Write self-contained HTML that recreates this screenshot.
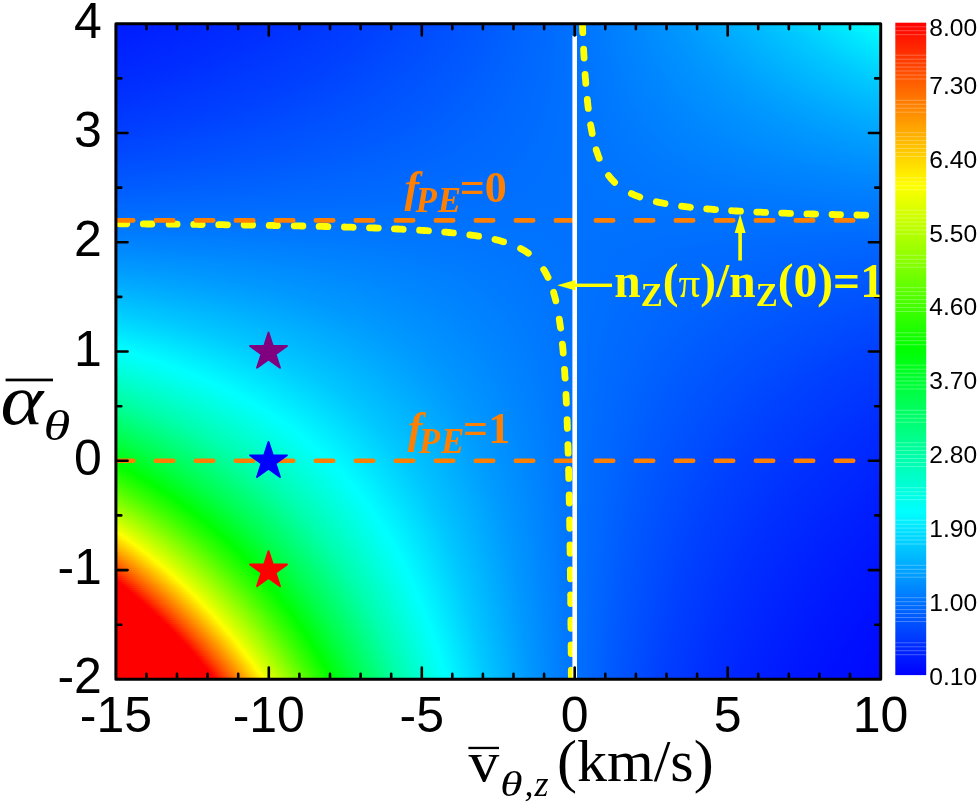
<!DOCTYPE html>
<html><head><meta charset="utf-8"><title>plot</title>
<style>html,body{margin:0;padding:0;background:#fff}svg{display:block}.a{font-family:"Liberation Sans",Arial,sans-serif}.t{font-family:"Liberation Serif","Times New Roman",serif}</style></head><body>
<svg width="979" height="804" viewBox="0 0 979 804">
<rect width="979" height="804" fill="#fff"/>
<defs>
<linearGradient id="g0" gradientUnits="userSpaceOnUse" x1="114" x2="882" y1="0" y2="0"><stop offset="0" stop-color="#001bff"/><stop offset=".091" stop-color="#0023ff"/><stop offset=".221" stop-color="#0030ff"/><stop offset=".351" stop-color="#0041ff"/><stop offset=".48" stop-color="#0058ff"/><stop offset=".61" stop-color="#0074ff"/><stop offset=".74" stop-color="#0099ff"/><stop offset=".869" stop-color="#00c8ff"/><stop offset=".989" stop-color="#00ffff"/><stop offset=".999" stop-color="#00fffa"/></linearGradient>
<linearGradient id="g1" gradientUnits="userSpaceOnUse" x1="114" x2="882" y1="0" y2="0"><stop offset="0" stop-color="#001bff"/><stop offset=".086" stop-color="#0023ff"/><stop offset=".217" stop-color="#0030ff"/><stop offset=".348" stop-color="#0041ff"/><stop offset=".479" stop-color="#0058ff"/><stop offset=".61" stop-color="#0074ff"/><stop offset=".741" stop-color="#0099ff"/><stop offset=".872" stop-color="#00c8ff"/><stop offset=".993" stop-color="#00ffff"/><stop offset="1" stop-color="#00fffb"/></linearGradient>
<linearGradient id="g2" gradientUnits="userSpaceOnUse" x1="114" x2="882" y1="0" y2="0"><stop offset="0" stop-color="#001cff"/><stop offset=".081" stop-color="#0023ff"/><stop offset=".213" stop-color="#0030ff"/><stop offset=".345" stop-color="#0041ff"/><stop offset=".478" stop-color="#0058ff"/><stop offset=".61" stop-color="#0074ff"/><stop offset=".742" stop-color="#0099ff"/><stop offset=".875" stop-color="#00c8ff"/><stop offset=".997" stop-color="#00ffff"/><stop offset="1" stop-color="#00fffd"/></linearGradient>
<linearGradient id="g3" gradientUnits="userSpaceOnUse" x1="114" x2="882" y1="0" y2="0"><stop offset="0" stop-color="#001cff"/><stop offset=".075" stop-color="#0023ff"/><stop offset=".209" stop-color="#0030ff"/><stop offset=".343" stop-color="#0041ff"/><stop offset=".476" stop-color="#0058ff"/><stop offset=".61" stop-color="#0074ff"/><stop offset=".744" stop-color="#0099ff"/><stop offset=".878" stop-color="#00c8ff"/><stop offset="1" stop-color="#00ffff"/></linearGradient>
<linearGradient id="g4" gradientUnits="userSpaceOnUse" x1="114" x2="882" y1="0" y2="0"><stop offset="0" stop-color="#001dff"/><stop offset=".07" stop-color="#0023ff"/><stop offset=".205" stop-color="#0030ff"/><stop offset=".34" stop-color="#0041ff"/><stop offset=".475" stop-color="#0058ff"/><stop offset=".61" stop-color="#0074ff"/><stop offset=".745" stop-color="#0099ff"/><stop offset=".881" stop-color="#00c8ff"/><stop offset="1" stop-color="#00fdff"/></linearGradient>
<linearGradient id="g5" gradientUnits="userSpaceOnUse" x1="114" x2="882" y1="0" y2="0"><stop offset="0" stop-color="#001dff"/><stop offset=".064" stop-color="#0023ff"/><stop offset=".201" stop-color="#0030ff"/><stop offset=".337" stop-color="#0041ff"/><stop offset=".474" stop-color="#0058ff"/><stop offset=".61" stop-color="#0074ff"/><stop offset=".747" stop-color="#0099ff"/><stop offset=".884" stop-color="#00c8ff"/><stop offset="1" stop-color="#00faff"/></linearGradient>
<linearGradient id="g6" gradientUnits="userSpaceOnUse" x1="114" x2="882" y1="0" y2="0"><stop offset="0" stop-color="#001eff"/><stop offset=".058" stop-color="#0023ff"/><stop offset=".196" stop-color="#0030ff"/><stop offset=".334" stop-color="#0041ff"/><stop offset=".472" stop-color="#0058ff"/><stop offset=".611" stop-color="#0074ff"/><stop offset=".749" stop-color="#0099ff"/><stop offset=".887" stop-color="#00c8ff"/><stop offset="1" stop-color="#00f8ff"/></linearGradient>
<linearGradient id="g7" gradientUnits="userSpaceOnUse" x1="114" x2="882" y1="0" y2="0"><stop offset="0" stop-color="#001eff"/><stop offset=".052" stop-color="#0023ff"/><stop offset=".192" stop-color="#0030ff"/><stop offset=".331" stop-color="#0041ff"/><stop offset=".471" stop-color="#0058ff"/><stop offset=".611" stop-color="#0074ff"/><stop offset=".75" stop-color="#0099ff"/><stop offset=".89" stop-color="#00c8ff"/><stop offset="1" stop-color="#00f6ff"/></linearGradient>
<linearGradient id="g8" gradientUnits="userSpaceOnUse" x1="114" x2="882" y1="0" y2="0"><stop offset="0" stop-color="#001fff"/><stop offset=".046" stop-color="#0023ff"/><stop offset=".187" stop-color="#0030ff"/><stop offset=".329" stop-color="#0041ff"/><stop offset=".47" stop-color="#0058ff"/><stop offset=".611" stop-color="#0074ff"/><stop offset=".752" stop-color="#0099ff"/><stop offset=".893" stop-color="#00c8ff"/><stop offset="1" stop-color="#00f4ff"/></linearGradient>
<linearGradient id="g9" gradientUnits="userSpaceOnUse" x1="114" x2="882" y1="0" y2="0"><stop offset="0" stop-color="#001fff"/><stop offset=".04" stop-color="#0023ff"/><stop offset=".183" stop-color="#0030ff"/><stop offset=".326" stop-color="#0041ff"/><stop offset=".468" stop-color="#0058ff"/><stop offset=".611" stop-color="#0074ff"/><stop offset=".754" stop-color="#0099ff"/><stop offset=".896" stop-color="#00c8ff"/><stop offset="1" stop-color="#00f2ff"/></linearGradient>
<linearGradient id="g10" gradientUnits="userSpaceOnUse" x1="114" x2="882" y1="0" y2="0"><stop offset="0" stop-color="#0020ff"/><stop offset=".034" stop-color="#0023ff"/><stop offset=".178" stop-color="#0030ff"/><stop offset=".322" stop-color="#0041ff"/><stop offset=".467" stop-color="#0058ff"/><stop offset=".611" stop-color="#0074ff"/><stop offset=".755" stop-color="#0099ff"/><stop offset=".9" stop-color="#00c8ff"/><stop offset="1" stop-color="#00f0ff"/></linearGradient>
<linearGradient id="g11" gradientUnits="userSpaceOnUse" x1="114" x2="882" y1="0" y2="0"><stop offset="0" stop-color="#0020ff"/><stop offset=".027" stop-color="#0023ff"/><stop offset=".173" stop-color="#0030ff"/><stop offset=".319" stop-color="#0041ff"/><stop offset=".465" stop-color="#0058ff"/><stop offset=".611" stop-color="#0074ff"/><stop offset=".757" stop-color="#0099ff"/><stop offset=".903" stop-color="#00c8ff"/><stop offset="1" stop-color="#00eeff"/></linearGradient>
<linearGradient id="g12" gradientUnits="userSpaceOnUse" x1="114" x2="882" y1="0" y2="0"><stop offset="0" stop-color="#0021ff"/><stop offset=".021" stop-color="#0023ff"/><stop offset=".168" stop-color="#0030ff"/><stop offset=".316" stop-color="#0041ff"/><stop offset=".464" stop-color="#0058ff"/><stop offset=".611" stop-color="#0074ff"/><stop offset=".759" stop-color="#0099ff"/><stop offset=".907" stop-color="#00c8ff"/><stop offset="1" stop-color="#00ecff"/></linearGradient>
<linearGradient id="g13" gradientUnits="userSpaceOnUse" x1="114" x2="882" y1="0" y2="0"><stop offset="0" stop-color="#0021ff"/><stop offset=".014" stop-color="#0023ff"/><stop offset=".163" stop-color="#0030ff"/><stop offset=".313" stop-color="#0041ff"/><stop offset=".462" stop-color="#0058ff"/><stop offset=".611" stop-color="#0074ff"/><stop offset=".761" stop-color="#0099ff"/><stop offset=".91" stop-color="#00c8ff"/><stop offset="1" stop-color="#00ebff"/></linearGradient>
<linearGradient id="g14" gradientUnits="userSpaceOnUse" x1="114" x2="882" y1="0" y2="0"><stop offset="0" stop-color="#0022ff"/><stop offset=".007" stop-color="#0023ff"/><stop offset=".158" stop-color="#0030ff"/><stop offset=".309" stop-color="#0041ff"/><stop offset=".46" stop-color="#0058ff"/><stop offset=".612" stop-color="#0074ff"/><stop offset=".763" stop-color="#0099ff"/><stop offset=".914" stop-color="#00c8ff"/><stop offset="1" stop-color="#00e9ff"/></linearGradient>
<linearGradient id="g15" gradientUnits="userSpaceOnUse" x1="114" x2="882" y1="0" y2="0"><stop offset="0" stop-color="#0023ff"/><stop offset=".153" stop-color="#0030ff"/><stop offset=".306" stop-color="#0041ff"/><stop offset=".459" stop-color="#0058ff"/><stop offset=".612" stop-color="#0074ff"/><stop offset=".765" stop-color="#0099ff"/><stop offset=".918" stop-color="#00c8ff"/><stop offset="1" stop-color="#00e7ff"/></linearGradient>
<linearGradient id="g16" gradientUnits="userSpaceOnUse" x1="114" x2="882" y1="0" y2="0"><stop offset="0" stop-color="#0023ff"/><stop offset=".147" stop-color="#0030ff"/><stop offset=".302" stop-color="#0041ff"/><stop offset=".457" stop-color="#0058ff"/><stop offset=".612" stop-color="#0074ff"/><stop offset=".767" stop-color="#0099ff"/><stop offset=".921" stop-color="#00c8ff"/><stop offset="1" stop-color="#00e5ff"/></linearGradient>
<linearGradient id="g17" gradientUnits="userSpaceOnUse" x1="114" x2="882" y1="0" y2="0"><stop offset="0" stop-color="#0024ff"/><stop offset=".142" stop-color="#0030ff"/><stop offset=".299" stop-color="#0041ff"/><stop offset=".455" stop-color="#0058ff"/><stop offset=".612" stop-color="#0074ff"/><stop offset=".769" stop-color="#0099ff"/><stop offset=".925" stop-color="#00c8ff"/><stop offset="1" stop-color="#00e3ff"/></linearGradient>
<linearGradient id="g18" gradientUnits="userSpaceOnUse" x1="114" x2="882" y1="0" y2="0"><stop offset="0" stop-color="#0024ff"/><stop offset=".136" stop-color="#0030ff"/><stop offset=".295" stop-color="#0041ff"/><stop offset=".454" stop-color="#0058ff"/><stop offset=".612" stop-color="#0074ff"/><stop offset=".771" stop-color="#0099ff"/><stop offset=".929" stop-color="#00c8ff"/><stop offset="1" stop-color="#00e1ff"/></linearGradient>
<linearGradient id="g19" gradientUnits="userSpaceOnUse" x1="114" x2="882" y1="0" y2="0"><stop offset="0" stop-color="#0025ff"/><stop offset=".13" stop-color="#0030ff"/><stop offset=".291" stop-color="#0041ff"/><stop offset=".452" stop-color="#0058ff"/><stop offset=".612" stop-color="#0074ff"/><stop offset=".773" stop-color="#0099ff"/><stop offset=".934" stop-color="#00c8ff"/><stop offset="1" stop-color="#00dfff"/></linearGradient>
<linearGradient id="g20" gradientUnits="userSpaceOnUse" x1="114" x2="882" y1="0" y2="0"><stop offset="0" stop-color="#0025ff"/><stop offset=".125" stop-color="#0030ff"/><stop offset=".287" stop-color="#0041ff"/><stop offset=".45" stop-color="#0058ff"/><stop offset=".612" stop-color="#0074ff"/><stop offset=".775" stop-color="#0099ff"/><stop offset=".938" stop-color="#00c8ff"/><stop offset="1" stop-color="#00ddff"/></linearGradient>
<linearGradient id="g21" gradientUnits="userSpaceOnUse" x1="114" x2="882" y1="0" y2="0"><stop offset="0" stop-color="#0026ff"/><stop offset=".118" stop-color="#0030ff"/><stop offset=".283" stop-color="#0041ff"/><stop offset=".448" stop-color="#0058ff"/><stop offset=".613" stop-color="#0074ff"/><stop offset=".777" stop-color="#0099ff"/><stop offset=".942" stop-color="#00c8ff"/><stop offset="1" stop-color="#00dcff"/></linearGradient>
<linearGradient id="g22" gradientUnits="userSpaceOnUse" x1="114" x2="882" y1="0" y2="0"><stop offset="0" stop-color="#0027ff"/><stop offset=".112" stop-color="#0030ff"/><stop offset=".279" stop-color="#0041ff"/><stop offset=".446" stop-color="#0058ff"/><stop offset=".613" stop-color="#0074ff"/><stop offset=".78" stop-color="#0099ff"/><stop offset=".947" stop-color="#00c8ff"/><stop offset="1" stop-color="#00daff"/></linearGradient>
<linearGradient id="g23" gradientUnits="userSpaceOnUse" x1="114" x2="882" y1="0" y2="0"><stop offset="0" stop-color="#0027ff"/><stop offset=".106" stop-color="#0030ff"/><stop offset=".275" stop-color="#0041ff"/><stop offset=".444" stop-color="#0058ff"/><stop offset=".613" stop-color="#0074ff"/><stop offset=".782" stop-color="#0099ff"/><stop offset=".951" stop-color="#00c8ff"/><stop offset="1" stop-color="#00d8ff"/></linearGradient>
<linearGradient id="g24" gradientUnits="userSpaceOnUse" x1="114" x2="882" y1="0" y2="0"><stop offset="0" stop-color="#0028ff"/><stop offset=".099" stop-color="#0030ff"/><stop offset=".27" stop-color="#0041ff"/><stop offset=".442" stop-color="#0058ff"/><stop offset=".613" stop-color="#0074ff"/><stop offset=".784" stop-color="#0099ff"/><stop offset=".956" stop-color="#00c8ff"/><stop offset="1" stop-color="#00d6ff"/></linearGradient>
<linearGradient id="g25" gradientUnits="userSpaceOnUse" x1="114" x2="882" y1="0" y2="0"><stop offset="0" stop-color="#0028ff"/><stop offset=".092" stop-color="#0030ff"/><stop offset=".266" stop-color="#0041ff"/><stop offset=".44" stop-color="#0058ff"/><stop offset=".613" stop-color="#0074ff"/><stop offset=".787" stop-color="#0099ff"/><stop offset=".961" stop-color="#00c8ff"/><stop offset="1" stop-color="#00d4ff"/></linearGradient>
<linearGradient id="g26" gradientUnits="userSpaceOnUse" x1="114" x2="882" y1="0" y2="0"><stop offset="0" stop-color="#0029ff"/><stop offset=".085" stop-color="#0030ff"/><stop offset=".261" stop-color="#0041ff"/><stop offset=".437" stop-color="#0058ff"/><stop offset=".613" stop-color="#0074ff"/><stop offset=".79" stop-color="#0099ff"/><stop offset=".966" stop-color="#00c8ff"/><stop offset="1" stop-color="#00d3ff"/></linearGradient>
<linearGradient id="g27" gradientUnits="userSpaceOnUse" x1="114" x2="882" y1="0" y2="0"><stop offset="0" stop-color="#002aff"/><stop offset=".078" stop-color="#0030ff"/><stop offset=".257" stop-color="#0041ff"/><stop offset=".435" stop-color="#0058ff"/><stop offset=".614" stop-color="#0074ff"/><stop offset=".792" stop-color="#0099ff"/><stop offset=".971" stop-color="#00c8ff"/><stop offset="1" stop-color="#00d1ff"/></linearGradient>
<linearGradient id="g28" gradientUnits="userSpaceOnUse" x1="114" x2="882" y1="0" y2="0"><stop offset="0" stop-color="#002aff"/><stop offset=".071" stop-color="#0030ff"/><stop offset=".252" stop-color="#0041ff"/><stop offset=".433" stop-color="#0058ff"/><stop offset=".614" stop-color="#0074ff"/><stop offset=".795" stop-color="#0099ff"/><stop offset=".976" stop-color="#00c8ff"/><stop offset="1" stop-color="#00cfff"/></linearGradient>
<linearGradient id="g29" gradientUnits="userSpaceOnUse" x1="114" x2="882" y1="0" y2="0"><stop offset="0" stop-color="#002bff"/><stop offset=".063" stop-color="#0030ff"/><stop offset=".247" stop-color="#0041ff"/><stop offset=".43" stop-color="#0058ff"/><stop offset=".614" stop-color="#0074ff"/><stop offset=".798" stop-color="#0099ff"/><stop offset=".981" stop-color="#00c8ff"/><stop offset="1" stop-color="#00cdff"/></linearGradient>
<linearGradient id="g30" gradientUnits="userSpaceOnUse" x1="114" x2="882" y1="0" y2="0"><stop offset="0" stop-color="#002cff"/><stop offset=".055" stop-color="#0030ff"/><stop offset=".242" stop-color="#0041ff"/><stop offset=".428" stop-color="#0058ff"/><stop offset=".614" stop-color="#0074ff"/><stop offset=".801" stop-color="#0099ff"/><stop offset=".987" stop-color="#00c8ff"/><stop offset="1" stop-color="#00ccff"/></linearGradient>
<linearGradient id="g31" gradientUnits="userSpaceOnUse" x1="114" x2="882" y1="0" y2="0"><stop offset="0" stop-color="#002cff"/><stop offset=".047" stop-color="#0030ff"/><stop offset=".236" stop-color="#0041ff"/><stop offset=".425" stop-color="#0058ff"/><stop offset=".614" stop-color="#0074ff"/><stop offset=".804" stop-color="#0099ff"/><stop offset=".993" stop-color="#00c8ff"/><stop offset="1" stop-color="#00caff"/></linearGradient>
<linearGradient id="g32" gradientUnits="userSpaceOnUse" x1="114" x2="882" y1="0" y2="0"><stop offset="0" stop-color="#002dff"/><stop offset=".039" stop-color="#0030ff"/><stop offset=".231" stop-color="#0041ff"/><stop offset=".423" stop-color="#0058ff"/><stop offset=".615" stop-color="#0074ff"/><stop offset=".807" stop-color="#0099ff"/><stop offset=".999" stop-color="#00c8ff"/></linearGradient>
<linearGradient id="g33" gradientUnits="userSpaceOnUse" x1="114" x2="882" y1="0" y2="0"><stop offset="0" stop-color="#002eff"/><stop offset=".03" stop-color="#0030ff"/><stop offset=".225" stop-color="#0041ff"/><stop offset=".42" stop-color="#0058ff"/><stop offset=".615" stop-color="#0074ff"/><stop offset=".81" stop-color="#0099ff"/><stop offset="1" stop-color="#00c7ff"/></linearGradient>
<linearGradient id="g34" gradientUnits="userSpaceOnUse" x1="114" x2="882" y1="0" y2="0"><stop offset="0" stop-color="#002eff"/><stop offset=".022" stop-color="#0030ff"/><stop offset=".219" stop-color="#0041ff"/><stop offset=".417" stop-color="#0058ff"/><stop offset=".615" stop-color="#0074ff"/><stop offset=".813" stop-color="#0099ff"/><stop offset="1" stop-color="#00c5ff"/></linearGradient>
<linearGradient id="g35" gradientUnits="userSpaceOnUse" x1="114" x2="882" y1="0" y2="0"><stop offset="0" stop-color="#002fff"/><stop offset=".013" stop-color="#0030ff"/><stop offset=".214" stop-color="#0041ff"/><stop offset=".414" stop-color="#0058ff"/><stop offset=".615" stop-color="#0074ff"/><stop offset=".816" stop-color="#0099ff"/><stop offset="1" stop-color="#00c3ff"/></linearGradient>
<linearGradient id="g36" gradientUnits="userSpaceOnUse" x1="114" x2="882" y1="0" y2="0"><stop offset="0" stop-color="#0030ff"/><stop offset=".003" stop-color="#0030ff"/><stop offset=".207" stop-color="#0041ff"/><stop offset=".412" stop-color="#0058ff"/><stop offset=".616" stop-color="#0074ff"/><stop offset=".82" stop-color="#0099ff"/><stop offset="1" stop-color="#00c2ff"/></linearGradient>
<linearGradient id="g37" gradientUnits="userSpaceOnUse" x1="114" x2="882" y1="0" y2="0"><stop offset="0" stop-color="#0031ff"/><stop offset=".201" stop-color="#0041ff"/><stop offset=".408" stop-color="#0058ff"/><stop offset=".616" stop-color="#0074ff"/><stop offset=".823" stop-color="#0099ff"/><stop offset="1" stop-color="#00c0ff"/></linearGradient>
<linearGradient id="g38" gradientUnits="userSpaceOnUse" x1="114" x2="882" y1="0" y2="0"><stop offset="0" stop-color="#0031ff"/><stop offset=".194" stop-color="#0041ff"/><stop offset=".405" stop-color="#0058ff"/><stop offset=".616" stop-color="#0074ff"/><stop offset=".827" stop-color="#0099ff"/><stop offset="1" stop-color="#00bfff"/></linearGradient>
<linearGradient id="g39" gradientUnits="userSpaceOnUse" x1="114" x2="882" y1="0" y2="0"><stop offset="0" stop-color="#0032ff"/><stop offset=".188" stop-color="#0041ff"/><stop offset=".402" stop-color="#0058ff"/><stop offset=".616" stop-color="#0074ff"/><stop offset=".831" stop-color="#0099ff"/><stop offset="1" stop-color="#00bdff"/></linearGradient>
<linearGradient id="g40" gradientUnits="userSpaceOnUse" x1="114" x2="882" y1="0" y2="0"><stop offset="0" stop-color="#0033ff"/><stop offset=".181" stop-color="#0041ff"/><stop offset=".399" stop-color="#0058ff"/><stop offset=".617" stop-color="#0074ff"/><stop offset=".835" stop-color="#0099ff"/><stop offset="1" stop-color="#00bbff"/></linearGradient>
<linearGradient id="g41" gradientUnits="userSpaceOnUse" x1="114" x2="882" y1="0" y2="0"><stop offset="0" stop-color="#0034ff"/><stop offset=".173" stop-color="#0041ff"/><stop offset=".395" stop-color="#0058ff"/><stop offset=".617" stop-color="#0074ff"/><stop offset=".839" stop-color="#0099ff"/><stop offset="1" stop-color="#00baff"/></linearGradient>
<linearGradient id="g42" gradientUnits="userSpaceOnUse" x1="114" x2="882" y1="0" y2="0"><stop offset="0" stop-color="#0034ff"/><stop offset=".166" stop-color="#0041ff"/><stop offset=".392" stop-color="#0058ff"/><stop offset=".617" stop-color="#0074ff"/><stop offset=".843" stop-color="#0099ff"/><stop offset="1" stop-color="#00b8ff"/></linearGradient>
<linearGradient id="g43" gradientUnits="userSpaceOnUse" x1="114" x2="882" y1="0" y2="0"><stop offset="0" stop-color="#0035ff"/><stop offset=".158" stop-color="#0041ff"/><stop offset=".388" stop-color="#0058ff"/><stop offset=".618" stop-color="#0074ff"/><stop offset=".847" stop-color="#0099ff"/><stop offset="1" stop-color="#00b7ff"/></linearGradient>
<linearGradient id="g44" gradientUnits="userSpaceOnUse" x1="114" x2="882" y1="0" y2="0"><stop offset="0" stop-color="#0036ff"/><stop offset=".15" stop-color="#0041ff"/><stop offset=".384" stop-color="#0058ff"/><stop offset=".618" stop-color="#0074ff"/><stop offset=".852" stop-color="#0099ff"/><stop offset="1" stop-color="#00b5ff"/></linearGradient>
<linearGradient id="g45" gradientUnits="userSpaceOnUse" x1="114" x2="882" y1="0" y2="0"><stop offset="0" stop-color="#0037ff"/><stop offset=".142" stop-color="#0041ff"/><stop offset=".38" stop-color="#0058ff"/><stop offset=".618" stop-color="#0074ff"/><stop offset=".857" stop-color="#0099ff"/><stop offset="1" stop-color="#00b4ff"/></linearGradient>
<linearGradient id="g46" gradientUnits="userSpaceOnUse" x1="114" x2="882" y1="0" y2="0"><stop offset="0" stop-color="#0037ff"/><stop offset=".133" stop-color="#0041ff"/><stop offset=".376" stop-color="#0058ff"/><stop offset=".619" stop-color="#0074ff"/><stop offset=".862" stop-color="#0099ff"/><stop offset="1" stop-color="#00b2ff"/></linearGradient>
<linearGradient id="g47" gradientUnits="userSpaceOnUse" x1="114" x2="882" y1="0" y2="0"><stop offset="0" stop-color="#0038ff"/><stop offset=".124" stop-color="#0041ff"/><stop offset=".371" stop-color="#0058ff"/><stop offset=".619" stop-color="#0074ff"/><stop offset=".867" stop-color="#0099ff"/><stop offset="1" stop-color="#00b1ff"/></linearGradient>
<linearGradient id="g48" gradientUnits="userSpaceOnUse" x1="114" x2="882" y1="0" y2="0"><stop offset="0" stop-color="#0039ff"/><stop offset=".114" stop-color="#0041ff"/><stop offset=".367" stop-color="#0058ff"/><stop offset=".619" stop-color="#0074ff"/><stop offset=".872" stop-color="#0099ff"/><stop offset="1" stop-color="#00afff"/></linearGradient>
<linearGradient id="g49" gradientUnits="userSpaceOnUse" x1="114" x2="882" y1="0" y2="0"><stop offset="0" stop-color="#003aff"/><stop offset=".105" stop-color="#0041ff"/><stop offset=".362" stop-color="#0058ff"/><stop offset=".62" stop-color="#0074ff"/><stop offset=".877" stop-color="#0099ff"/><stop offset="1" stop-color="#00aeff"/></linearGradient>
<linearGradient id="g50" gradientUnits="userSpaceOnUse" x1="114" x2="882" y1="0" y2="0"><stop offset="0" stop-color="#003bff"/><stop offset=".095" stop-color="#0041ff"/><stop offset=".357" stop-color="#0058ff"/><stop offset=".62" stop-color="#0074ff"/><stop offset=".883" stop-color="#0099ff"/><stop offset="1" stop-color="#00acff"/></linearGradient>
<linearGradient id="g51" gradientUnits="userSpaceOnUse" x1="114" x2="882" y1="0" y2="0"><stop offset="0" stop-color="#003cff"/><stop offset=".084" stop-color="#0041ff"/><stop offset=".352" stop-color="#0058ff"/><stop offset=".621" stop-color="#0074ff"/><stop offset=".889" stop-color="#0099ff"/><stop offset="1" stop-color="#00abff"/></linearGradient>
<linearGradient id="g52" gradientUnits="userSpaceOnUse" x1="114" x2="882" y1="0" y2="0"><stop offset="0" stop-color="#003cff"/><stop offset=".073" stop-color="#0041ff"/><stop offset=".347" stop-color="#0058ff"/><stop offset=".621" stop-color="#0074ff"/><stop offset=".895" stop-color="#0099ff"/><stop offset="1" stop-color="#00aaff"/></linearGradient>
<linearGradient id="g53" gradientUnits="userSpaceOnUse" x1="114" x2="882" y1="0" y2="0"><stop offset="0" stop-color="#003dff"/><stop offset=".061" stop-color="#0041ff"/><stop offset=".341" stop-color="#0058ff"/><stop offset=".622" stop-color="#0074ff"/><stop offset=".902" stop-color="#0099ff"/><stop offset="1" stop-color="#00a8ff"/></linearGradient>
<linearGradient id="g54" gradientUnits="userSpaceOnUse" x1="114" x2="882" y1="0" y2="0"><stop offset="0" stop-color="#003eff"/><stop offset=".049" stop-color="#0041ff"/><stop offset=".336" stop-color="#0058ff"/><stop offset=".622" stop-color="#0074ff"/><stop offset=".908" stop-color="#0099ff"/><stop offset="1" stop-color="#00a7ff"/></linearGradient>
<linearGradient id="g55" gradientUnits="userSpaceOnUse" x1="114" x2="882" y1="0" y2="0"><stop offset="0" stop-color="#003fff"/><stop offset=".037" stop-color="#0041ff"/><stop offset=".33" stop-color="#0058ff"/><stop offset=".623" stop-color="#0074ff"/><stop offset=".915" stop-color="#0099ff"/><stop offset="1" stop-color="#00a5ff"/></linearGradient>
<linearGradient id="g56" gradientUnits="userSpaceOnUse" x1="114" x2="882" y1="0" y2="0"><stop offset="0" stop-color="#0040ff"/><stop offset=".024" stop-color="#0041ff"/><stop offset=".323" stop-color="#0058ff"/><stop offset=".623" stop-color="#0074ff"/><stop offset=".923" stop-color="#0099ff"/><stop offset="1" stop-color="#00a4ff"/></linearGradient>
<linearGradient id="g57" gradientUnits="userSpaceOnUse" x1="114" x2="882" y1="0" y2="0"><stop offset="0" stop-color="#0041ff"/><stop offset=".01" stop-color="#0041ff"/><stop offset=".317" stop-color="#0058ff"/><stop offset=".624" stop-color="#0074ff"/><stop offset=".931" stop-color="#0099ff"/><stop offset="1" stop-color="#00a3ff"/></linearGradient>
<linearGradient id="g58" gradientUnits="userSpaceOnUse" x1="114" x2="882" y1="0" y2="0"><stop offset="0" stop-color="#0042ff"/><stop offset=".31" stop-color="#0058ff"/><stop offset=".624" stop-color="#0074ff"/><stop offset=".939" stop-color="#0099ff"/><stop offset="1" stop-color="#00a1ff"/></linearGradient>
<linearGradient id="g59" gradientUnits="userSpaceOnUse" x1="114" x2="882" y1="0" y2="0"><stop offset="0" stop-color="#0043ff"/><stop offset=".302" stop-color="#0058ff"/><stop offset=".625" stop-color="#0074ff"/><stop offset=".947" stop-color="#0099ff"/><stop offset="1" stop-color="#00a0ff"/></linearGradient>
<linearGradient id="g60" gradientUnits="userSpaceOnUse" x1="114" x2="882" y1="0" y2="0"><stop offset="0" stop-color="#0044ff"/><stop offset=".295" stop-color="#0058ff"/><stop offset=".625" stop-color="#0074ff"/><stop offset=".956" stop-color="#0099ff"/><stop offset="1" stop-color="#009eff"/></linearGradient>
<linearGradient id="g61" gradientUnits="userSpaceOnUse" x1="114" x2="882" y1="0" y2="0"><stop offset="0" stop-color="#0045ff"/><stop offset=".287" stop-color="#0058ff"/><stop offset=".626" stop-color="#0074ff"/><stop offset=".966" stop-color="#0099ff"/><stop offset="1" stop-color="#009dff"/></linearGradient>
<linearGradient id="g62" gradientUnits="userSpaceOnUse" x1="114" x2="882" y1="0" y2="0"><stop offset="0" stop-color="#0045ff"/><stop offset=".278" stop-color="#0058ff"/><stop offset=".627" stop-color="#0074ff"/><stop offset=".976" stop-color="#0099ff"/><stop offset="1" stop-color="#009cff"/></linearGradient>
<linearGradient id="g63" gradientUnits="userSpaceOnUse" x1="114" x2="882" y1="0" y2="0"><stop offset="0" stop-color="#0046ff"/><stop offset=".269" stop-color="#0058ff"/><stop offset=".628" stop-color="#0074ff"/><stop offset=".986" stop-color="#0099ff"/><stop offset="1" stop-color="#009aff"/></linearGradient>
<linearGradient id="g64" gradientUnits="userSpaceOnUse" x1="114" x2="882" y1="0" y2="0"><stop offset="0" stop-color="#0047ff"/><stop offset=".26" stop-color="#0058ff"/><stop offset=".628" stop-color="#0074ff"/><stop offset=".997" stop-color="#0099ff"/><stop offset="1" stop-color="#0099ff"/></linearGradient>
<linearGradient id="g65" gradientUnits="userSpaceOnUse" x1="114" x2="882" y1="0" y2="0"><stop offset="0" stop-color="#0048ff"/><stop offset=".249" stop-color="#0058ff"/><stop offset=".629" stop-color="#0074ff"/><stop offset="1" stop-color="#0098ff"/></linearGradient>
<linearGradient id="g66" gradientUnits="userSpaceOnUse" x1="114" x2="882" y1="0" y2="0"><stop offset="0" stop-color="#0049ff"/><stop offset=".239" stop-color="#0058ff"/><stop offset=".63" stop-color="#0074ff"/><stop offset="1" stop-color="#0097ff"/></linearGradient>
<linearGradient id="g67" gradientUnits="userSpaceOnUse" x1="114" x2="882" y1="0" y2="0"><stop offset="0" stop-color="#004aff"/><stop offset=".227" stop-color="#0058ff"/><stop offset=".631" stop-color="#0074ff"/><stop offset="1" stop-color="#0095ff"/></linearGradient>
<linearGradient id="g68" gradientUnits="userSpaceOnUse" x1="114" x2="882" y1="0" y2="0"><stop offset="0" stop-color="#004bff"/><stop offset=".215" stop-color="#0058ff"/><stop offset=".632" stop-color="#0074ff"/><stop offset="1" stop-color="#0094ff"/></linearGradient>
<linearGradient id="g69" gradientUnits="userSpaceOnUse" x1="114" x2="882" y1="0" y2="0"><stop offset="0" stop-color="#004dff"/><stop offset=".202" stop-color="#0058ff"/><stop offset=".633" stop-color="#0074ff"/><stop offset="1" stop-color="#0093ff"/></linearGradient>
<linearGradient id="g70" gradientUnits="userSpaceOnUse" x1="114" x2="882" y1="0" y2="0"><stop offset="0" stop-color="#004eff"/><stop offset=".188" stop-color="#0058ff"/><stop offset=".634" stop-color="#0074ff"/><stop offset="1" stop-color="#0092ff"/></linearGradient>
<linearGradient id="g71" gradientUnits="userSpaceOnUse" x1="114" x2="882" y1="0" y2="0"><stop offset="0" stop-color="#004fff"/><stop offset=".174" stop-color="#0058ff"/><stop offset=".636" stop-color="#0074ff"/><stop offset="1" stop-color="#0090ff"/></linearGradient>
<linearGradient id="g72" gradientUnits="userSpaceOnUse" x1="114" x2="882" y1="0" y2="0"><stop offset="0" stop-color="#0050ff"/><stop offset=".158" stop-color="#0058ff"/><stop offset=".637" stop-color="#0074ff"/><stop offset="1" stop-color="#008fff"/></linearGradient>
<linearGradient id="g73" gradientUnits="userSpaceOnUse" x1="114" x2="882" y1="0" y2="0"><stop offset="0" stop-color="#0051ff"/><stop offset=".14" stop-color="#0058ff"/><stop offset=".638" stop-color="#0074ff"/><stop offset="1" stop-color="#008eff"/></linearGradient>
<linearGradient id="g74" gradientUnits="userSpaceOnUse" x1="114" x2="882" y1="0" y2="0"><stop offset="0" stop-color="#0052ff"/><stop offset=".122" stop-color="#0058ff"/><stop offset=".64" stop-color="#0074ff"/><stop offset="1" stop-color="#008dff"/></linearGradient>
<linearGradient id="g75" gradientUnits="userSpaceOnUse" x1="114" x2="882" y1="0" y2="0"><stop offset="0" stop-color="#0053ff"/><stop offset=".102" stop-color="#0058ff"/><stop offset=".642" stop-color="#0074ff"/><stop offset="1" stop-color="#008cff"/></linearGradient>
<linearGradient id="g76" gradientUnits="userSpaceOnUse" x1="114" x2="882" y1="0" y2="0"><stop offset="0" stop-color="#0054ff"/><stop offset=".08" stop-color="#0058ff"/><stop offset=".643" stop-color="#0074ff"/><stop offset="1" stop-color="#008aff"/></linearGradient>
<linearGradient id="g77" gradientUnits="userSpaceOnUse" x1="114" x2="882" y1="0" y2="0"><stop offset="0" stop-color="#0055ff"/><stop offset=".056" stop-color="#0058ff"/><stop offset=".645" stop-color="#0074ff"/><stop offset="1" stop-color="#0089ff"/></linearGradient>
<linearGradient id="g78" gradientUnits="userSpaceOnUse" x1="114" x2="882" y1="0" y2="0"><stop offset="0" stop-color="#0056ff"/><stop offset=".029" stop-color="#0058ff"/><stop offset=".648" stop-color="#0074ff"/><stop offset="1" stop-color="#0088ff"/></linearGradient>
<linearGradient id="g79" gradientUnits="userSpaceOnUse" x1="114" x2="882" y1="0" y2="0"><stop offset="0" stop-color="#0058ff"/><stop offset=".65" stop-color="#0074ff"/><stop offset="1" stop-color="#0087ff"/></linearGradient>
<linearGradient id="g80" gradientUnits="userSpaceOnUse" x1="114" x2="882" y1="0" y2="0"><stop offset="0" stop-color="#0059ff"/><stop offset=".653" stop-color="#0074ff"/><stop offset="1" stop-color="#0086ff"/></linearGradient>
<linearGradient id="g81" gradientUnits="userSpaceOnUse" x1="114" x2="882" y1="0" y2="0"><stop offset="0" stop-color="#005aff"/><stop offset=".656" stop-color="#0074ff"/><stop offset="1" stop-color="#0085ff"/></linearGradient>
<linearGradient id="g82" gradientUnits="userSpaceOnUse" x1="114" x2="882" y1="0" y2="0"><stop offset="0" stop-color="#005bff"/><stop offset=".659" stop-color="#0074ff"/><stop offset="1" stop-color="#0083ff"/></linearGradient>
<linearGradient id="g83" gradientUnits="userSpaceOnUse" x1="114" x2="882" y1="0" y2="0"><stop offset="0" stop-color="#005cff"/><stop offset=".663" stop-color="#0074ff"/><stop offset="1" stop-color="#0082ff"/></linearGradient>
<linearGradient id="g84" gradientUnits="userSpaceOnUse" x1="114" x2="882" y1="0" y2="0"><stop offset="0" stop-color="#005eff"/><stop offset=".667" stop-color="#0074ff"/><stop offset="1" stop-color="#0081ff"/></linearGradient>
<linearGradient id="g85" gradientUnits="userSpaceOnUse" x1="114" x2="882" y1="0" y2="0"><stop offset="0" stop-color="#005fff"/><stop offset=".672" stop-color="#0074ff"/><stop offset="1" stop-color="#0080ff"/></linearGradient>
<linearGradient id="g86" gradientUnits="userSpaceOnUse" x1="114" x2="882" y1="0" y2="0"><stop offset="0" stop-color="#0060ff"/><stop offset=".678" stop-color="#0074ff"/><stop offset="1" stop-color="#007fff"/></linearGradient>
<linearGradient id="g87" gradientUnits="userSpaceOnUse" x1="114" x2="882" y1="0" y2="0"><stop offset="0" stop-color="#0062ff"/><stop offset=".684" stop-color="#0074ff"/><stop offset="1" stop-color="#007eff"/></linearGradient>
<linearGradient id="g88" gradientUnits="userSpaceOnUse" x1="114" x2="882" y1="0" y2="0"><stop offset="0" stop-color="#0063ff"/><stop offset=".692" stop-color="#0074ff"/><stop offset="1" stop-color="#007dff"/></linearGradient>
<linearGradient id="g89" gradientUnits="userSpaceOnUse" x1="114" x2="882" y1="0" y2="0"><stop offset="0" stop-color="#0064ff"/><stop offset=".702" stop-color="#0074ff"/><stop offset="1" stop-color="#007cff"/></linearGradient>
<linearGradient id="g90" gradientUnits="userSpaceOnUse" x1="114" x2="882" y1="0" y2="0"><stop offset="0" stop-color="#0065ff"/><stop offset=".714" stop-color="#0074ff"/><stop offset="1" stop-color="#007bff"/></linearGradient>
<linearGradient id="g91" gradientUnits="userSpaceOnUse" x1="114" x2="882" y1="0" y2="0"><stop offset="0" stop-color="#0067ff"/><stop offset=".728" stop-color="#0074ff"/><stop offset="1" stop-color="#007aff"/></linearGradient>
<linearGradient id="g92" gradientUnits="userSpaceOnUse" x1="114" x2="882" y1="0" y2="0"><stop offset="0" stop-color="#0068ff"/><stop offset=".748" stop-color="#0074ff"/><stop offset="1" stop-color="#0079ff"/></linearGradient>
<linearGradient id="g93" gradientUnits="userSpaceOnUse" x1="114" x2="882" y1="0" y2="0"><stop offset="0" stop-color="#006aff"/><stop offset=".773" stop-color="#0074ff"/><stop offset="1" stop-color="#0078ff"/></linearGradient>
<linearGradient id="g94" gradientUnits="userSpaceOnUse" x1="114" x2="882" y1="0" y2="0"><stop offset="0" stop-color="#006bff"/><stop offset=".81" stop-color="#0074ff"/><stop offset="1" stop-color="#0076ff"/></linearGradient>
<linearGradient id="g95" gradientUnits="userSpaceOnUse" x1="114" x2="882" y1="0" y2="0"><stop offset="0" stop-color="#006cff"/><stop offset=".867" stop-color="#0074ff"/><stop offset="1" stop-color="#0075ff"/></linearGradient>
<linearGradient id="g96" gradientUnits="userSpaceOnUse" x1="114" x2="882" y1="0" y2="0"><stop offset="0" stop-color="#006eff"/><stop offset=".966" stop-color="#0074ff"/><stop offset="1" stop-color="#0074ff"/></linearGradient>
<linearGradient id="g97" gradientUnits="userSpaceOnUse" x1="114" x2="882" y1="0" y2="0"><stop offset="0" stop-color="#006fff"/><stop offset="1" stop-color="#0073ff"/></linearGradient>
<linearGradient id="g98" gradientUnits="userSpaceOnUse" x1="114" x2="882" y1="0" y2="0"><stop offset="0" stop-color="#0071ff"/><stop offset="1" stop-color="#0072ff"/></linearGradient>
<linearGradient id="g99" gradientUnits="userSpaceOnUse" x1="114" x2="882" y1="0" y2="0"><stop offset="0" stop-color="#0072ff"/><stop offset="1" stop-color="#0071ff"/></linearGradient>
<linearGradient id="g100" gradientUnits="userSpaceOnUse" x1="114" x2="882" y1="0" y2="0"><stop offset="0" stop-color="#0074ff"/><stop offset="1" stop-color="#0070ff"/></linearGradient>
<linearGradient id="g101" gradientUnits="userSpaceOnUse" x1="114" x2="882" y1="0" y2="0"><stop offset="0" stop-color="#0075ff"/><stop offset=".169" stop-color="#0074ff"/><stop offset="1" stop-color="#006fff"/></linearGradient>
<linearGradient id="g102" gradientUnits="userSpaceOnUse" x1="114" x2="882" y1="0" y2="0"><stop offset="0" stop-color="#0077ff"/><stop offset=".3" stop-color="#0074ff"/><stop offset="1" stop-color="#006fff"/></linearGradient>
<linearGradient id="g103" gradientUnits="userSpaceOnUse" x1="114" x2="882" y1="0" y2="0"><stop offset="0" stop-color="#0078ff"/><stop offset=".369" stop-color="#0074ff"/><stop offset="1" stop-color="#006eff"/></linearGradient>
<linearGradient id="g104" gradientUnits="userSpaceOnUse" x1="114" x2="882" y1="0" y2="0"><stop offset="0" stop-color="#007aff"/><stop offset=".413" stop-color="#0074ff"/><stop offset="1" stop-color="#006dff"/></linearGradient>
<linearGradient id="g105" gradientUnits="userSpaceOnUse" x1="114" x2="882" y1="0" y2="0"><stop offset="0" stop-color="#007bff"/><stop offset=".443" stop-color="#0074ff"/><stop offset="1" stop-color="#006cff"/></linearGradient>
<linearGradient id="g106" gradientUnits="userSpaceOnUse" x1="114" x2="882" y1="0" y2="0"><stop offset="0" stop-color="#007dff"/><stop offset=".464" stop-color="#0074ff"/><stop offset="1" stop-color="#006bff"/></linearGradient>
<linearGradient id="g107" gradientUnits="userSpaceOnUse" x1="114" x2="882" y1="0" y2="0"><stop offset="0" stop-color="#007fff"/><stop offset=".481" stop-color="#0074ff"/><stop offset="1" stop-color="#006aff"/></linearGradient>
<linearGradient id="g108" gradientUnits="userSpaceOnUse" x1="114" x2="882" y1="0" y2="0"><stop offset="0" stop-color="#0080ff"/><stop offset=".493" stop-color="#0074ff"/><stop offset="1" stop-color="#0069ff"/></linearGradient>
<linearGradient id="g109" gradientUnits="userSpaceOnUse" x1="114" x2="882" y1="0" y2="0"><stop offset="0" stop-color="#0082ff"/><stop offset=".504" stop-color="#0074ff"/><stop offset="1" stop-color="#0068ff"/></linearGradient>
<linearGradient id="g110" gradientUnits="userSpaceOnUse" x1="114" x2="882" y1="0" y2="0"><stop offset="0" stop-color="#0084ff"/><stop offset=".512" stop-color="#0074ff"/><stop offset="1" stop-color="#0067ff"/></linearGradient>
<linearGradient id="g111" gradientUnits="userSpaceOnUse" x1="114" x2="882" y1="0" y2="0"><stop offset="0" stop-color="#0085ff"/><stop offset=".519" stop-color="#0074ff"/><stop offset="1" stop-color="#0066ff"/></linearGradient>
<linearGradient id="g112" gradientUnits="userSpaceOnUse" x1="114" x2="882" y1="0" y2="0"><stop offset="0" stop-color="#0087ff"/><stop offset=".525" stop-color="#0074ff"/><stop offset="1" stop-color="#0065ff"/></linearGradient>
<linearGradient id="g113" gradientUnits="userSpaceOnUse" x1="114" x2="882" y1="0" y2="0"><stop offset="0" stop-color="#0089ff"/><stop offset=".531" stop-color="#0074ff"/><stop offset="1" stop-color="#0064ff"/></linearGradient>
<linearGradient id="g114" gradientUnits="userSpaceOnUse" x1="114" x2="882" y1="0" y2="0"><stop offset="0" stop-color="#008bff"/><stop offset=".535" stop-color="#0074ff"/><stop offset="1" stop-color="#0063ff"/></linearGradient>
<linearGradient id="g115" gradientUnits="userSpaceOnUse" x1="114" x2="882" y1="0" y2="0"><stop offset="0" stop-color="#008cff"/><stop offset=".539" stop-color="#0074ff"/><stop offset="1" stop-color="#0063ff"/></linearGradient>
<linearGradient id="g116" gradientUnits="userSpaceOnUse" x1="114" x2="882" y1="0" y2="0"><stop offset="0" stop-color="#008eff"/><stop offset=".543" stop-color="#0074ff"/><stop offset="1" stop-color="#0062ff"/></linearGradient>
<linearGradient id="g117" gradientUnits="userSpaceOnUse" x1="114" x2="882" y1="0" y2="0"><stop offset="0" stop-color="#0090ff"/><stop offset=".546" stop-color="#0074ff"/><stop offset="1" stop-color="#0061ff"/></linearGradient>
<linearGradient id="g118" gradientUnits="userSpaceOnUse" x1="114" x2="882" y1="0" y2="0"><stop offset="0" stop-color="#0092ff"/><stop offset=".549" stop-color="#0074ff"/><stop offset="1" stop-color="#0060ff"/></linearGradient>
<linearGradient id="g119" gradientUnits="userSpaceOnUse" x1="114" x2="882" y1="0" y2="0"><stop offset="0" stop-color="#0094ff"/><stop offset=".551" stop-color="#0074ff"/><stop offset="1" stop-color="#005fff"/></linearGradient>
<linearGradient id="g120" gradientUnits="userSpaceOnUse" x1="114" x2="882" y1="0" y2="0"><stop offset="0" stop-color="#0096ff"/><stop offset=".553" stop-color="#0074ff"/><stop offset="1" stop-color="#005eff"/></linearGradient>
<linearGradient id="g121" gradientUnits="userSpaceOnUse" x1="114" x2="882" y1="0" y2="0"><stop offset="0" stop-color="#0098ff"/><stop offset=".555" stop-color="#0074ff"/><stop offset="1" stop-color="#005dff"/></linearGradient>
<linearGradient id="g122" gradientUnits="userSpaceOnUse" x1="114" x2="882" y1="0" y2="0"><stop offset="0" stop-color="#0099ff"/><stop offset=".008" stop-color="#0099ff"/><stop offset=".557" stop-color="#0074ff"/><stop offset="1" stop-color="#005dff"/></linearGradient>
<linearGradient id="g123" gradientUnits="userSpaceOnUse" x1="114" x2="882" y1="0" y2="0"><stop offset="0" stop-color="#009bff"/><stop offset=".032" stop-color="#0099ff"/><stop offset=".559" stop-color="#0074ff"/><stop offset="1" stop-color="#005cff"/></linearGradient>
<linearGradient id="g124" gradientUnits="userSpaceOnUse" x1="114" x2="882" y1="0" y2="0"><stop offset="0" stop-color="#009dff"/><stop offset=".055" stop-color="#0099ff"/><stop offset=".561" stop-color="#0074ff"/><stop offset="1" stop-color="#005bff"/></linearGradient>
<linearGradient id="g125" gradientUnits="userSpaceOnUse" x1="114" x2="882" y1="0" y2="0"><stop offset="0" stop-color="#009fff"/><stop offset=".075" stop-color="#0099ff"/><stop offset=".562" stop-color="#0074ff"/><stop offset="1" stop-color="#005aff"/></linearGradient>
<linearGradient id="g126" gradientUnits="userSpaceOnUse" x1="114" x2="882" y1="0" y2="0"><stop offset="0" stop-color="#00a1ff"/><stop offset=".095" stop-color="#0099ff"/><stop offset=".564" stop-color="#0074ff"/><stop offset="1" stop-color="#0059ff"/></linearGradient>
<linearGradient id="g127" gradientUnits="userSpaceOnUse" x1="114" x2="882" y1="0" y2="0"><stop offset="0" stop-color="#00a4ff"/><stop offset=".113" stop-color="#0099ff"/><stop offset=".565" stop-color="#0074ff"/><stop offset="1" stop-color="#0059ff"/></linearGradient>
<linearGradient id="g128" gradientUnits="userSpaceOnUse" x1="114" x2="882" y1="0" y2="0"><stop offset="0" stop-color="#00a6ff"/><stop offset=".129" stop-color="#0099ff"/><stop offset=".566" stop-color="#0074ff"/><stop offset="1" stop-color="#0058ff"/></linearGradient>
<linearGradient id="g129" gradientUnits="userSpaceOnUse" x1="114" x2="882" y1="0" y2="0"><stop offset="0" stop-color="#00a8ff"/><stop offset=".145" stop-color="#0099ff"/><stop offset=".567" stop-color="#0074ff"/><stop offset=".99" stop-color="#0058ff"/><stop offset="1" stop-color="#0057ff"/></linearGradient>
<linearGradient id="g130" gradientUnits="userSpaceOnUse" x1="114" x2="882" y1="0" y2="0"><stop offset="0" stop-color="#00aaff"/><stop offset=".159" stop-color="#0099ff"/><stop offset=".568" stop-color="#0074ff"/><stop offset=".977" stop-color="#0058ff"/><stop offset="1" stop-color="#0056ff"/></linearGradient>
<linearGradient id="g131" gradientUnits="userSpaceOnUse" x1="114" x2="882" y1="0" y2="0"><stop offset="0" stop-color="#00acff"/><stop offset=".173" stop-color="#0099ff"/><stop offset=".569" stop-color="#0074ff"/><stop offset=".966" stop-color="#0058ff"/><stop offset="1" stop-color="#0055ff"/></linearGradient>
<linearGradient id="g132" gradientUnits="userSpaceOnUse" x1="114" x2="882" y1="0" y2="0"><stop offset="0" stop-color="#00aeff"/><stop offset=".186" stop-color="#0099ff"/><stop offset=".57" stop-color="#0074ff"/><stop offset=".955" stop-color="#0058ff"/><stop offset="1" stop-color="#0055ff"/></linearGradient>
<linearGradient id="g133" gradientUnits="userSpaceOnUse" x1="114" x2="882" y1="0" y2="0"><stop offset="0" stop-color="#00b0ff"/><stop offset=".198" stop-color="#0099ff"/><stop offset=".571" stop-color="#0074ff"/><stop offset=".944" stop-color="#0058ff"/><stop offset="1" stop-color="#0054ff"/></linearGradient>
<linearGradient id="g134" gradientUnits="userSpaceOnUse" x1="114" x2="882" y1="0" y2="0"><stop offset="0" stop-color="#00b3ff"/><stop offset=".209" stop-color="#0099ff"/><stop offset=".572" stop-color="#0074ff"/><stop offset=".934" stop-color="#0058ff"/><stop offset="1" stop-color="#0053ff"/></linearGradient>
<linearGradient id="g135" gradientUnits="userSpaceOnUse" x1="114" x2="882" y1="0" y2="0"><stop offset="0" stop-color="#00b5ff"/><stop offset=".22" stop-color="#0099ff"/><stop offset=".573" stop-color="#0074ff"/><stop offset=".925" stop-color="#0058ff"/><stop offset="1" stop-color="#0052ff"/></linearGradient>
<linearGradient id="g136" gradientUnits="userSpaceOnUse" x1="114" x2="882" y1="0" y2="0"><stop offset="0" stop-color="#00b7ff"/><stop offset=".23" stop-color="#0099ff"/><stop offset=".573" stop-color="#0074ff"/><stop offset=".917" stop-color="#0058ff"/><stop offset="1" stop-color="#0052ff"/></linearGradient>
<linearGradient id="g137" gradientUnits="userSpaceOnUse" x1="114" x2="882" y1="0" y2="0"><stop offset="0" stop-color="#00b9ff"/><stop offset=".24" stop-color="#0099ff"/><stop offset=".574" stop-color="#0074ff"/><stop offset=".908" stop-color="#0058ff"/><stop offset="1" stop-color="#0051ff"/></linearGradient>
<linearGradient id="g138" gradientUnits="userSpaceOnUse" x1="114" x2="882" y1="0" y2="0"><stop offset="0" stop-color="#00bcff"/><stop offset=".249" stop-color="#0099ff"/><stop offset=".575" stop-color="#0074ff"/><stop offset=".9" stop-color="#0058ff"/><stop offset="1" stop-color="#0050ff"/></linearGradient>
<linearGradient id="g139" gradientUnits="userSpaceOnUse" x1="114" x2="882" y1="0" y2="0"><stop offset="0" stop-color="#00beff"/><stop offset=".258" stop-color="#0099ff"/><stop offset=".575" stop-color="#0074ff"/><stop offset=".893" stop-color="#0058ff"/><stop offset="1" stop-color="#0050ff"/></linearGradient>
<linearGradient id="g140" gradientUnits="userSpaceOnUse" x1="114" x2="882" y1="0" y2="0"><stop offset="0" stop-color="#00c1ff"/><stop offset=".266" stop-color="#0099ff"/><stop offset=".576" stop-color="#0074ff"/><stop offset=".886" stop-color="#0058ff"/><stop offset="1" stop-color="#004fff"/></linearGradient>
<linearGradient id="g141" gradientUnits="userSpaceOnUse" x1="114" x2="882" y1="0" y2="0"><stop offset="0" stop-color="#00c3ff"/><stop offset=".274" stop-color="#0099ff"/><stop offset=".576" stop-color="#0074ff"/><stop offset=".879" stop-color="#0058ff"/><stop offset="1" stop-color="#004eff"/></linearGradient>
<linearGradient id="g142" gradientUnits="userSpaceOnUse" x1="114" x2="882" y1="0" y2="0"><stop offset="0" stop-color="#00c5ff"/><stop offset=".281" stop-color="#0099ff"/><stop offset=".577" stop-color="#0074ff"/><stop offset=".873" stop-color="#0058ff"/><stop offset="1" stop-color="#004dff"/></linearGradient>
<linearGradient id="g143" gradientUnits="userSpaceOnUse" x1="114" x2="882" y1="0" y2="0"><stop offset="0" stop-color="#00c8ff"/><stop offset=".289" stop-color="#0099ff"/><stop offset=".578" stop-color="#0074ff"/><stop offset=".866" stop-color="#0058ff"/><stop offset="1" stop-color="#004dff"/></linearGradient>
<linearGradient id="g144" gradientUnits="userSpaceOnUse" x1="114" x2="882" y1="0" y2="0"><stop offset="0" stop-color="#00caff"/><stop offset=".013" stop-color="#00c8ff"/><stop offset=".295" stop-color="#0099ff"/><stop offset=".578" stop-color="#0074ff"/><stop offset=".861" stop-color="#0058ff"/><stop offset="1" stop-color="#004cff"/></linearGradient>
<linearGradient id="g145" gradientUnits="userSpaceOnUse" x1="114" x2="882" y1="0" y2="0"><stop offset="0" stop-color="#00cdff"/><stop offset=".025" stop-color="#00c8ff"/><stop offset=".302" stop-color="#0099ff"/><stop offset=".578" stop-color="#0074ff"/><stop offset=".855" stop-color="#0058ff"/><stop offset="1" stop-color="#004bff"/></linearGradient>
<linearGradient id="g146" gradientUnits="userSpaceOnUse" x1="114" x2="882" y1="0" y2="0"><stop offset="0" stop-color="#00cfff"/><stop offset=".038" stop-color="#00c8ff"/><stop offset=".308" stop-color="#0099ff"/><stop offset=".579" stop-color="#0074ff"/><stop offset=".85" stop-color="#0058ff"/><stop offset="1" stop-color="#004bff"/></linearGradient>
<linearGradient id="g147" gradientUnits="userSpaceOnUse" x1="114" x2="882" y1="0" y2="0"><stop offset="0" stop-color="#00d2ff"/><stop offset=".049" stop-color="#00c8ff"/><stop offset=".314" stop-color="#0099ff"/><stop offset=".579" stop-color="#0074ff"/><stop offset=".844" stop-color="#0058ff"/><stop offset="1" stop-color="#004aff"/></linearGradient>
<linearGradient id="g148" gradientUnits="userSpaceOnUse" x1="114" x2="882" y1="0" y2="0"><stop offset="0" stop-color="#00d5ff"/><stop offset=".06" stop-color="#00c8ff"/><stop offset=".32" stop-color="#0099ff"/><stop offset=".58" stop-color="#0074ff"/><stop offset=".839" stop-color="#0058ff"/><stop offset="1" stop-color="#0049ff"/></linearGradient>
<linearGradient id="g149" gradientUnits="userSpaceOnUse" x1="114" x2="882" y1="0" y2="0"><stop offset="0" stop-color="#00d7ff"/><stop offset=".071" stop-color="#00c8ff"/><stop offset=".326" stop-color="#0099ff"/><stop offset=".58" stop-color="#0074ff"/><stop offset=".835" stop-color="#0058ff"/><stop offset="1" stop-color="#0049ff"/></linearGradient>
<linearGradient id="g150" gradientUnits="userSpaceOnUse" x1="114" x2="882" y1="0" y2="0"><stop offset="0" stop-color="#00daff"/><stop offset=".081" stop-color="#00c8ff"/><stop offset=".331" stop-color="#0099ff"/><stop offset=".581" stop-color="#0074ff"/><stop offset=".83" stop-color="#0058ff"/><stop offset="1" stop-color="#0048ff"/></linearGradient>
<linearGradient id="g151" gradientUnits="userSpaceOnUse" x1="114" x2="882" y1="0" y2="0"><stop offset="0" stop-color="#00ddff"/><stop offset=".091" stop-color="#00c8ff"/><stop offset=".336" stop-color="#0099ff"/><stop offset=".581" stop-color="#0074ff"/><stop offset=".826" stop-color="#0058ff"/><stop offset="1" stop-color="#0047ff"/></linearGradient>
<linearGradient id="g152" gradientUnits="userSpaceOnUse" x1="114" x2="882" y1="0" y2="0"><stop offset="0" stop-color="#00e0ff"/><stop offset=".101" stop-color="#00c8ff"/><stop offset=".341" stop-color="#0099ff"/><stop offset=".581" stop-color="#0074ff"/><stop offset=".821" stop-color="#0058ff"/><stop offset="1" stop-color="#0047ff"/></linearGradient>
<linearGradient id="g153" gradientUnits="userSpaceOnUse" x1="114" x2="882" y1="0" y2="0"><stop offset="0" stop-color="#00e2ff"/><stop offset=".11" stop-color="#00c8ff"/><stop offset=".346" stop-color="#0099ff"/><stop offset=".582" stop-color="#0074ff"/><stop offset=".817" stop-color="#0058ff"/><stop offset="1" stop-color="#0046ff"/></linearGradient>
<linearGradient id="g154" gradientUnits="userSpaceOnUse" x1="114" x2="882" y1="0" y2="0"><stop offset="0" stop-color="#00e5ff"/><stop offset=".119" stop-color="#00c8ff"/><stop offset=".35" stop-color="#0099ff"/><stop offset=".582" stop-color="#0074ff"/><stop offset=".813" stop-color="#0058ff"/><stop offset="1" stop-color="#0045ff"/></linearGradient>
<linearGradient id="g155" gradientUnits="userSpaceOnUse" x1="114" x2="882" y1="0" y2="0"><stop offset="0" stop-color="#00e8ff"/><stop offset=".128" stop-color="#00c8ff"/><stop offset=".355" stop-color="#0099ff"/><stop offset=".582" stop-color="#0074ff"/><stop offset=".81" stop-color="#0058ff"/><stop offset="1" stop-color="#0045ff"/></linearGradient>
<linearGradient id="g156" gradientUnits="userSpaceOnUse" x1="114" x2="882" y1="0" y2="0"><stop offset="0" stop-color="#00ebff"/><stop offset=".136" stop-color="#00c8ff"/><stop offset=".359" stop-color="#0099ff"/><stop offset=".583" stop-color="#0074ff"/><stop offset=".806" stop-color="#0058ff"/><stop offset="1" stop-color="#0044ff"/></linearGradient>
<linearGradient id="g157" gradientUnits="userSpaceOnUse" x1="114" x2="882" y1="0" y2="0"><stop offset="0" stop-color="#00eeff"/><stop offset=".144" stop-color="#00c8ff"/><stop offset=".363" stop-color="#0099ff"/><stop offset=".583" stop-color="#0074ff"/><stop offset=".802" stop-color="#0058ff"/><stop offset="1" stop-color="#0043ff"/></linearGradient>
<linearGradient id="g158" gradientUnits="userSpaceOnUse" x1="114" x2="882" y1="0" y2="0"><stop offset="0" stop-color="#00f1ff"/><stop offset=".151" stop-color="#00c8ff"/><stop offset=".367" stop-color="#0099ff"/><stop offset=".583" stop-color="#0074ff"/><stop offset=".799" stop-color="#0058ff"/><stop offset="1" stop-color="#0043ff"/></linearGradient>
<linearGradient id="g159" gradientUnits="userSpaceOnUse" x1="114" x2="882" y1="0" y2="0"><stop offset="0" stop-color="#00f4ff"/><stop offset=".159" stop-color="#00c8ff"/><stop offset=".371" stop-color="#0099ff"/><stop offset=".583" stop-color="#0074ff"/><stop offset=".796" stop-color="#0058ff"/><stop offset="1" stop-color="#0042ff"/></linearGradient>
<linearGradient id="g160" gradientUnits="userSpaceOnUse" x1="114" x2="882" y1="0" y2="0"><stop offset="0" stop-color="#00f7ff"/><stop offset=".166" stop-color="#00c8ff"/><stop offset=".375" stop-color="#0099ff"/><stop offset=".584" stop-color="#0074ff"/><stop offset=".793" stop-color="#0058ff"/><stop offset="1" stop-color="#0042ff"/></linearGradient>
<linearGradient id="g161" gradientUnits="userSpaceOnUse" x1="114" x2="882" y1="0" y2="0"><stop offset="0" stop-color="#00faff"/><stop offset=".173" stop-color="#00c8ff"/><stop offset=".378" stop-color="#0099ff"/><stop offset=".584" stop-color="#0074ff"/><stop offset=".789" stop-color="#0058ff"/><stop offset=".995" stop-color="#0041ff"/><stop offset="1" stop-color="#0041ff"/></linearGradient>
<linearGradient id="g162" gradientUnits="userSpaceOnUse" x1="114" x2="882" y1="0" y2="0"><stop offset="0" stop-color="#00fdff"/><stop offset=".18" stop-color="#00c8ff"/><stop offset=".382" stop-color="#0099ff"/><stop offset=".584" stop-color="#0074ff"/><stop offset=".786" stop-color="#0058ff"/><stop offset=".989" stop-color="#0041ff"/><stop offset="1" stop-color="#0040ff"/></linearGradient>
<linearGradient id="g163" gradientUnits="userSpaceOnUse" x1="114" x2="882" y1="0" y2="0"><stop offset="0" stop-color="#00fffe"/><stop offset=".003" stop-color="#00ffff"/><stop offset=".186" stop-color="#00c8ff"/><stop offset=".385" stop-color="#0099ff"/><stop offset=".584" stop-color="#0074ff"/><stop offset=".784" stop-color="#0058ff"/><stop offset=".983" stop-color="#0041ff"/><stop offset="1" stop-color="#0040ff"/></linearGradient>
<linearGradient id="g164" gradientUnits="userSpaceOnUse" x1="114" x2="882" y1="0" y2="0"><stop offset="0" stop-color="#00fffb"/><stop offset=".012" stop-color="#00ffff"/><stop offset=".193" stop-color="#00c8ff"/><stop offset=".389" stop-color="#0099ff"/><stop offset=".585" stop-color="#0074ff"/><stop offset=".781" stop-color="#0058ff"/><stop offset=".977" stop-color="#0041ff"/><stop offset="1" stop-color="#003fff"/></linearGradient>
<linearGradient id="g165" gradientUnits="userSpaceOnUse" x1="114" x2="882" y1="0" y2="0"><stop offset="0" stop-color="#00fff8"/><stop offset=".006" stop-color="#00fffa"/><stop offset=".021" stop-color="#00ffff"/><stop offset=".199" stop-color="#00c8ff"/><stop offset=".392" stop-color="#0099ff"/><stop offset=".585" stop-color="#0074ff"/><stop offset=".778" stop-color="#0058ff"/><stop offset=".971" stop-color="#0041ff"/><stop offset="1" stop-color="#003fff"/></linearGradient>
<linearGradient id="g166" gradientUnits="userSpaceOnUse" x1="114" x2="882" y1="0" y2="0"><stop offset="0" stop-color="#00fff4"/><stop offset=".015" stop-color="#00fffa"/><stop offset=".03" stop-color="#00ffff"/><stop offset=".205" stop-color="#00c8ff"/><stop offset=".395" stop-color="#0099ff"/><stop offset=".585" stop-color="#0074ff"/><stop offset=".775" stop-color="#0058ff"/><stop offset=".966" stop-color="#0041ff"/><stop offset="1" stop-color="#003eff"/></linearGradient>
<linearGradient id="g167" gradientUnits="userSpaceOnUse" x1="114" x2="882" y1="0" y2="0"><stop offset="0" stop-color="#00fff1"/><stop offset=".023" stop-color="#00fffa"/><stop offset=".038" stop-color="#00ffff"/><stop offset=".211" stop-color="#00c8ff"/><stop offset=".398" stop-color="#0099ff"/><stop offset=".585" stop-color="#0074ff"/><stop offset=".773" stop-color="#0058ff"/><stop offset=".96" stop-color="#0041ff"/><stop offset="1" stop-color="#003dff"/></linearGradient>
<linearGradient id="g168" gradientUnits="userSpaceOnUse" x1="114" x2="882" y1="0" y2="0"><stop offset="0" stop-color="#00ffee"/><stop offset=".031" stop-color="#00fffa"/><stop offset=".046" stop-color="#00ffff"/><stop offset=".216" stop-color="#00c8ff"/><stop offset=".401" stop-color="#0099ff"/><stop offset=".586" stop-color="#0074ff"/><stop offset=".77" stop-color="#0058ff"/><stop offset=".955" stop-color="#0041ff"/><stop offset="1" stop-color="#003dff"/></linearGradient>
<linearGradient id="g169" gradientUnits="userSpaceOnUse" x1="114" x2="882" y1="0" y2="0"><stop offset="0" stop-color="#00ffea"/><stop offset=".039" stop-color="#00fffa"/><stop offset=".054" stop-color="#00ffff"/><stop offset=".222" stop-color="#00c8ff"/><stop offset=".404" stop-color="#0099ff"/><stop offset=".586" stop-color="#0074ff"/><stop offset=".768" stop-color="#0058ff"/><stop offset=".95" stop-color="#0041ff"/><stop offset="1" stop-color="#003cff"/></linearGradient>
<linearGradient id="g170" gradientUnits="userSpaceOnUse" x1="114" x2="882" y1="0" y2="0"><stop offset="0" stop-color="#00ffe7"/><stop offset=".047" stop-color="#00fffa"/><stop offset=".062" stop-color="#00ffff"/><stop offset=".227" stop-color="#00c8ff"/><stop offset=".406" stop-color="#0099ff"/><stop offset=".586" stop-color="#0074ff"/><stop offset=".766" stop-color="#0058ff"/><stop offset=".945" stop-color="#0041ff"/><stop offset="1" stop-color="#003cff"/></linearGradient>
<linearGradient id="g171" gradientUnits="userSpaceOnUse" x1="114" x2="882" y1="0" y2="0"><stop offset="0" stop-color="#00ffe4"/><stop offset=".055" stop-color="#00fffa"/><stop offset=".069" stop-color="#00ffff"/><stop offset=".232" stop-color="#00c8ff"/><stop offset=".409" stop-color="#0099ff"/><stop offset=".586" stop-color="#0074ff"/><stop offset=".763" stop-color="#0058ff"/><stop offset=".94" stop-color="#0041ff"/><stop offset="1" stop-color="#003bff"/></linearGradient>
<linearGradient id="g172" gradientUnits="userSpaceOnUse" x1="114" x2="882" y1="0" y2="0"><stop offset="0" stop-color="#00ffe0"/><stop offset=".062" stop-color="#00fffa"/><stop offset=".076" stop-color="#00ffff"/><stop offset=".237" stop-color="#00c8ff"/><stop offset=".412" stop-color="#0099ff"/><stop offset=".586" stop-color="#0074ff"/><stop offset=".761" stop-color="#0058ff"/><stop offset=".936" stop-color="#0041ff"/><stop offset="1" stop-color="#003bff"/></linearGradient>
<linearGradient id="g173" gradientUnits="userSpaceOnUse" x1="114" x2="882" y1="0" y2="0"><stop offset="0" stop-color="#00ffdd"/><stop offset=".07" stop-color="#00fffa"/><stop offset=".083" stop-color="#00ffff"/><stop offset=".242" stop-color="#00c8ff"/><stop offset=".414" stop-color="#0099ff"/><stop offset=".587" stop-color="#0074ff"/><stop offset=".759" stop-color="#0058ff"/><stop offset=".931" stop-color="#0041ff"/><stop offset="1" stop-color="#003aff"/></linearGradient>
<linearGradient id="g174" gradientUnits="userSpaceOnUse" x1="114" x2="882" y1="0" y2="0"><stop offset="0" stop-color="#00ffd9"/><stop offset=".077" stop-color="#00fffa"/><stop offset=".09" stop-color="#00ffff"/><stop offset=".247" stop-color="#00c8ff"/><stop offset=".417" stop-color="#0099ff"/><stop offset=".587" stop-color="#0074ff"/><stop offset=".757" stop-color="#0058ff"/><stop offset=".927" stop-color="#0041ff"/><stop offset="1" stop-color="#0039ff"/></linearGradient>
<linearGradient id="g175" gradientUnits="userSpaceOnUse" x1="114" x2="882" y1="0" y2="0"><stop offset="0" stop-color="#00ffd5"/><stop offset=".084" stop-color="#00fffa"/><stop offset=".097" stop-color="#00ffff"/><stop offset=".251" stop-color="#00c8ff"/><stop offset=".419" stop-color="#0099ff"/><stop offset=".587" stop-color="#0074ff"/><stop offset=".755" stop-color="#0058ff"/><stop offset=".922" stop-color="#0041ff"/><stop offset="1" stop-color="#0039ff"/></linearGradient>
<linearGradient id="g176" gradientUnits="userSpaceOnUse" x1="114" x2="882" y1="0" y2="0"><stop offset="0" stop-color="#00ffd2"/><stop offset=".09" stop-color="#00fffa"/><stop offset=".104" stop-color="#00ffff"/><stop offset=".256" stop-color="#00c8ff"/><stop offset=".421" stop-color="#0099ff"/><stop offset=".587" stop-color="#0074ff"/><stop offset=".753" stop-color="#0058ff"/><stop offset=".918" stop-color="#0041ff"/><stop offset="1" stop-color="#0038ff"/></linearGradient>
<linearGradient id="g177" gradientUnits="userSpaceOnUse" x1="114" x2="882" y1="0" y2="0"><stop offset="0" stop-color="#00ffce"/><stop offset=".097" stop-color="#00fffa"/><stop offset=".11" stop-color="#00ffff"/><stop offset=".26" stop-color="#00c8ff"/><stop offset=".424" stop-color="#0099ff"/><stop offset=".587" stop-color="#0074ff"/><stop offset=".751" stop-color="#0058ff"/><stop offset=".914" stop-color="#0041ff"/><stop offset="1" stop-color="#0038ff"/></linearGradient>
<linearGradient id="g178" gradientUnits="userSpaceOnUse" x1="114" x2="882" y1="0" y2="0"><stop offset="0" stop-color="#00ffca"/><stop offset=".103" stop-color="#00fffa"/><stop offset=".116" stop-color="#00ffff"/><stop offset=".265" stop-color="#00c8ff"/><stop offset=".426" stop-color="#0099ff"/><stop offset=".587" stop-color="#0074ff"/><stop offset=".749" stop-color="#0058ff"/><stop offset=".91" stop-color="#0041ff"/><stop offset="1" stop-color="#0037ff"/></linearGradient>
<linearGradient id="g179" gradientUnits="userSpaceOnUse" x1="114" x2="882" y1="0" y2="0"><stop offset="0" stop-color="#00ffc6"/><stop offset=".109" stop-color="#00fffa"/><stop offset=".122" stop-color="#00ffff"/><stop offset=".269" stop-color="#00c8ff"/><stop offset=".428" stop-color="#0099ff"/><stop offset=".588" stop-color="#0074ff"/><stop offset=".747" stop-color="#0058ff"/><stop offset=".906" stop-color="#0041ff"/><stop offset="1" stop-color="#0037ff"/></linearGradient>
<linearGradient id="g180" gradientUnits="userSpaceOnUse" x1="114" x2="882" y1="0" y2="0"><stop offset="0" stop-color="#00ffc3"/><stop offset=".115" stop-color="#00fffa"/><stop offset=".128" stop-color="#00ffff"/><stop offset=".273" stop-color="#00c8ff"/><stop offset=".43" stop-color="#0099ff"/><stop offset=".588" stop-color="#0074ff"/><stop offset=".745" stop-color="#0058ff"/><stop offset=".903" stop-color="#0041ff"/><stop offset="1" stop-color="#0036ff"/></linearGradient>
<linearGradient id="g181" gradientUnits="userSpaceOnUse" x1="114" x2="882" y1="0" y2="0"><stop offset="0" stop-color="#00ffbf"/><stop offset=".121" stop-color="#00fffa"/><stop offset=".134" stop-color="#00ffff"/><stop offset=".277" stop-color="#00c8ff"/><stop offset=".432" stop-color="#0099ff"/><stop offset=".588" stop-color="#0074ff"/><stop offset=".743" stop-color="#0058ff"/><stop offset=".899" stop-color="#0041ff"/><stop offset="1" stop-color="#0036ff"/></linearGradient>
<linearGradient id="g182" gradientUnits="userSpaceOnUse" x1="114" x2="882" y1="0" y2="0"><stop offset="0" stop-color="#00ffbb"/><stop offset=".127" stop-color="#00fffa"/><stop offset=".139" stop-color="#00ffff"/><stop offset=".281" stop-color="#00c8ff"/><stop offset=".434" stop-color="#0099ff"/><stop offset=".588" stop-color="#0074ff"/><stop offset=".742" stop-color="#0058ff"/><stop offset=".895" stop-color="#0041ff"/><stop offset="1" stop-color="#0035ff"/></linearGradient>
<linearGradient id="g183" gradientUnits="userSpaceOnUse" x1="114" x2="882" y1="0" y2="0"><stop offset="0" stop-color="#00ffb7"/><stop offset=".133" stop-color="#00fffa"/><stop offset=".145" stop-color="#00ffff"/><stop offset=".284" stop-color="#00c8ff"/><stop offset=".436" stop-color="#0099ff"/><stop offset=".588" stop-color="#0074ff"/><stop offset=".74" stop-color="#0058ff"/><stop offset=".892" stop-color="#0041ff"/><stop offset="1" stop-color="#0035ff"/></linearGradient>
<linearGradient id="g184" gradientUnits="userSpaceOnUse" x1="114" x2="882" y1="0" y2="0"><stop offset="0" stop-color="#00ffb3"/><stop offset=".138" stop-color="#00fffa"/><stop offset=".15" stop-color="#00ffff"/><stop offset=".288" stop-color="#00c8ff"/><stop offset=".438" stop-color="#0099ff"/><stop offset=".588" stop-color="#0074ff"/><stop offset=".738" stop-color="#0058ff"/><stop offset=".888" stop-color="#0041ff"/><stop offset="1" stop-color="#0034ff"/></linearGradient>
<linearGradient id="g185" gradientUnits="userSpaceOnUse" x1="114" x2="882" y1="0" y2="0"><stop offset="0" stop-color="#00ffaf"/><stop offset=".143" stop-color="#00fffa"/><stop offset=".155" stop-color="#00ffff"/><stop offset=".292" stop-color="#00c8ff"/><stop offset=".44" stop-color="#0099ff"/><stop offset=".588" stop-color="#0074ff"/><stop offset=".737" stop-color="#0058ff"/><stop offset=".885" stop-color="#0041ff"/><stop offset="1" stop-color="#0034ff"/></linearGradient>
<linearGradient id="g186" gradientUnits="userSpaceOnUse" x1="114" x2="882" y1="0" y2="0"><stop offset="0" stop-color="#00ffab"/><stop offset=".149" stop-color="#00fffa"/><stop offset=".16" stop-color="#00ffff"/><stop offset=".295" stop-color="#00c8ff"/><stop offset=".442" stop-color="#0099ff"/><stop offset=".589" stop-color="#0074ff"/><stop offset=".735" stop-color="#0058ff"/><stop offset=".882" stop-color="#0041ff"/><stop offset="1" stop-color="#0033ff"/></linearGradient>
<linearGradient id="g187" gradientUnits="userSpaceOnUse" x1="114" x2="882" y1="0" y2="0"><stop offset="0" stop-color="#00ffa7"/><stop offset=".009" stop-color="#00ffac"/><stop offset=".154" stop-color="#00fffa"/><stop offset=".165" stop-color="#00ffff"/><stop offset=".299" stop-color="#00c8ff"/><stop offset=".444" stop-color="#0099ff"/><stop offset=".589" stop-color="#0074ff"/><stop offset=".734" stop-color="#0058ff"/><stop offset=".879" stop-color="#0041ff"/><stop offset="1" stop-color="#0033ff"/></linearGradient>
<linearGradient id="g188" gradientUnits="userSpaceOnUse" x1="114" x2="882" y1="0" y2="0"><stop offset="0" stop-color="#00ffa2"/><stop offset=".015" stop-color="#00ffac"/><stop offset=".159" stop-color="#00fffa"/><stop offset=".17" stop-color="#00ffff"/><stop offset=".302" stop-color="#00c8ff"/><stop offset=".445" stop-color="#0099ff"/><stop offset=".589" stop-color="#0074ff"/><stop offset=".732" stop-color="#0058ff"/><stop offset=".875" stop-color="#0041ff"/><stop offset="1" stop-color="#0032ff"/></linearGradient>
<linearGradient id="g189" gradientUnits="userSpaceOnUse" x1="114" x2="882" y1="0" y2="0"><stop offset="0" stop-color="#00ff9e"/><stop offset=".022" stop-color="#00ffac"/><stop offset=".164" stop-color="#00fffa"/><stop offset=".175" stop-color="#00ffff"/><stop offset=".305" stop-color="#00c8ff"/><stop offset=".447" stop-color="#0099ff"/><stop offset=".589" stop-color="#0074ff"/><stop offset=".731" stop-color="#0058ff"/><stop offset=".872" stop-color="#0041ff"/><stop offset="1" stop-color="#0032ff"/></linearGradient>
<linearGradient id="g190" gradientUnits="userSpaceOnUse" x1="114" x2="882" y1="0" y2="0"><stop offset="0" stop-color="#00ff9a"/><stop offset=".028" stop-color="#00ffac"/><stop offset=".168" stop-color="#00fffa"/><stop offset=".18" stop-color="#00ffff"/><stop offset=".309" stop-color="#00c8ff"/><stop offset=".449" stop-color="#0099ff"/><stop offset=".589" stop-color="#0074ff"/><stop offset=".729" stop-color="#0058ff"/><stop offset=".869" stop-color="#0041ff"/><stop offset="1" stop-color="#0031ff"/></linearGradient>
<linearGradient id="g191" gradientUnits="userSpaceOnUse" x1="114" x2="882" y1="0" y2="0"><stop offset="0" stop-color="#00ff96"/><stop offset=".034" stop-color="#00ffac"/><stop offset=".173" stop-color="#00fffa"/><stop offset=".184" stop-color="#00ffff"/><stop offset=".312" stop-color="#00c8ff"/><stop offset=".45" stop-color="#0099ff"/><stop offset=".589" stop-color="#0074ff"/><stop offset=".728" stop-color="#0058ff"/><stop offset=".867" stop-color="#0041ff"/><stop offset="1" stop-color="#0031ff"/></linearGradient>
<linearGradient id="g192" gradientUnits="userSpaceOnUse" x1="114" x2="882" y1="0" y2="0"><stop offset="0" stop-color="#00ff91"/><stop offset=".04" stop-color="#00ffac"/><stop offset=".178" stop-color="#00fffa"/><stop offset=".189" stop-color="#00ffff"/><stop offset=".315" stop-color="#00c8ff"/><stop offset=".452" stop-color="#0099ff"/><stop offset=".589" stop-color="#0074ff"/><stop offset=".726" stop-color="#0058ff"/><stop offset=".864" stop-color="#0041ff"/><stop offset="1" stop-color="#0030ff"/></linearGradient>
<linearGradient id="g193" gradientUnits="userSpaceOnUse" x1="114" x2="882" y1="0" y2="0"><stop offset="0" stop-color="#00ff8d"/><stop offset=".046" stop-color="#00ffac"/><stop offset=".182" stop-color="#00fffa"/><stop offset=".193" stop-color="#00ffff"/><stop offset=".318" stop-color="#00c8ff"/><stop offset=".454" stop-color="#0099ff"/><stop offset=".589" stop-color="#0074ff"/><stop offset=".725" stop-color="#0058ff"/><stop offset=".861" stop-color="#0041ff"/><stop offset=".997" stop-color="#0030ff"/><stop offset="1" stop-color="#0030ff"/></linearGradient>
<linearGradient id="g194" gradientUnits="userSpaceOnUse" x1="114" x2="882" y1="0" y2="0"><stop offset="0" stop-color="#00ff88"/><stop offset=".052" stop-color="#00ffac"/><stop offset=".187" stop-color="#00fffa"/><stop offset=".197" stop-color="#00ffff"/><stop offset=".321" stop-color="#00c8ff"/><stop offset=".455" stop-color="#0099ff"/><stop offset=".589" stop-color="#0074ff"/><stop offset=".724" stop-color="#0058ff"/><stop offset=".858" stop-color="#0041ff"/><stop offset=".992" stop-color="#0030ff"/><stop offset="1" stop-color="#002fff"/></linearGradient>
<linearGradient id="g195" gradientUnits="userSpaceOnUse" x1="114" x2="882" y1="0" y2="0"><stop offset="0" stop-color="#00ff84"/><stop offset=".058" stop-color="#00ffac"/><stop offset=".191" stop-color="#00fffa"/><stop offset=".201" stop-color="#00ffff"/><stop offset=".324" stop-color="#00c8ff"/><stop offset=".457" stop-color="#0099ff"/><stop offset=".59" stop-color="#0074ff"/><stop offset=".723" stop-color="#0058ff"/><stop offset=".855" stop-color="#0041ff"/><stop offset=".988" stop-color="#0030ff"/><stop offset="1" stop-color="#002fff"/></linearGradient>
<linearGradient id="g196" gradientUnits="userSpaceOnUse" x1="114" x2="882" y1="0" y2="0"><stop offset="0" stop-color="#00ff7f"/><stop offset=".063" stop-color="#00ffac"/><stop offset=".195" stop-color="#00fffa"/><stop offset=".206" stop-color="#00ffff"/><stop offset=".327" stop-color="#00c8ff"/><stop offset=".458" stop-color="#0099ff"/><stop offset=".59" stop-color="#0074ff"/><stop offset=".721" stop-color="#0058ff"/><stop offset=".853" stop-color="#0041ff"/><stop offset=".984" stop-color="#0030ff"/><stop offset="1" stop-color="#002eff"/></linearGradient>
<linearGradient id="g197" gradientUnits="userSpaceOnUse" x1="114" x2="882" y1="0" y2="0"><stop offset="0" stop-color="#00ff7a"/><stop offset=".069" stop-color="#00ffac"/><stop offset=".199" stop-color="#00fffa"/><stop offset=".21" stop-color="#00ffff"/><stop offset=".329" stop-color="#00c8ff"/><stop offset=".46" stop-color="#0099ff"/><stop offset=".59" stop-color="#0074ff"/><stop offset=".72" stop-color="#0058ff"/><stop offset=".85" stop-color="#0041ff"/><stop offset=".98" stop-color="#0030ff"/><stop offset="1" stop-color="#002eff"/></linearGradient>
<linearGradient id="g198" gradientUnits="userSpaceOnUse" x1="114" x2="882" y1="0" y2="0"><stop offset="0" stop-color="#00ff76"/><stop offset=".074" stop-color="#00ffac"/><stop offset=".203" stop-color="#00fffa"/><stop offset=".213" stop-color="#00ffff"/><stop offset=".332" stop-color="#00c8ff"/><stop offset=".461" stop-color="#0099ff"/><stop offset=".59" stop-color="#0074ff"/><stop offset=".719" stop-color="#0058ff"/><stop offset=".848" stop-color="#0041ff"/><stop offset=".977" stop-color="#0030ff"/><stop offset="1" stop-color="#002dff"/></linearGradient>
<linearGradient id="g199" gradientUnits="userSpaceOnUse" x1="114" x2="882" y1="0" y2="0"><stop offset="0" stop-color="#00ff71"/><stop offset=".079" stop-color="#00ffac"/><stop offset=".207" stop-color="#00fffa"/><stop offset=".217" stop-color="#00ffff"/><stop offset=".335" stop-color="#00c8ff"/><stop offset=".462" stop-color="#0099ff"/><stop offset=".59" stop-color="#0074ff"/><stop offset=".718" stop-color="#0058ff"/><stop offset=".845" stop-color="#0041ff"/><stop offset=".973" stop-color="#0030ff"/><stop offset="1" stop-color="#002dff"/></linearGradient>
<linearGradient id="g200" gradientUnits="userSpaceOnUse" x1="114" x2="882" y1="0" y2="0"><stop offset="0" stop-color="#00ff6c"/><stop offset=".085" stop-color="#00ffac"/><stop offset=".211" stop-color="#00fffa"/><stop offset=".221" stop-color="#00ffff"/><stop offset=".337" stop-color="#00c8ff"/><stop offset=".464" stop-color="#0099ff"/><stop offset=".59" stop-color="#0074ff"/><stop offset=".716" stop-color="#0058ff"/><stop offset=".843" stop-color="#0041ff"/><stop offset=".969" stop-color="#0030ff"/><stop offset="1" stop-color="#002cff"/></linearGradient>
<linearGradient id="g201" gradientUnits="userSpaceOnUse" x1="114" x2="882" y1="0" y2="0"><stop offset="0" stop-color="#00ff67"/><stop offset=".09" stop-color="#00ffac"/><stop offset=".215" stop-color="#00fffa"/><stop offset=".225" stop-color="#00ffff"/><stop offset=".34" stop-color="#00c8ff"/><stop offset=".465" stop-color="#0099ff"/><stop offset=".59" stop-color="#0074ff"/><stop offset=".715" stop-color="#0058ff"/><stop offset=".84" stop-color="#0041ff"/><stop offset=".966" stop-color="#0030ff"/><stop offset="1" stop-color="#002cff"/></linearGradient>
<linearGradient id="g202" gradientUnits="userSpaceOnUse" x1="114" x2="882" y1="0" y2="0"><stop offset="0" stop-color="#00ff62"/><stop offset=".095" stop-color="#00ffac"/><stop offset=".219" stop-color="#00fffa"/><stop offset=".228" stop-color="#00ffff"/><stop offset=".342" stop-color="#00c8ff"/><stop offset=".466" stop-color="#0099ff"/><stop offset=".59" stop-color="#0074ff"/><stop offset=".714" stop-color="#0058ff"/><stop offset=".838" stop-color="#0041ff"/><stop offset=".962" stop-color="#0030ff"/><stop offset="1" stop-color="#002cff"/></linearGradient>
<linearGradient id="g203" gradientUnits="userSpaceOnUse" x1="114" x2="882" y1="0" y2="0"><stop offset="0" stop-color="#00ff5d"/><stop offset=".099" stop-color="#00ffac"/><stop offset=".222" stop-color="#00fffa"/><stop offset=".232" stop-color="#00ffff"/><stop offset=".345" stop-color="#00c8ff"/><stop offset=".468" stop-color="#0099ff"/><stop offset=".59" stop-color="#0074ff"/><stop offset=".713" stop-color="#0058ff"/><stop offset=".836" stop-color="#0041ff"/><stop offset=".959" stop-color="#0030ff"/><stop offset="1" stop-color="#002bff"/></linearGradient>
<linearGradient id="g204" gradientUnits="userSpaceOnUse" x1="114" x2="882" y1="0" y2="0"><stop offset="0" stop-color="#00ff58"/><stop offset=".104" stop-color="#00ffac"/><stop offset=".226" stop-color="#00fffa"/><stop offset=".236" stop-color="#00ffff"/><stop offset=".347" stop-color="#00c8ff"/><stop offset=".469" stop-color="#0099ff"/><stop offset=".59" stop-color="#0074ff"/><stop offset=".712" stop-color="#0058ff"/><stop offset=".834" stop-color="#0041ff"/><stop offset=".955" stop-color="#0030ff"/><stop offset="1" stop-color="#002bff"/></linearGradient>
<linearGradient id="g205" gradientUnits="userSpaceOnUse" x1="114" x2="882" y1="0" y2="0"><stop offset="0" stop-color="#00ff53"/><stop offset=".109" stop-color="#00ffac"/><stop offset=".229" stop-color="#00fffa"/><stop offset=".239" stop-color="#00ffff"/><stop offset=".35" stop-color="#00c8ff"/><stop offset=".47" stop-color="#0099ff"/><stop offset=".591" stop-color="#0074ff"/><stop offset=".711" stop-color="#0058ff"/><stop offset=".831" stop-color="#0041ff"/><stop offset=".952" stop-color="#0030ff"/><stop offset="1" stop-color="#002aff"/></linearGradient>
<linearGradient id="g206" gradientUnits="userSpaceOnUse" x1="114" x2="882" y1="0" y2="0"><stop offset="0" stop-color="#00ff4e"/><stop offset=".113" stop-color="#00ffac"/><stop offset=".233" stop-color="#00fffa"/><stop offset=".242" stop-color="#00ffff"/><stop offset=".352" stop-color="#00c8ff"/><stop offset=".471" stop-color="#0099ff"/><stop offset=".591" stop-color="#0074ff"/><stop offset=".71" stop-color="#0058ff"/><stop offset=".829" stop-color="#0041ff"/><stop offset=".949" stop-color="#0030ff"/><stop offset="1" stop-color="#002aff"/></linearGradient>
<linearGradient id="g207" gradientUnits="userSpaceOnUse" x1="114" x2="882" y1="0" y2="0"><stop offset="0" stop-color="#00ff49"/><stop offset=".118" stop-color="#00ffac"/><stop offset=".236" stop-color="#00fffa"/><stop offset=".246" stop-color="#00ffff"/><stop offset=".354" stop-color="#00c8ff"/><stop offset=".473" stop-color="#0099ff"/><stop offset=".591" stop-color="#0074ff"/><stop offset=".709" stop-color="#0058ff"/><stop offset=".827" stop-color="#0041ff"/><stop offset=".945" stop-color="#0030ff"/><stop offset="1" stop-color="#0029ff"/></linearGradient>
<linearGradient id="g208" gradientUnits="userSpaceOnUse" x1="114" x2="882" y1="0" y2="0"><stop offset="0" stop-color="#00ff43"/><stop offset=".005" stop-color="#00ff48"/><stop offset=".122" stop-color="#00ffac"/><stop offset=".239" stop-color="#00fffa"/><stop offset=".249" stop-color="#00ffff"/><stop offset=".357" stop-color="#00c8ff"/><stop offset=".474" stop-color="#0099ff"/><stop offset=".591" stop-color="#0074ff"/><stop offset=".708" stop-color="#0058ff"/><stop offset=".825" stop-color="#0041ff"/><stop offset=".942" stop-color="#0030ff"/><stop offset="1" stop-color="#0029ff"/></linearGradient>
<linearGradient id="g209" gradientUnits="userSpaceOnUse" x1="114" x2="882" y1="0" y2="0"><stop offset="0" stop-color="#00ff3e"/><stop offset=".011" stop-color="#00ff48"/><stop offset=".127" stop-color="#00ffac"/><stop offset=".243" stop-color="#00fffa"/><stop offset=".252" stop-color="#00ffff"/><stop offset=".359" stop-color="#00c8ff"/><stop offset=".475" stop-color="#0099ff"/><stop offset=".591" stop-color="#0074ff"/><stop offset=".707" stop-color="#0058ff"/><stop offset=".823" stop-color="#0041ff"/><stop offset=".939" stop-color="#0030ff"/><stop offset="1" stop-color="#0029ff"/></linearGradient>
<linearGradient id="g210" gradientUnits="userSpaceOnUse" x1="114" x2="882" y1="0" y2="0"><stop offset="0" stop-color="#00ff38"/><stop offset=".016" stop-color="#00ff48"/><stop offset=".131" stop-color="#00ffac"/><stop offset=".246" stop-color="#00fffa"/><stop offset=".255" stop-color="#00ffff"/><stop offset=".361" stop-color="#00c8ff"/><stop offset=".476" stop-color="#0099ff"/><stop offset=".591" stop-color="#0074ff"/><stop offset=".706" stop-color="#0058ff"/><stop offset=".821" stop-color="#0041ff"/><stop offset=".936" stop-color="#0030ff"/><stop offset="1" stop-color="#0028ff"/></linearGradient>
<linearGradient id="g211" gradientUnits="userSpaceOnUse" x1="114" x2="882" y1="0" y2="0"><stop offset="0" stop-color="#00ff33"/><stop offset=".021" stop-color="#00ff48"/><stop offset=".135" stop-color="#00ffac"/><stop offset=".249" stop-color="#00fffa"/><stop offset=".258" stop-color="#00ffff"/><stop offset=".363" stop-color="#00c8ff"/><stop offset=".477" stop-color="#0099ff"/><stop offset=".591" stop-color="#0074ff"/><stop offset=".705" stop-color="#0058ff"/><stop offset=".819" stop-color="#0041ff"/><stop offset=".933" stop-color="#0030ff"/><stop offset="1" stop-color="#0028ff"/></linearGradient>
<linearGradient id="g212" gradientUnits="userSpaceOnUse" x1="114" x2="882" y1="0" y2="0"><stop offset="0" stop-color="#00ff2d"/><stop offset=".026" stop-color="#00ff48"/><stop offset=".139" stop-color="#00ffac"/><stop offset=".252" stop-color="#00fffa"/><stop offset=".261" stop-color="#00ffff"/><stop offset=".365" stop-color="#00c8ff"/><stop offset=".478" stop-color="#0099ff"/><stop offset=".591" stop-color="#0074ff"/><stop offset=".704" stop-color="#0058ff"/><stop offset=".817" stop-color="#0041ff"/><stop offset=".93" stop-color="#0030ff"/><stop offset="1" stop-color="#0027ff"/></linearGradient>
<linearGradient id="g213" gradientUnits="userSpaceOnUse" x1="114" x2="882" y1="0" y2="0"><stop offset="0" stop-color="#00ff28"/><stop offset=".031" stop-color="#00ff48"/><stop offset=".143" stop-color="#00ffac"/><stop offset=".255" stop-color="#00fffa"/><stop offset=".264" stop-color="#00ffff"/><stop offset=".367" stop-color="#00c8ff"/><stop offset=".479" stop-color="#0099ff"/><stop offset=".591" stop-color="#0074ff"/><stop offset=".703" stop-color="#0058ff"/><stop offset=".815" stop-color="#0041ff"/><stop offset=".927" stop-color="#0030ff"/><stop offset="1" stop-color="#0027ff"/></linearGradient>
<linearGradient id="g214" gradientUnits="userSpaceOnUse" x1="114" x2="882" y1="0" y2="0"><stop offset="0" stop-color="#00ff22"/><stop offset=".036" stop-color="#00ff48"/><stop offset=".147" stop-color="#00ffac"/><stop offset=".258" stop-color="#00fffa"/><stop offset=".267" stop-color="#00ffff"/><stop offset=".369" stop-color="#00c8ff"/><stop offset=".48" stop-color="#0099ff"/><stop offset=".591" stop-color="#0074ff"/><stop offset=".702" stop-color="#0058ff"/><stop offset=".813" stop-color="#0041ff"/><stop offset=".924" stop-color="#0030ff"/><stop offset="1" stop-color="#0027ff"/></linearGradient>
<linearGradient id="g215" gradientUnits="userSpaceOnUse" x1="114" x2="882" y1="0" y2="0"><stop offset="0" stop-color="#00ff1c"/><stop offset=".041" stop-color="#00ff48"/><stop offset=".151" stop-color="#00ffac"/><stop offset=".261" stop-color="#00fffa"/><stop offset=".27" stop-color="#00ffff"/><stop offset=".371" stop-color="#00c8ff"/><stop offset=".481" stop-color="#0099ff"/><stop offset=".591" stop-color="#0074ff"/><stop offset=".701" stop-color="#0058ff"/><stop offset=".811" stop-color="#0041ff"/><stop offset=".922" stop-color="#0030ff"/><stop offset="1" stop-color="#0026ff"/></linearGradient>
<linearGradient id="g216" gradientUnits="userSpaceOnUse" x1="114" x2="882" y1="0" y2="0"><stop offset="0" stop-color="#00ff16"/><stop offset=".046" stop-color="#00ff48"/><stop offset=".155" stop-color="#00ffac"/><stop offset=".264" stop-color="#00fffa"/><stop offset=".273" stop-color="#00ffff"/><stop offset=".373" stop-color="#00c8ff"/><stop offset=".482" stop-color="#0099ff"/><stop offset=".591" stop-color="#0074ff"/><stop offset=".701" stop-color="#0058ff"/><stop offset=".81" stop-color="#0041ff"/><stop offset=".919" stop-color="#0030ff"/><stop offset="1" stop-color="#0026ff"/></linearGradient>
<linearGradient id="g217" gradientUnits="userSpaceOnUse" x1="114" x2="882" y1="0" y2="0"><stop offset="0" stop-color="#00ff11"/><stop offset=".05" stop-color="#00ff48"/><stop offset=".159" stop-color="#00ffac"/><stop offset=".267" stop-color="#00fffa"/><stop offset=".276" stop-color="#00ffff"/><stop offset=".375" stop-color="#00c8ff"/><stop offset=".483" stop-color="#0099ff"/><stop offset=".591" stop-color="#0074ff"/><stop offset=".7" stop-color="#0058ff"/><stop offset=".808" stop-color="#0041ff"/><stop offset=".916" stop-color="#0030ff"/><stop offset="1" stop-color="#0025ff"/></linearGradient>
<linearGradient id="g218" gradientUnits="userSpaceOnUse" x1="114" x2="882" y1="0" y2="0"><stop offset="0" stop-color="#00ff0b"/><stop offset=".055" stop-color="#00ff48"/><stop offset=".162" stop-color="#00ffac"/><stop offset=".27" stop-color="#00fffa"/><stop offset=".278" stop-color="#00ffff"/><stop offset=".377" stop-color="#00c8ff"/><stop offset=".484" stop-color="#0099ff"/><stop offset=".592" stop-color="#0074ff"/><stop offset=".699" stop-color="#0058ff"/><stop offset=".806" stop-color="#0041ff"/><stop offset=".913" stop-color="#0030ff"/><stop offset="1" stop-color="#0025ff"/></linearGradient>
<linearGradient id="g219" gradientUnits="userSpaceOnUse" x1="114" x2="882" y1="0" y2="0"><stop offset="0" stop-color="#00ff05"/><stop offset=".06" stop-color="#00ff48"/><stop offset=".166" stop-color="#00ffac"/><stop offset=".272" stop-color="#00fffa"/><stop offset=".281" stop-color="#00ffff"/><stop offset=".379" stop-color="#00c8ff"/><stop offset=".485" stop-color="#0099ff"/><stop offset=".592" stop-color="#0074ff"/><stop offset=".698" stop-color="#0058ff"/><stop offset=".804" stop-color="#0041ff"/><stop offset=".911" stop-color="#0030ff"/><stop offset="1" stop-color="#0025ff"/></linearGradient>
<linearGradient id="g220" gradientUnits="userSpaceOnUse" x1="114" x2="882" y1="0" y2="0"><stop offset="0" stop-color="#02ff00"/><stop offset=".064" stop-color="#00ff48"/><stop offset=".17" stop-color="#00ffac"/><stop offset=".275" stop-color="#00fffa"/><stop offset=".284" stop-color="#00ffff"/><stop offset=".381" stop-color="#00c8ff"/><stop offset=".486" stop-color="#0099ff"/><stop offset=".592" stop-color="#0074ff"/><stop offset=".697" stop-color="#0058ff"/><stop offset=".803" stop-color="#0041ff"/><stop offset=".908" stop-color="#0030ff"/><stop offset="1" stop-color="#0024ff"/></linearGradient>
<linearGradient id="g221" gradientUnits="userSpaceOnUse" x1="114" x2="882" y1="0" y2="0"><stop offset="0" stop-color="#08ff00"/><stop offset=".006" stop-color="#00ff00"/><stop offset=".068" stop-color="#00ff48"/><stop offset=".173" stop-color="#00ffac"/><stop offset=".278" stop-color="#00fffa"/><stop offset=".286" stop-color="#00ffff"/><stop offset=".382" stop-color="#00c8ff"/><stop offset=".487" stop-color="#0099ff"/><stop offset=".592" stop-color="#0074ff"/><stop offset=".696" stop-color="#0058ff"/><stop offset=".801" stop-color="#0041ff"/><stop offset=".906" stop-color="#0030ff"/><stop offset="1" stop-color="#0024ff"/></linearGradient>
<linearGradient id="g222" gradientUnits="userSpaceOnUse" x1="114" x2="882" y1="0" y2="0"><stop offset="0" stop-color="#0eff00"/><stop offset=".011" stop-color="#00ff00"/><stop offset=".073" stop-color="#00ff48"/><stop offset=".177" stop-color="#00ffac"/><stop offset=".28" stop-color="#00fffa"/><stop offset=".289" stop-color="#00ffff"/><stop offset=".384" stop-color="#00c8ff"/><stop offset=".488" stop-color="#0099ff"/><stop offset=".592" stop-color="#0074ff"/><stop offset=".696" stop-color="#0058ff"/><stop offset=".799" stop-color="#0041ff"/><stop offset=".903" stop-color="#0030ff"/><stop offset="1" stop-color="#0023ff"/></linearGradient>
<linearGradient id="g223" gradientUnits="userSpaceOnUse" x1="114" x2="882" y1="0" y2="0"><stop offset="0" stop-color="#14ff00"/><stop offset=".016" stop-color="#00ff00"/><stop offset=".077" stop-color="#00ff48"/><stop offset=".18" stop-color="#00ffac"/><stop offset=".283" stop-color="#00fffa"/><stop offset=".291" stop-color="#00ffff"/><stop offset=".386" stop-color="#00c8ff"/><stop offset=".489" stop-color="#0099ff"/><stop offset=".592" stop-color="#0074ff"/><stop offset=".695" stop-color="#0058ff"/><stop offset=".798" stop-color="#0041ff"/><stop offset=".901" stop-color="#0030ff"/><stop offset="1" stop-color="#0023ff"/></linearGradient>
<linearGradient id="g224" gradientUnits="userSpaceOnUse" x1="114" x2="882" y1="0" y2="0"><stop offset="0" stop-color="#1bff00"/><stop offset=".02" stop-color="#00ff00"/><stop offset=".081" stop-color="#00ff48"/><stop offset=".183" stop-color="#00ffac"/><stop offset=".285" stop-color="#00fffa"/><stop offset=".294" stop-color="#00ffff"/><stop offset=".388" stop-color="#00c8ff"/><stop offset=".49" stop-color="#0099ff"/><stop offset=".592" stop-color="#0074ff"/><stop offset=".694" stop-color="#0058ff"/><stop offset=".796" stop-color="#0041ff"/><stop offset=".898" stop-color="#0030ff"/><stop offset="1" stop-color="#0023ff"/></linearGradient>
<linearGradient id="g225" gradientUnits="userSpaceOnUse" x1="114" x2="882" y1="0" y2="0"><stop offset="0" stop-color="#21ff00"/><stop offset=".025" stop-color="#00ff00"/><stop offset=".085" stop-color="#00ff48"/><stop offset=".187" stop-color="#00ffac"/><stop offset=".288" stop-color="#00fffa"/><stop offset=".296" stop-color="#00ffff"/><stop offset=".389" stop-color="#00c8ff"/><stop offset=".491" stop-color="#0099ff"/><stop offset=".592" stop-color="#0074ff"/><stop offset=".693" stop-color="#0058ff"/><stop offset=".795" stop-color="#0041ff"/><stop offset=".896" stop-color="#0030ff"/><stop offset=".997" stop-color="#0023ff"/><stop offset="1" stop-color="#0022ff"/></linearGradient>
<linearGradient id="g226" gradientUnits="userSpaceOnUse" x1="114" x2="882" y1="0" y2="0"><stop offset="0" stop-color="#28ff00"/><stop offset=".029" stop-color="#00ff00"/><stop offset=".089" stop-color="#00ff48"/><stop offset=".19" stop-color="#00ffac"/><stop offset=".29" stop-color="#00fffa"/><stop offset=".298" stop-color="#00ffff"/><stop offset=".391" stop-color="#00c8ff"/><stop offset=".492" stop-color="#0099ff"/><stop offset=".592" stop-color="#0074ff"/><stop offset=".693" stop-color="#0058ff"/><stop offset=".793" stop-color="#0041ff"/><stop offset=".894" stop-color="#0030ff"/><stop offset=".994" stop-color="#0023ff"/><stop offset="1" stop-color="#0022ff"/></linearGradient>
<linearGradient id="g227" gradientUnits="userSpaceOnUse" x1="114" x2="882" y1="0" y2="0"><stop offset="0" stop-color="#2eff00"/><stop offset=".034" stop-color="#00ff00"/><stop offset=".093" stop-color="#00ff48"/><stop offset=".193" stop-color="#00ffac"/><stop offset=".293" stop-color="#00fffa"/><stop offset=".301" stop-color="#00ffff"/><stop offset=".393" stop-color="#00c8ff"/><stop offset=".492" stop-color="#0099ff"/><stop offset=".592" stop-color="#0074ff"/><stop offset=".692" stop-color="#0058ff"/><stop offset=".792" stop-color="#0041ff"/><stop offset=".891" stop-color="#0030ff"/><stop offset=".991" stop-color="#0023ff"/><stop offset="1" stop-color="#0022ff"/></linearGradient>
<linearGradient id="g228" gradientUnits="userSpaceOnUse" x1="114" x2="882" y1="0" y2="0"><stop offset="0" stop-color="#35ff00"/><stop offset=".038" stop-color="#00ff00"/><stop offset=".097" stop-color="#00ff48"/><stop offset=".196" stop-color="#00ffac"/><stop offset=".295" stop-color="#00fffa"/><stop offset=".303" stop-color="#00ffff"/><stop offset=".394" stop-color="#00c8ff"/><stop offset=".493" stop-color="#0099ff"/><stop offset=".592" stop-color="#0074ff"/><stop offset=".691" stop-color="#0058ff"/><stop offset=".79" stop-color="#0041ff"/><stop offset=".889" stop-color="#0030ff"/><stop offset=".988" stop-color="#0023ff"/><stop offset="1" stop-color="#0021ff"/></linearGradient>
<linearGradient id="g229" gradientUnits="userSpaceOnUse" x1="114" x2="882" y1="0" y2="0"><stop offset="0" stop-color="#3cff00"/><stop offset=".003" stop-color="#38ff00"/><stop offset=".043" stop-color="#00ff00"/><stop offset=".101" stop-color="#00ff48"/><stop offset=".199" stop-color="#00ffac"/><stop offset=".298" stop-color="#00fffa"/><stop offset=".305" stop-color="#00ffff"/><stop offset=".396" stop-color="#00c8ff"/><stop offset=".494" stop-color="#0099ff"/><stop offset=".592" stop-color="#0074ff"/><stop offset=".691" stop-color="#0058ff"/><stop offset=".789" stop-color="#0041ff"/><stop offset=".887" stop-color="#0030ff"/><stop offset=".985" stop-color="#0023ff"/><stop offset="1" stop-color="#0021ff"/></linearGradient>
<linearGradient id="g230" gradientUnits="userSpaceOnUse" x1="114" x2="882" y1="0" y2="0"><stop offset="0" stop-color="#43ff00"/><stop offset=".007" stop-color="#38ff00"/><stop offset=".047" stop-color="#00ff00"/><stop offset=".105" stop-color="#00ff48"/><stop offset=".202" stop-color="#00ffac"/><stop offset=".3" stop-color="#00fffa"/><stop offset=".308" stop-color="#00ffff"/><stop offset=".397" stop-color="#00c8ff"/><stop offset=".495" stop-color="#0099ff"/><stop offset=".592" stop-color="#0074ff"/><stop offset=".69" stop-color="#0058ff"/><stop offset=".787" stop-color="#0041ff"/><stop offset=".885" stop-color="#0030ff"/><stop offset=".982" stop-color="#0023ff"/><stop offset="1" stop-color="#0020ff"/></linearGradient>
<linearGradient id="g231" gradientUnits="userSpaceOnUse" x1="114" x2="882" y1="0" y2="0"><stop offset="0" stop-color="#4aff00"/><stop offset=".012" stop-color="#38ff00"/><stop offset=".051" stop-color="#00ff00"/><stop offset=".109" stop-color="#00ff48"/><stop offset=".205" stop-color="#00ffac"/><stop offset=".302" stop-color="#00fffa"/><stop offset=".31" stop-color="#00ffff"/><stop offset=".399" stop-color="#00c8ff"/><stop offset=".496" stop-color="#0099ff"/><stop offset=".592" stop-color="#0074ff"/><stop offset=".689" stop-color="#0058ff"/><stop offset=".786" stop-color="#0041ff"/><stop offset=".883" stop-color="#0030ff"/><stop offset=".979" stop-color="#0023ff"/><stop offset="1" stop-color="#0020ff"/></linearGradient>
<linearGradient id="g232" gradientUnits="userSpaceOnUse" x1="114" x2="882" y1="0" y2="0"><stop offset="0" stop-color="#51ff00"/><stop offset=".016" stop-color="#38ff00"/><stop offset=".055" stop-color="#00ff00"/><stop offset=".112" stop-color="#00ff48"/><stop offset=".208" stop-color="#00ffac"/><stop offset=".304" stop-color="#00fffa"/><stop offset=".312" stop-color="#00ffff"/><stop offset=".4" stop-color="#00c8ff"/><stop offset=".496" stop-color="#0099ff"/><stop offset=".592" stop-color="#0074ff"/><stop offset=".688" stop-color="#0058ff"/><stop offset=".785" stop-color="#0041ff"/><stop offset=".881" stop-color="#0030ff"/><stop offset=".977" stop-color="#0023ff"/><stop offset="1" stop-color="#0020ff"/></linearGradient>
<linearGradient id="g233" gradientUnits="userSpaceOnUse" x1="114" x2="882" y1="0" y2="0"><stop offset="0" stop-color="#58ff00"/><stop offset=".021" stop-color="#38ff00"/><stop offset=".059" stop-color="#00ff00"/><stop offset=".116" stop-color="#00ff48"/><stop offset=".211" stop-color="#00ffac"/><stop offset=".307" stop-color="#00fffa"/><stop offset=".314" stop-color="#00ffff"/><stop offset=".402" stop-color="#00c8ff"/><stop offset=".497" stop-color="#0099ff"/><stop offset=".592" stop-color="#0074ff"/><stop offset=".688" stop-color="#0058ff"/><stop offset=".783" stop-color="#0041ff"/><stop offset=".878" stop-color="#0030ff"/><stop offset=".974" stop-color="#0023ff"/><stop offset="1" stop-color="#001fff"/></linearGradient>
<linearGradient id="g234" gradientUnits="userSpaceOnUse" x1="114" x2="882" y1="0" y2="0"><stop offset="0" stop-color="#5fff00"/><stop offset=".025" stop-color="#38ff00"/><stop offset=".063" stop-color="#00ff00"/><stop offset=".119" stop-color="#00ff48"/><stop offset=".214" stop-color="#00ffac"/><stop offset=".309" stop-color="#00fffa"/><stop offset=".316" stop-color="#00ffff"/><stop offset=".403" stop-color="#00c8ff"/><stop offset=".498" stop-color="#0099ff"/><stop offset=".593" stop-color="#0074ff"/><stop offset=".687" stop-color="#0058ff"/><stop offset=".782" stop-color="#0041ff"/><stop offset=".876" stop-color="#0030ff"/><stop offset=".971" stop-color="#0023ff"/><stop offset="1" stop-color="#001fff"/></linearGradient>
<linearGradient id="g235" gradientUnits="userSpaceOnUse" x1="114" x2="882" y1="0" y2="0"><stop offset="0" stop-color="#66ff00"/><stop offset=".029" stop-color="#38ff00"/><stop offset=".067" stop-color="#00ff00"/><stop offset=".123" stop-color="#00ff48"/><stop offset=".217" stop-color="#00ffac"/><stop offset=".311" stop-color="#00fffa"/><stop offset=".318" stop-color="#00ffff"/><stop offset=".405" stop-color="#00c8ff"/><stop offset=".499" stop-color="#0099ff"/><stop offset=".593" stop-color="#0074ff"/><stop offset=".687" stop-color="#0058ff"/><stop offset=".78" stop-color="#0041ff"/><stop offset=".874" stop-color="#0030ff"/><stop offset=".968" stop-color="#0023ff"/><stop offset="1" stop-color="#001fff"/></linearGradient>
<linearGradient id="g236" gradientUnits="userSpaceOnUse" x1="114" x2="882" y1="0" y2="0"><stop offset="0" stop-color="#6eff00"/><stop offset=".033" stop-color="#38ff00"/><stop offset=".071" stop-color="#00ff00"/><stop offset=".126" stop-color="#00ff48"/><stop offset=".22" stop-color="#00ffac"/><stop offset=".313" stop-color="#00fffa"/><stop offset=".32" stop-color="#00ffff"/><stop offset=".406" stop-color="#00c8ff"/><stop offset=".499" stop-color="#0099ff"/><stop offset=".593" stop-color="#0074ff"/><stop offset=".686" stop-color="#0058ff"/><stop offset=".779" stop-color="#0041ff"/><stop offset=".872" stop-color="#0030ff"/><stop offset=".966" stop-color="#0023ff"/><stop offset="1" stop-color="#001eff"/></linearGradient>
<linearGradient id="g237" gradientUnits="userSpaceOnUse" x1="114" x2="882" y1="0" y2="0"><stop offset="0" stop-color="#75ff00"/><stop offset=".037" stop-color="#38ff00"/><stop offset=".075" stop-color="#00ff00"/><stop offset=".13" stop-color="#00ff48"/><stop offset=".222" stop-color="#00ffac"/><stop offset=".315" stop-color="#00fffa"/><stop offset=".322" stop-color="#00ffff"/><stop offset=".408" stop-color="#00c8ff"/><stop offset=".5" stop-color="#0099ff"/><stop offset=".593" stop-color="#0074ff"/><stop offset=".685" stop-color="#0058ff"/><stop offset=".778" stop-color="#0041ff"/><stop offset=".87" stop-color="#0030ff"/><stop offset=".963" stop-color="#0023ff"/><stop offset="1" stop-color="#001eff"/></linearGradient>
<linearGradient id="g238" gradientUnits="userSpaceOnUse" x1="114" x2="882" y1="0" y2="0"><stop offset="0" stop-color="#7dff00"/><stop offset=".041" stop-color="#38ff00"/><stop offset=".079" stop-color="#00ff00"/><stop offset=".133" stop-color="#00ff48"/><stop offset=".225" stop-color="#00ffac"/><stop offset=".317" stop-color="#00fffa"/><stop offset=".324" stop-color="#00ffff"/><stop offset=".409" stop-color="#00c8ff"/><stop offset=".501" stop-color="#0099ff"/><stop offset=".593" stop-color="#0074ff"/><stop offset=".685" stop-color="#0058ff"/><stop offset=".777" stop-color="#0041ff"/><stop offset=".868" stop-color="#0030ff"/><stop offset=".96" stop-color="#0023ff"/><stop offset="1" stop-color="#001eff"/></linearGradient>
<linearGradient id="g239" gradientUnits="userSpaceOnUse" x1="114" x2="882" y1="0" y2="0"><stop offset="0" stop-color="#84ff00"/><stop offset=".045" stop-color="#38ff00"/><stop offset=".082" stop-color="#00ff00"/><stop offset=".137" stop-color="#00ff48"/><stop offset=".228" stop-color="#00ffac"/><stop offset=".319" stop-color="#00fffa"/><stop offset=".326" stop-color="#00ffff"/><stop offset=".41" stop-color="#00c8ff"/><stop offset=".502" stop-color="#0099ff"/><stop offset=".593" stop-color="#0074ff"/><stop offset=".684" stop-color="#0058ff"/><stop offset=".775" stop-color="#0041ff"/><stop offset=".867" stop-color="#0030ff"/><stop offset=".958" stop-color="#0023ff"/><stop offset="1" stop-color="#001dff"/></linearGradient>
<linearGradient id="g240" gradientUnits="userSpaceOnUse" x1="114" x2="882" y1="0" y2="0"><stop offset="0" stop-color="#8cff00"/><stop offset=".049" stop-color="#38ff00"/><stop offset=".086" stop-color="#00ff00"/><stop offset=".14" stop-color="#00ff48"/><stop offset=".23" stop-color="#00ffac"/><stop offset=".321" stop-color="#00fffa"/><stop offset=".328" stop-color="#00ffff"/><stop offset=".412" stop-color="#00c8ff"/><stop offset=".502" stop-color="#0099ff"/><stop offset=".593" stop-color="#0074ff"/><stop offset=".683" stop-color="#0058ff"/><stop offset=".774" stop-color="#0041ff"/><stop offset=".865" stop-color="#0030ff"/><stop offset=".955" stop-color="#0023ff"/><stop offset="1" stop-color="#001dff"/></linearGradient>
<linearGradient id="g241" gradientUnits="userSpaceOnUse" x1="114" x2="882" y1="0" y2="0"><stop offset="0" stop-color="#94ff00"/><stop offset=".053" stop-color="#38ff00"/><stop offset=".09" stop-color="#00ff00"/><stop offset=".143" stop-color="#00ff48"/><stop offset=".233" stop-color="#00ffac"/><stop offset=".323" stop-color="#00fffa"/><stop offset=".33" stop-color="#00ffff"/><stop offset=".413" stop-color="#00c8ff"/><stop offset=".503" stop-color="#0099ff"/><stop offset=".593" stop-color="#0074ff"/><stop offset=".683" stop-color="#0058ff"/><stop offset=".773" stop-color="#0041ff"/><stop offset=".863" stop-color="#0030ff"/><stop offset=".953" stop-color="#0023ff"/><stop offset="1" stop-color="#001dff"/></linearGradient>
<linearGradient id="g242" gradientUnits="userSpaceOnUse" x1="114" x2="882" y1="0" y2="0"><stop offset="0" stop-color="#9cff00"/><stop offset=".057" stop-color="#38ff00"/><stop offset=".093" stop-color="#00ff00"/><stop offset=".146" stop-color="#00ff48"/><stop offset=".236" stop-color="#00ffac"/><stop offset=".325" stop-color="#00fffa"/><stop offset=".332" stop-color="#00ffff"/><stop offset=".414" stop-color="#00c8ff"/><stop offset=".504" stop-color="#0099ff"/><stop offset=".593" stop-color="#0074ff"/><stop offset=".682" stop-color="#0058ff"/><stop offset=".772" stop-color="#0041ff"/><stop offset=".861" stop-color="#0030ff"/><stop offset=".95" stop-color="#0023ff"/><stop offset="1" stop-color="#001cff"/></linearGradient>
<linearGradient id="g243" gradientUnits="userSpaceOnUse" x1="114" x2="882" y1="0" y2="0"><stop offset="0" stop-color="#a4ff00"/><stop offset=".061" stop-color="#38ff00"/><stop offset=".097" stop-color="#00ff00"/><stop offset=".149" stop-color="#00ff48"/><stop offset=".238" stop-color="#00ffac"/><stop offset=".327" stop-color="#00fffa"/><stop offset=".334" stop-color="#00ffff"/><stop offset=".416" stop-color="#00c8ff"/><stop offset=".504" stop-color="#0099ff"/><stop offset=".593" stop-color="#0074ff"/><stop offset=".682" stop-color="#0058ff"/><stop offset=".77" stop-color="#0041ff"/><stop offset=".859" stop-color="#0030ff"/><stop offset=".948" stop-color="#0023ff"/><stop offset="1" stop-color="#001cff"/></linearGradient>
<linearGradient id="g244" gradientUnits="userSpaceOnUse" x1="114" x2="882" y1="0" y2="0"><stop offset="0" stop-color="#acff00"/><stop offset=".064" stop-color="#38ff00"/><stop offset=".1" stop-color="#00ff00"/><stop offset=".153" stop-color="#00ff48"/><stop offset=".241" stop-color="#00ffac"/><stop offset=".329" stop-color="#00fffa"/><stop offset=".336" stop-color="#00ffff"/><stop offset=".417" stop-color="#00c8ff"/><stop offset=".505" stop-color="#0099ff"/><stop offset=".593" stop-color="#0074ff"/><stop offset=".681" stop-color="#0058ff"/><stop offset=".769" stop-color="#0041ff"/><stop offset=".857" stop-color="#0030ff"/><stop offset=".945" stop-color="#0023ff"/><stop offset="1" stop-color="#001cff"/></linearGradient>
<linearGradient id="g245" gradientUnits="userSpaceOnUse" x1="114" x2="882" y1="0" y2="0"><stop offset="0" stop-color="#b4ff00"/><stop offset=".068" stop-color="#38ff00"/><stop offset=".104" stop-color="#00ff00"/><stop offset=".156" stop-color="#00ff48"/><stop offset=".243" stop-color="#00ffac"/><stop offset=".331" stop-color="#00fffa"/><stop offset=".338" stop-color="#00ffff"/><stop offset=".418" stop-color="#00c8ff"/><stop offset=".506" stop-color="#0099ff"/><stop offset=".593" stop-color="#0074ff"/><stop offset=".681" stop-color="#0058ff"/><stop offset=".768" stop-color="#0041ff"/><stop offset=".856" stop-color="#0030ff"/><stop offset=".943" stop-color="#0023ff"/><stop offset="1" stop-color="#001bff"/></linearGradient>
<linearGradient id="g246" gradientUnits="userSpaceOnUse" x1="114" x2="882" y1="0" y2="0"><stop offset="0" stop-color="#bcff00"/><stop offset=".072" stop-color="#38ff00"/><stop offset=".107" stop-color="#00ff00"/><stop offset=".159" stop-color="#00ff48"/><stop offset=".246" stop-color="#00ffac"/><stop offset=".332" stop-color="#00fffa"/><stop offset=".339" stop-color="#00ffff"/><stop offset=".419" stop-color="#00c8ff"/><stop offset=".506" stop-color="#0099ff"/><stop offset=".593" stop-color="#0074ff"/><stop offset=".68" stop-color="#0058ff"/><stop offset=".767" stop-color="#0041ff"/><stop offset=".854" stop-color="#0030ff"/><stop offset=".941" stop-color="#0023ff"/><stop offset="1" stop-color="#001bff"/></linearGradient>
<linearGradient id="g247" gradientUnits="userSpaceOnUse" x1="114" x2="882" y1="0" y2="0"><stop offset="0" stop-color="#c5ff00"/><stop offset=".075" stop-color="#38ff00"/><stop offset=".11" stop-color="#00ff00"/><stop offset=".162" stop-color="#00ff48"/><stop offset=".248" stop-color="#00ffac"/><stop offset=".334" stop-color="#00fffa"/><stop offset=".341" stop-color="#00ffff"/><stop offset=".421" stop-color="#00c8ff"/><stop offset=".507" stop-color="#0099ff"/><stop offset=".593" stop-color="#0074ff"/><stop offset=".68" stop-color="#0058ff"/><stop offset=".766" stop-color="#0041ff"/><stop offset=".852" stop-color="#0030ff"/><stop offset=".938" stop-color="#0023ff"/><stop offset="1" stop-color="#001bff"/></linearGradient>
<linearGradient id="g248" gradientUnits="userSpaceOnUse" x1="114" x2="882" y1="0" y2="0"><stop offset="0" stop-color="#cdff00"/><stop offset=".079" stop-color="#38ff00"/><stop offset=".114" stop-color="#00ff00"/><stop offset=".165" stop-color="#00ff48"/><stop offset=".25" stop-color="#00ffac"/><stop offset=".336" stop-color="#00fffa"/><stop offset=".343" stop-color="#00ffff"/><stop offset=".422" stop-color="#00c8ff"/><stop offset=".507" stop-color="#0099ff"/><stop offset=".593" stop-color="#0074ff"/><stop offset=".679" stop-color="#0058ff"/><stop offset=".765" stop-color="#0041ff"/><stop offset=".85" stop-color="#0030ff"/><stop offset=".936" stop-color="#0023ff"/><stop offset="1" stop-color="#001bff"/></linearGradient>
<linearGradient id="g249" gradientUnits="userSpaceOnUse" x1="114" x2="882" y1="0" y2="0"><stop offset="0" stop-color="#d6ff00"/><stop offset=".082" stop-color="#38ff00"/><stop offset=".117" stop-color="#00ff00"/><stop offset=".167" stop-color="#00ff48"/><stop offset=".253" stop-color="#00ffac"/><stop offset=".338" stop-color="#00fffa"/><stop offset=".345" stop-color="#00ffff"/><stop offset=".423" stop-color="#00c8ff"/><stop offset=".508" stop-color="#0099ff"/><stop offset=".593" stop-color="#0074ff"/><stop offset=".678" stop-color="#0058ff"/><stop offset=".764" stop-color="#0041ff"/><stop offset=".849" stop-color="#0030ff"/><stop offset=".934" stop-color="#0023ff"/><stop offset="1" stop-color="#001aff"/></linearGradient>
<linearGradient id="g250" gradientUnits="userSpaceOnUse" x1="114" x2="882" y1="0" y2="0"><stop offset="0" stop-color="#deff00"/><stop offset=".086" stop-color="#38ff00"/><stop offset=".12" stop-color="#00ff00"/><stop offset=".17" stop-color="#00ff48"/><stop offset=".255" stop-color="#00ffac"/><stop offset=".34" stop-color="#00fffa"/><stop offset=".346" stop-color="#00ffff"/><stop offset=".424" stop-color="#00c8ff"/><stop offset=".509" stop-color="#0099ff"/><stop offset=".593" stop-color="#0074ff"/><stop offset=".678" stop-color="#0058ff"/><stop offset=".763" stop-color="#0041ff"/><stop offset=".847" stop-color="#0030ff"/><stop offset=".932" stop-color="#0023ff"/><stop offset="1" stop-color="#001aff"/></linearGradient>
<linearGradient id="g251" gradientUnits="userSpaceOnUse" x1="114" x2="882" y1="0" y2="0"><stop offset="0" stop-color="#e7ff00"/><stop offset=".005" stop-color="#dcff00"/><stop offset=".089" stop-color="#38ff00"/><stop offset=".123" stop-color="#00ff00"/><stop offset=".173" stop-color="#00ff48"/><stop offset=".257" stop-color="#00ffac"/><stop offset=".341" stop-color="#00fffa"/><stop offset=".348" stop-color="#00ffff"/><stop offset=".425" stop-color="#00c8ff"/><stop offset=".509" stop-color="#0099ff"/><stop offset=".593" stop-color="#0074ff"/><stop offset=".677" stop-color="#0058ff"/><stop offset=".761" stop-color="#0041ff"/><stop offset=".846" stop-color="#0030ff"/><stop offset=".93" stop-color="#0023ff"/><stop offset="1" stop-color="#001aff"/></linearGradient>
<linearGradient id="g252" gradientUnits="userSpaceOnUse" x1="114" x2="882" y1="0" y2="0"><stop offset="0" stop-color="#f0ff00"/><stop offset=".009" stop-color="#dcff00"/><stop offset=".092" stop-color="#38ff00"/><stop offset=".126" stop-color="#00ff00"/><stop offset=".176" stop-color="#00ff48"/><stop offset=".259" stop-color="#00ffac"/><stop offset=".343" stop-color="#00fffa"/><stop offset=".35" stop-color="#00ffff"/><stop offset=".426" stop-color="#00c8ff"/><stop offset=".51" stop-color="#0099ff"/><stop offset=".593" stop-color="#0074ff"/><stop offset=".677" stop-color="#0058ff"/><stop offset=".76" stop-color="#0041ff"/><stop offset=".844" stop-color="#0030ff"/><stop offset=".927" stop-color="#0023ff"/><stop offset="1" stop-color="#0019ff"/></linearGradient>
<linearGradient id="g253" gradientUnits="userSpaceOnUse" x1="114" x2="882" y1="0" y2="0"><stop offset="0" stop-color="#f9ff00"/><stop offset=".013" stop-color="#dcff00"/><stop offset=".096" stop-color="#38ff00"/><stop offset=".129" stop-color="#00ff00"/><stop offset=".179" stop-color="#00ff48"/><stop offset=".262" stop-color="#00ffac"/><stop offset=".345" stop-color="#00fffa"/><stop offset=".351" stop-color="#00ffff"/><stop offset=".428" stop-color="#00c8ff"/><stop offset=".51" stop-color="#0099ff"/><stop offset=".593" stop-color="#0074ff"/><stop offset=".676" stop-color="#0058ff"/><stop offset=".759" stop-color="#0041ff"/><stop offset=".842" stop-color="#0030ff"/><stop offset=".925" stop-color="#0023ff"/><stop offset="1" stop-color="#0019ff"/></linearGradient>
<linearGradient id="g254" gradientUnits="userSpaceOnUse" x1="114" x2="882" y1="0" y2="0"><stop offset="0" stop-color="#fffc00"/><stop offset=".016" stop-color="#dcff00"/><stop offset=".099" stop-color="#38ff00"/><stop offset=".132" stop-color="#00ff00"/><stop offset=".181" stop-color="#00ff48"/><stop offset=".264" stop-color="#00ffac"/><stop offset=".346" stop-color="#00fffa"/><stop offset=".353" stop-color="#00ffff"/><stop offset=".429" stop-color="#00c8ff"/><stop offset=".511" stop-color="#0099ff"/><stop offset=".593" stop-color="#0074ff"/><stop offset=".676" stop-color="#0058ff"/><stop offset=".758" stop-color="#0041ff"/><stop offset=".841" stop-color="#0030ff"/><stop offset=".923" stop-color="#0023ff"/><stop offset="1" stop-color="#0019ff"/></linearGradient>
<linearGradient id="g255" gradientUnits="userSpaceOnUse" x1="114" x2="882" y1="0" y2="0"><stop offset="0" stop-color="#fff300"/><stop offset=".005" stop-color="#ffff00"/><stop offset=".02" stop-color="#dcff00"/><stop offset=".102" stop-color="#38ff00"/><stop offset=".135" stop-color="#00ff00"/><stop offset=".184" stop-color="#00ff48"/><stop offset=".266" stop-color="#00ffac"/><stop offset=".348" stop-color="#00fffa"/><stop offset=".354" stop-color="#00ffff"/><stop offset=".43" stop-color="#00c8ff"/><stop offset=".512" stop-color="#0099ff"/><stop offset=".594" stop-color="#0074ff"/><stop offset=".675" stop-color="#0058ff"/><stop offset=".757" stop-color="#0041ff"/><stop offset=".839" stop-color="#0030ff"/><stop offset=".921" stop-color="#0023ff"/><stop offset="1" stop-color="#0018ff"/></linearGradient>
<linearGradient id="g256" gradientUnits="userSpaceOnUse" x1="114" x2="882" y1="0" y2="0"><stop offset="0" stop-color="#ffe900"/><stop offset=".009" stop-color="#ffff00"/><stop offset=".024" stop-color="#dcff00"/><stop offset=".105" stop-color="#38ff00"/><stop offset=".138" stop-color="#00ff00"/><stop offset=".187" stop-color="#00ff48"/><stop offset=".268" stop-color="#00ffac"/><stop offset=".349" stop-color="#00fffa"/><stop offset=".356" stop-color="#00ffff"/><stop offset=".431" stop-color="#00c8ff"/><stop offset=".512" stop-color="#0099ff"/><stop offset=".594" stop-color="#0074ff"/><stop offset=".675" stop-color="#0058ff"/><stop offset=".756" stop-color="#0041ff"/><stop offset=".838" stop-color="#0030ff"/><stop offset=".919" stop-color="#0023ff"/><stop offset="1" stop-color="#0018ff"/></linearGradient>
<linearGradient id="g257" gradientUnits="userSpaceOnUse" x1="114" x2="882" y1="0" y2="0"><stop offset="0" stop-color="#ffe000"/><stop offset=".013" stop-color="#ffff00"/><stop offset=".028" stop-color="#dcff00"/><stop offset=".108" stop-color="#38ff00"/><stop offset=".141" stop-color="#00ff00"/><stop offset=".189" stop-color="#00ff48"/><stop offset=".27" stop-color="#00ffac"/><stop offset=".351" stop-color="#00fffa"/><stop offset=".357" stop-color="#00ffff"/><stop offset=".432" stop-color="#00c8ff"/><stop offset=".513" stop-color="#0099ff"/><stop offset=".594" stop-color="#0074ff"/><stop offset=".674" stop-color="#0058ff"/><stop offset=".755" stop-color="#0041ff"/><stop offset=".836" stop-color="#0030ff"/><stop offset=".917" stop-color="#0023ff"/><stop offset=".998" stop-color="#0018ff"/><stop offset="1" stop-color="#0018ff"/></linearGradient>
<linearGradient id="g258" gradientUnits="userSpaceOnUse" x1="114" x2="882" y1="0" y2="0"><stop offset="0" stop-color="#ffd600"/><stop offset=".016" stop-color="#ffff00"/><stop offset=".031" stop-color="#dcff00"/><stop offset=".112" stop-color="#38ff00"/><stop offset=".144" stop-color="#00ff00"/><stop offset=".192" stop-color="#00ff48"/><stop offset=".272" stop-color="#00ffac"/><stop offset=".353" stop-color="#00fffa"/><stop offset=".359" stop-color="#00ffff"/><stop offset=".433" stop-color="#00c8ff"/><stop offset=".513" stop-color="#0099ff"/><stop offset=".594" stop-color="#0074ff"/><stop offset=".674" stop-color="#0058ff"/><stop offset=".754" stop-color="#0041ff"/><stop offset=".835" stop-color="#0030ff"/><stop offset=".915" stop-color="#0023ff"/><stop offset=".995" stop-color="#0018ff"/><stop offset="1" stop-color="#0018ff"/></linearGradient>
<linearGradient id="g259" gradientUnits="userSpaceOnUse" x1="114" x2="882" y1="0" y2="0"><stop offset="0" stop-color="#ffcd00"/><stop offset=".02" stop-color="#ffff00"/><stop offset=".035" stop-color="#dcff00"/><stop offset=".115" stop-color="#38ff00"/><stop offset=".147" stop-color="#00ff00"/><stop offset=".194" stop-color="#00ff48"/><stop offset=".274" stop-color="#00ffac"/><stop offset=".354" stop-color="#00fffa"/><stop offset=".361" stop-color="#00ffff"/><stop offset=".434" stop-color="#00c8ff"/><stop offset=".514" stop-color="#0099ff"/><stop offset=".594" stop-color="#0074ff"/><stop offset=".674" stop-color="#0058ff"/><stop offset=".753" stop-color="#0041ff"/><stop offset=".833" stop-color="#0030ff"/><stop offset=".913" stop-color="#0023ff"/><stop offset=".993" stop-color="#0018ff"/><stop offset="1" stop-color="#0017ff"/></linearGradient>
<linearGradient id="g260" gradientUnits="userSpaceOnUse" x1="114" x2="882" y1="0" y2="0"><stop offset="0" stop-color="#ffc300"/><stop offset=".024" stop-color="#ffff00"/><stop offset=".038" stop-color="#dcff00"/><stop offset=".118" stop-color="#38ff00"/><stop offset=".15" stop-color="#00ff00"/><stop offset=".197" stop-color="#00ff48"/><stop offset=".276" stop-color="#00ffac"/><stop offset=".356" stop-color="#00fffa"/><stop offset=".362" stop-color="#00ffff"/><stop offset=".435" stop-color="#00c8ff"/><stop offset=".514" stop-color="#0099ff"/><stop offset=".594" stop-color="#0074ff"/><stop offset=".673" stop-color="#0058ff"/><stop offset=".752" stop-color="#0041ff"/><stop offset=".832" stop-color="#0030ff"/><stop offset=".911" stop-color="#0023ff"/><stop offset=".991" stop-color="#0018ff"/><stop offset="1" stop-color="#0017ff"/></linearGradient>
<linearGradient id="g261" gradientUnits="userSpaceOnUse" x1="114" x2="882" y1="0" y2="0"><stop offset="0" stop-color="#ffb900"/><stop offset=".027" stop-color="#ffff00"/><stop offset=".042" stop-color="#dcff00"/><stop offset=".121" stop-color="#38ff00"/><stop offset=".152" stop-color="#00ff00"/><stop offset=".199" stop-color="#00ff48"/><stop offset=".278" stop-color="#00ffac"/><stop offset=".357" stop-color="#00fffa"/><stop offset=".363" stop-color="#00ffff"/><stop offset=".436" stop-color="#00c8ff"/><stop offset=".515" stop-color="#0099ff"/><stop offset=".594" stop-color="#0074ff"/><stop offset=".673" stop-color="#0058ff"/><stop offset=".752" stop-color="#0041ff"/><stop offset=".83" stop-color="#0030ff"/><stop offset=".909" stop-color="#0023ff"/><stop offset=".988" stop-color="#0018ff"/><stop offset="1" stop-color="#0017ff"/></linearGradient>
<linearGradient id="g262" gradientUnits="userSpaceOnUse" x1="114" x2="882" y1="0" y2="0"><stop offset="0" stop-color="#ffaf00"/><stop offset=".031" stop-color="#ffff00"/><stop offset=".045" stop-color="#dcff00"/><stop offset=".123" stop-color="#38ff00"/><stop offset=".155" stop-color="#00ff00"/><stop offset=".202" stop-color="#00ff48"/><stop offset=".28" stop-color="#00ffac"/><stop offset=".359" stop-color="#00fffa"/><stop offset=".365" stop-color="#00ffff"/><stop offset=".437" stop-color="#00c8ff"/><stop offset=".515" stop-color="#0099ff"/><stop offset=".594" stop-color="#0074ff"/><stop offset=".672" stop-color="#0058ff"/><stop offset=".751" stop-color="#0041ff"/><stop offset=".829" stop-color="#0030ff"/><stop offset=".907" stop-color="#0023ff"/><stop offset=".986" stop-color="#0018ff"/><stop offset="1" stop-color="#0016ff"/></linearGradient>
<linearGradient id="g263" gradientUnits="userSpaceOnUse" x1="114" x2="882" y1="0" y2="0"><stop offset="0" stop-color="#ffa500"/><stop offset=".034" stop-color="#ffff00"/><stop offset=".048" stop-color="#dcff00"/><stop offset=".126" stop-color="#38ff00"/><stop offset=".158" stop-color="#00ff00"/><stop offset=".204" stop-color="#00ff48"/><stop offset=".282" stop-color="#00ffac"/><stop offset=".36" stop-color="#00fffa"/><stop offset=".366" stop-color="#00ffff"/><stop offset=".438" stop-color="#00c8ff"/><stop offset=".516" stop-color="#0099ff"/><stop offset=".594" stop-color="#0074ff"/><stop offset=".672" stop-color="#0058ff"/><stop offset=".75" stop-color="#0041ff"/><stop offset=".828" stop-color="#0030ff"/><stop offset=".905" stop-color="#0023ff"/><stop offset=".983" stop-color="#0018ff"/><stop offset="1" stop-color="#0016ff"/></linearGradient>
<linearGradient id="g264" gradientUnits="userSpaceOnUse" x1="114" x2="882" y1="0" y2="0"><stop offset="0" stop-color="#ff9b00"/><stop offset=".038" stop-color="#ffff00"/><stop offset=".052" stop-color="#dcff00"/><stop offset=".129" stop-color="#38ff00"/><stop offset=".161" stop-color="#00ff00"/><stop offset=".207" stop-color="#00ff48"/><stop offset=".284" stop-color="#00ffac"/><stop offset=".362" stop-color="#00fffa"/><stop offset=".368" stop-color="#00ffff"/><stop offset=".439" stop-color="#00c8ff"/><stop offset=".516" stop-color="#0099ff"/><stop offset=".594" stop-color="#0074ff"/><stop offset=".671" stop-color="#0058ff"/><stop offset=".749" stop-color="#0041ff"/><stop offset=".826" stop-color="#0030ff"/><stop offset=".904" stop-color="#0023ff"/><stop offset=".981" stop-color="#0018ff"/><stop offset="1" stop-color="#0016ff"/></linearGradient>
<linearGradient id="g265" gradientUnits="userSpaceOnUse" x1="114" x2="882" y1="0" y2="0"><stop offset="0" stop-color="#ff9000"/><stop offset=".041" stop-color="#ffff00"/><stop offset=".055" stop-color="#dcff00"/><stop offset=".132" stop-color="#38ff00"/><stop offset=".163" stop-color="#00ff00"/><stop offset=".209" stop-color="#00ff48"/><stop offset=".286" stop-color="#00ffac"/><stop offset=".363" stop-color="#00fffa"/><stop offset=".369" stop-color="#00ffff"/><stop offset=".44" stop-color="#00c8ff"/><stop offset=".517" stop-color="#0099ff"/><stop offset=".594" stop-color="#0074ff"/><stop offset=".671" stop-color="#0058ff"/><stop offset=".748" stop-color="#0041ff"/><stop offset=".825" stop-color="#0030ff"/><stop offset=".902" stop-color="#0023ff"/><stop offset=".979" stop-color="#0018ff"/><stop offset="1" stop-color="#0016ff"/></linearGradient>
<linearGradient id="g266" gradientUnits="userSpaceOnUse" x1="114" x2="882" y1="0" y2="0"><stop offset="0" stop-color="#ff8600"/><stop offset=".044" stop-color="#ffff00"/><stop offset=".058" stop-color="#dcff00"/><stop offset=".135" stop-color="#38ff00"/><stop offset=".166" stop-color="#00ff00"/><stop offset=".211" stop-color="#00ff48"/><stop offset=".288" stop-color="#00ffac"/><stop offset=".364" stop-color="#00fffa"/><stop offset=".371" stop-color="#00ffff"/><stop offset=".441" stop-color="#00c8ff"/><stop offset=".517" stop-color="#0099ff"/><stop offset=".594" stop-color="#0074ff"/><stop offset=".67" stop-color="#0058ff"/><stop offset=".747" stop-color="#0041ff"/><stop offset=".823" stop-color="#0030ff"/><stop offset=".9" stop-color="#0023ff"/><stop offset=".977" stop-color="#0018ff"/><stop offset="1" stop-color="#0015ff"/></linearGradient>
<linearGradient id="g267" gradientUnits="userSpaceOnUse" x1="114" x2="882" y1="0" y2="0"><stop offset="0" stop-color="#ff7b00"/><stop offset=".048" stop-color="#ffff00"/><stop offset=".062" stop-color="#dcff00"/><stop offset=".138" stop-color="#38ff00"/><stop offset=".168" stop-color="#00ff00"/><stop offset=".214" stop-color="#00ff48"/><stop offset=".29" stop-color="#00ffac"/><stop offset=".366" stop-color="#00fffa"/><stop offset=".372" stop-color="#00ffff"/><stop offset=".442" stop-color="#00c8ff"/><stop offset=".518" stop-color="#0099ff"/><stop offset=".594" stop-color="#0074ff"/><stop offset=".67" stop-color="#0058ff"/><stop offset=".746" stop-color="#0041ff"/><stop offset=".822" stop-color="#0030ff"/><stop offset=".898" stop-color="#0023ff"/><stop offset=".974" stop-color="#0018ff"/><stop offset="1" stop-color="#0015ff"/></linearGradient>
<linearGradient id="g268" gradientUnits="userSpaceOnUse" x1="114" x2="882" y1="0" y2="0"><stop offset="0" stop-color="#ff7100"/><stop offset=".051" stop-color="#ffff00"/><stop offset=".065" stop-color="#dcff00"/><stop offset=".14" stop-color="#38ff00"/><stop offset=".171" stop-color="#00ff00"/><stop offset=".216" stop-color="#00ff48"/><stop offset=".292" stop-color="#00ffac"/><stop offset=".367" stop-color="#00fffa"/><stop offset=".373" stop-color="#00ffff"/><stop offset=".443" stop-color="#00c8ff"/><stop offset=".518" stop-color="#0099ff"/><stop offset=".594" stop-color="#0074ff"/><stop offset=".67" stop-color="#0058ff"/><stop offset=".745" stop-color="#0041ff"/><stop offset=".821" stop-color="#0030ff"/><stop offset=".896" stop-color="#0023ff"/><stop offset=".972" stop-color="#0018ff"/><stop offset="1" stop-color="#0015ff"/></linearGradient>
<linearGradient id="g269" gradientUnits="userSpaceOnUse" x1="114" x2="882" y1="0" y2="0"><stop offset="0" stop-color="#ff6600"/><stop offset=".054" stop-color="#ffff00"/><stop offset=".068" stop-color="#dcff00"/><stop offset=".143" stop-color="#38ff00"/><stop offset=".174" stop-color="#00ff00"/><stop offset=".218" stop-color="#00ff48"/><stop offset=".293" stop-color="#00ffac"/><stop offset=".369" stop-color="#00fffa"/><stop offset=".375" stop-color="#00ffff"/><stop offset=".444" stop-color="#00c8ff"/><stop offset=".519" stop-color="#0099ff"/><stop offset=".594" stop-color="#0074ff"/><stop offset=".669" stop-color="#0058ff"/><stop offset=".744" stop-color="#0041ff"/><stop offset=".82" stop-color="#0030ff"/><stop offset=".895" stop-color="#0023ff"/><stop offset=".97" stop-color="#0018ff"/><stop offset="1" stop-color="#0015ff"/></linearGradient>
<linearGradient id="g270" gradientUnits="userSpaceOnUse" x1="114" x2="882" y1="0" y2="0"><stop offset="0" stop-color="#ff5b00"/><stop offset=".057" stop-color="#ffff00"/><stop offset=".071" stop-color="#dcff00"/><stop offset=".146" stop-color="#38ff00"/><stop offset=".176" stop-color="#00ff00"/><stop offset=".22" stop-color="#00ff48"/><stop offset=".295" stop-color="#00ffac"/><stop offset=".37" stop-color="#00fffa"/><stop offset=".376" stop-color="#00ffff"/><stop offset=".445" stop-color="#00c8ff"/><stop offset=".519" stop-color="#0099ff"/><stop offset=".594" stop-color="#0074ff"/><stop offset=".669" stop-color="#0058ff"/><stop offset=".744" stop-color="#0041ff"/><stop offset=".818" stop-color="#0030ff"/><stop offset=".893" stop-color="#0023ff"/><stop offset=".968" stop-color="#0018ff"/><stop offset="1" stop-color="#0014ff"/></linearGradient>
<linearGradient id="g271" gradientUnits="userSpaceOnUse" x1="114" x2="882" y1="0" y2="0"><stop offset="0" stop-color="#ff5000"/><stop offset=".06" stop-color="#ffff00"/><stop offset=".074" stop-color="#dcff00"/><stop offset=".148" stop-color="#38ff00"/><stop offset=".178" stop-color="#00ff00"/><stop offset=".223" stop-color="#00ff48"/><stop offset=".297" stop-color="#00ffac"/><stop offset=".371" stop-color="#00fffa"/><stop offset=".377" stop-color="#00ffff"/><stop offset=".446" stop-color="#00c8ff"/><stop offset=".52" stop-color="#0099ff"/><stop offset=".594" stop-color="#0074ff"/><stop offset=".668" stop-color="#0058ff"/><stop offset=".743" stop-color="#0041ff"/><stop offset=".817" stop-color="#0030ff"/><stop offset=".891" stop-color="#0023ff"/><stop offset=".966" stop-color="#0018ff"/><stop offset="1" stop-color="#0014ff"/></linearGradient>
<linearGradient id="g272" gradientUnits="userSpaceOnUse" x1="114" x2="882" y1="0" y2="0"><stop offset="0" stop-color="#ff4400"/><stop offset=".003" stop-color="#ff4f00"/><stop offset=".064" stop-color="#ffff00"/><stop offset=".077" stop-color="#dcff00"/><stop offset=".151" stop-color="#38ff00"/><stop offset=".181" stop-color="#00ff00"/><stop offset=".225" stop-color="#00ff48"/><stop offset=".299" stop-color="#00ffac"/><stop offset=".373" stop-color="#00fffa"/><stop offset=".378" stop-color="#00ffff"/><stop offset=".446" stop-color="#00c8ff"/><stop offset=".52" stop-color="#0099ff"/><stop offset=".594" stop-color="#0074ff"/><stop offset=".668" stop-color="#0058ff"/><stop offset=".742" stop-color="#0041ff"/><stop offset=".816" stop-color="#0030ff"/><stop offset=".89" stop-color="#0023ff"/><stop offset=".963" stop-color="#0018ff"/><stop offset="1" stop-color="#0014ff"/></linearGradient>
<linearGradient id="g273" gradientUnits="userSpaceOnUse" x1="114" x2="882" y1="0" y2="0"><stop offset="0" stop-color="#ff3900"/><stop offset=".007" stop-color="#ff4f00"/><stop offset=".067" stop-color="#ffff00"/><stop offset=".08" stop-color="#dcff00"/><stop offset=".154" stop-color="#38ff00"/><stop offset=".183" stop-color="#00ff00"/><stop offset=".227" stop-color="#00ff48"/><stop offset=".3" stop-color="#00ffac"/><stop offset=".374" stop-color="#00fffa"/><stop offset=".38" stop-color="#00ffff"/><stop offset=".447" stop-color="#00c8ff"/><stop offset=".521" stop-color="#0099ff"/><stop offset=".594" stop-color="#0074ff"/><stop offset=".668" stop-color="#0058ff"/><stop offset=".741" stop-color="#0041ff"/><stop offset=".815" stop-color="#0030ff"/><stop offset=".888" stop-color="#0023ff"/><stop offset=".961" stop-color="#0018ff"/><stop offset="1" stop-color="#0014ff"/></linearGradient>
<linearGradient id="g274" gradientUnits="userSpaceOnUse" x1="114" x2="882" y1="0" y2="0"><stop offset="0" stop-color="#ff2e00"/><stop offset=".01" stop-color="#ff4f00"/><stop offset=".07" stop-color="#ffff00"/><stop offset=".083" stop-color="#dcff00"/><stop offset=".156" stop-color="#38ff00"/><stop offset=".186" stop-color="#00ff00"/><stop offset=".229" stop-color="#00ff48"/><stop offset=".302" stop-color="#00ffac"/><stop offset=".375" stop-color="#00fffa"/><stop offset=".381" stop-color="#00ffff"/><stop offset=".448" stop-color="#00c8ff"/><stop offset=".521" stop-color="#0099ff"/><stop offset=".594" stop-color="#0074ff"/><stop offset=".667" stop-color="#0058ff"/><stop offset=".74" stop-color="#0041ff"/><stop offset=".813" stop-color="#0030ff"/><stop offset=".886" stop-color="#0023ff"/><stop offset=".959" stop-color="#0018ff"/><stop offset="1" stop-color="#0013ff"/></linearGradient>
<linearGradient id="g275" gradientUnits="userSpaceOnUse" x1="114" x2="882" y1="0" y2="0"><stop offset="0" stop-color="#ff2200"/><stop offset=".013" stop-color="#ff4f00"/><stop offset=".073" stop-color="#ffff00"/><stop offset=".086" stop-color="#dcff00"/><stop offset=".159" stop-color="#38ff00"/><stop offset=".188" stop-color="#00ff00"/><stop offset=".231" stop-color="#00ff48"/><stop offset=".304" stop-color="#00ffac"/><stop offset=".376" stop-color="#00fffa"/><stop offset=".382" stop-color="#00ffff"/><stop offset=".449" stop-color="#00c8ff"/><stop offset=".522" stop-color="#0099ff"/><stop offset=".594" stop-color="#0074ff"/><stop offset=".667" stop-color="#0058ff"/><stop offset=".739" stop-color="#0041ff"/><stop offset=".812" stop-color="#0030ff"/><stop offset=".885" stop-color="#0023ff"/><stop offset=".957" stop-color="#0018ff"/><stop offset="1" stop-color="#0013ff"/></linearGradient>
<linearGradient id="g276" gradientUnits="userSpaceOnUse" x1="114" x2="882" y1="0" y2="0"><stop offset="0" stop-color="#ff1600"/><stop offset=".017" stop-color="#ff4f00"/><stop offset=".076" stop-color="#ffff00"/><stop offset=".089" stop-color="#dcff00"/><stop offset=".161" stop-color="#38ff00"/><stop offset=".19" stop-color="#00ff00"/><stop offset=".233" stop-color="#00ff48"/><stop offset=".305" stop-color="#00ffac"/><stop offset=".378" stop-color="#00fffa"/><stop offset=".383" stop-color="#00ffff"/><stop offset=".45" stop-color="#00c8ff"/><stop offset=".522" stop-color="#0099ff"/><stop offset=".594" stop-color="#0074ff"/><stop offset=".666" stop-color="#0058ff"/><stop offset=".739" stop-color="#0041ff"/><stop offset=".811" stop-color="#0030ff"/><stop offset=".883" stop-color="#0023ff"/><stop offset=".955" stop-color="#0018ff"/><stop offset="1" stop-color="#0013ff"/></linearGradient>
<linearGradient id="g277" gradientUnits="userSpaceOnUse" x1="114" x2="882" y1="0" y2="0"><stop offset="0" stop-color="#ff0a00"/><stop offset=".02" stop-color="#ff4f00"/><stop offset=".079" stop-color="#ffff00"/><stop offset=".092" stop-color="#dcff00"/><stop offset=".164" stop-color="#38ff00"/><stop offset=".193" stop-color="#00ff00"/><stop offset=".235" stop-color="#00ff48"/><stop offset=".307" stop-color="#00ffac"/><stop offset=".379" stop-color="#00fffa"/><stop offset=".385" stop-color="#00ffff"/><stop offset=".451" stop-color="#00c8ff"/><stop offset=".523" stop-color="#0099ff"/><stop offset=".594" stop-color="#0074ff"/><stop offset=".666" stop-color="#0058ff"/><stop offset=".738" stop-color="#0041ff"/><stop offset=".81" stop-color="#0030ff"/><stop offset=".881" stop-color="#0023ff"/><stop offset=".953" stop-color="#0018ff"/><stop offset="1" stop-color="#0013ff"/></linearGradient>
<linearGradient id="g278" gradientUnits="userSpaceOnUse" x1="114" x2="882" y1="0" y2="0"><stop offset="0" stop-color="#ff0000"/><stop offset=".023" stop-color="#ff4f00"/><stop offset=".081" stop-color="#ffff00"/><stop offset=".095" stop-color="#dcff00"/><stop offset=".166" stop-color="#38ff00"/><stop offset=".195" stop-color="#00ff00"/><stop offset=".237" stop-color="#00ff48"/><stop offset=".309" stop-color="#00ffac"/><stop offset=".38" stop-color="#00fffa"/><stop offset=".386" stop-color="#00ffff"/><stop offset=".452" stop-color="#00c8ff"/><stop offset=".523" stop-color="#0099ff"/><stop offset=".594" stop-color="#0074ff"/><stop offset=".666" stop-color="#0058ff"/><stop offset=".737" stop-color="#0041ff"/><stop offset=".809" stop-color="#0030ff"/><stop offset=".88" stop-color="#0023ff"/><stop offset=".951" stop-color="#0018ff"/><stop offset="1" stop-color="#0012ff"/></linearGradient>
<linearGradient id="g279" gradientUnits="userSpaceOnUse" x1="114" x2="882" y1="0" y2="0"><stop offset="0" stop-color="#ff0000"/><stop offset=".004" stop-color="#ff0000"/><stop offset=".026" stop-color="#ff4f00"/><stop offset=".084" stop-color="#ffff00"/><stop offset=".097" stop-color="#dcff00"/><stop offset=".168" stop-color="#38ff00"/><stop offset=".197" stop-color="#00ff00"/><stop offset=".239" stop-color="#00ff48"/><stop offset=".31" stop-color="#00ffac"/><stop offset=".381" stop-color="#00fffa"/><stop offset=".387" stop-color="#00ffff"/><stop offset=".452" stop-color="#00c8ff"/><stop offset=".523" stop-color="#0099ff"/><stop offset=".594" stop-color="#0074ff"/><stop offset=".665" stop-color="#0058ff"/><stop offset=".736" stop-color="#0041ff"/><stop offset=".807" stop-color="#0030ff"/><stop offset=".878" stop-color="#0023ff"/><stop offset=".949" stop-color="#0018ff"/><stop offset="1" stop-color="#0012ff"/></linearGradient>
<linearGradient id="g280" gradientUnits="userSpaceOnUse" x1="114" x2="882" y1="0" y2="0"><stop offset="0" stop-color="#ff0000"/><stop offset=".007" stop-color="#ff0000"/><stop offset=".03" stop-color="#ff4f00"/><stop offset=".087" stop-color="#ffff00"/><stop offset=".1" stop-color="#dcff00"/><stop offset=".171" stop-color="#38ff00"/><stop offset=".199" stop-color="#00ff00"/><stop offset=".241" stop-color="#00ff48"/><stop offset=".312" stop-color="#00ffac"/><stop offset=".383" stop-color="#00fffa"/><stop offset=".388" stop-color="#00ffff"/><stop offset=".453" stop-color="#00c8ff"/><stop offset=".524" stop-color="#0099ff"/><stop offset=".594" stop-color="#0074ff"/><stop offset=".665" stop-color="#0058ff"/><stop offset=".736" stop-color="#0041ff"/><stop offset=".806" stop-color="#0030ff"/><stop offset=".877" stop-color="#0023ff"/><stop offset=".947" stop-color="#0018ff"/><stop offset="1" stop-color="#0012ff"/></linearGradient>
<linearGradient id="g281" gradientUnits="userSpaceOnUse" x1="114" x2="882" y1="0" y2="0"><stop offset="0" stop-color="#ff0000"/><stop offset=".01" stop-color="#ff0000"/><stop offset=".033" stop-color="#ff4f00"/><stop offset=".09" stop-color="#ffff00"/><stop offset=".103" stop-color="#dcff00"/><stop offset=".173" stop-color="#38ff00"/><stop offset=".202" stop-color="#00ff00"/><stop offset=".243" stop-color="#00ff48"/><stop offset=".314" stop-color="#00ffac"/><stop offset=".384" stop-color="#00fffa"/><stop offset=".389" stop-color="#00ffff"/><stop offset=".454" stop-color="#00c8ff"/><stop offset=".524" stop-color="#0099ff"/><stop offset=".594" stop-color="#0074ff"/><stop offset=".665" stop-color="#0058ff"/><stop offset=".735" stop-color="#0041ff"/><stop offset=".805" stop-color="#0030ff"/><stop offset=".875" stop-color="#0023ff"/><stop offset=".946" stop-color="#0018ff"/><stop offset="1" stop-color="#0012ff"/></linearGradient>
<linearGradient id="g282" gradientUnits="userSpaceOnUse" x1="114" x2="882" y1="0" y2="0"><stop offset="0" stop-color="#ff0000"/><stop offset=".014" stop-color="#ff0000"/><stop offset=".036" stop-color="#ff4f00"/><stop offset=".093" stop-color="#ffff00"/><stop offset=".106" stop-color="#dcff00"/><stop offset=".175" stop-color="#38ff00"/><stop offset=".204" stop-color="#00ff00"/><stop offset=".245" stop-color="#00ff48"/><stop offset=".315" stop-color="#00ffac"/><stop offset=".385" stop-color="#00fffa"/><stop offset=".391" stop-color="#00ffff"/><stop offset=".455" stop-color="#00c8ff"/><stop offset=".525" stop-color="#0099ff"/><stop offset=".594" stop-color="#0074ff"/><stop offset=".664" stop-color="#0058ff"/><stop offset=".734" stop-color="#0041ff"/><stop offset=".804" stop-color="#0030ff"/><stop offset=".874" stop-color="#0023ff"/><stop offset=".944" stop-color="#0018ff"/><stop offset="1" stop-color="#0011ff"/></linearGradient>
<linearGradient id="g283" gradientUnits="userSpaceOnUse" x1="114" x2="882" y1="0" y2="0"><stop offset="0" stop-color="#ff0000"/><stop offset=".017" stop-color="#ff0000"/><stop offset=".039" stop-color="#ff4f00"/><stop offset=".096" stop-color="#ffff00"/><stop offset=".108" stop-color="#dcff00"/><stop offset=".178" stop-color="#38ff00"/><stop offset=".206" stop-color="#00ff00"/><stop offset=".247" stop-color="#00ff48"/><stop offset=".317" stop-color="#00ffac"/><stop offset=".386" stop-color="#00fffa"/><stop offset=".392" stop-color="#00ffff"/><stop offset=".456" stop-color="#00c8ff"/><stop offset=".525" stop-color="#0099ff"/><stop offset=".594" stop-color="#0074ff"/><stop offset=".664" stop-color="#0058ff"/><stop offset=".733" stop-color="#0041ff"/><stop offset=".803" stop-color="#0030ff"/><stop offset=".872" stop-color="#0023ff"/><stop offset=".942" stop-color="#0018ff"/><stop offset="1" stop-color="#0011ff"/></linearGradient>
<linearGradient id="g284" gradientUnits="userSpaceOnUse" x1="114" x2="882" y1="0" y2="0"><stop offset="0" stop-color="#ff0000"/><stop offset=".02" stop-color="#ff0000"/><stop offset=".042" stop-color="#ff4f00"/><stop offset=".098" stop-color="#ffff00"/><stop offset=".111" stop-color="#dcff00"/><stop offset=".18" stop-color="#38ff00"/><stop offset=".208" stop-color="#00ff00"/><stop offset=".249" stop-color="#00ff48"/><stop offset=".318" stop-color="#00ffac"/><stop offset=".387" stop-color="#00fffa"/><stop offset=".393" stop-color="#00ffff"/><stop offset=".456" stop-color="#00c8ff"/><stop offset=".525" stop-color="#0099ff"/><stop offset=".595" stop-color="#0074ff"/><stop offset=".664" stop-color="#0058ff"/><stop offset=".733" stop-color="#0041ff"/><stop offset=".802" stop-color="#0030ff"/><stop offset=".871" stop-color="#0023ff"/><stop offset=".94" stop-color="#0018ff"/><stop offset="1" stop-color="#0011ff"/></linearGradient>
<linearGradient id="g285" gradientUnits="userSpaceOnUse" x1="114" x2="882" y1="0" y2="0"><stop offset="0" stop-color="#ff0000"/><stop offset=".023" stop-color="#ff0000"/><stop offset=".045" stop-color="#ff4f00"/><stop offset=".101" stop-color="#ffff00"/><stop offset=".114" stop-color="#dcff00"/><stop offset=".182" stop-color="#38ff00"/><stop offset=".21" stop-color="#00ff00"/><stop offset=".251" stop-color="#00ff48"/><stop offset=".32" stop-color="#00ffac"/><stop offset=".388" stop-color="#00fffa"/><stop offset=".394" stop-color="#00ffff"/><stop offset=".457" stop-color="#00c8ff"/><stop offset=".526" stop-color="#0099ff"/><stop offset=".595" stop-color="#0074ff"/><stop offset=".663" stop-color="#0058ff"/><stop offset=".732" stop-color="#0041ff"/><stop offset=".801" stop-color="#0030ff"/><stop offset=".869" stop-color="#0023ff"/><stop offset=".938" stop-color="#0018ff"/><stop offset="1" stop-color="#0011ff"/></linearGradient>
<linearGradient id="g286" gradientUnits="userSpaceOnUse" x1="114" x2="882" y1="0" y2="0"><stop offset="0" stop-color="#ff0000"/><stop offset=".026" stop-color="#ff0000"/><stop offset=".048" stop-color="#ff4f00"/><stop offset=".104" stop-color="#ffff00"/><stop offset=".116" stop-color="#dcff00"/><stop offset=".185" stop-color="#38ff00"/><stop offset=".212" stop-color="#00ff00"/><stop offset=".253" stop-color="#00ff48"/><stop offset=".321" stop-color="#00ffac"/><stop offset=".39" stop-color="#00fffa"/><stop offset=".395" stop-color="#00ffff"/><stop offset=".458" stop-color="#00c8ff"/><stop offset=".526" stop-color="#0099ff"/><stop offset=".595" stop-color="#0074ff"/><stop offset=".663" stop-color="#0058ff"/><stop offset=".731" stop-color="#0041ff"/><stop offset=".8" stop-color="#0030ff"/><stop offset=".868" stop-color="#0023ff"/><stop offset=".936" stop-color="#0018ff"/><stop offset="1" stop-color="#0010ff"/></linearGradient>
<linearGradient id="g287" gradientUnits="userSpaceOnUse" x1="114" x2="882" y1="0" y2="0"><stop offset="0" stop-color="#ff0000"/><stop offset=".029" stop-color="#ff0000"/><stop offset=".051" stop-color="#ff4f00"/><stop offset=".106" stop-color="#ffff00"/><stop offset=".119" stop-color="#dcff00"/><stop offset=".187" stop-color="#38ff00"/><stop offset=".214" stop-color="#00ff00"/><stop offset=".255" stop-color="#00ff48"/><stop offset=".323" stop-color="#00ffac"/><stop offset=".391" stop-color="#00fffa"/><stop offset=".396" stop-color="#00ffff"/><stop offset=".459" stop-color="#00c8ff"/><stop offset=".527" stop-color="#0099ff"/><stop offset=".595" stop-color="#0074ff"/><stop offset=".663" stop-color="#0058ff"/><stop offset=".731" stop-color="#0041ff"/><stop offset=".799" stop-color="#0030ff"/><stop offset=".867" stop-color="#0023ff"/><stop offset=".935" stop-color="#0018ff"/><stop offset="1" stop-color="#0010ff"/></linearGradient>
<linearGradient id="g288" gradientUnits="userSpaceOnUse" x1="114" x2="882" y1="0" y2="0"><stop offset="0" stop-color="#ff0000"/><stop offset=".032" stop-color="#ff0000"/><stop offset=".054" stop-color="#ff4f00"/><stop offset=".109" stop-color="#ffff00"/><stop offset=".121" stop-color="#dcff00"/><stop offset=".189" stop-color="#38ff00"/><stop offset=".216" stop-color="#00ff00"/><stop offset=".257" stop-color="#00ff48"/><stop offset=".324" stop-color="#00ffac"/><stop offset=".392" stop-color="#00fffa"/><stop offset=".397" stop-color="#00ffff"/><stop offset=".459" stop-color="#00c8ff"/><stop offset=".527" stop-color="#0099ff"/><stop offset=".595" stop-color="#0074ff"/><stop offset=".662" stop-color="#0058ff"/><stop offset=".73" stop-color="#0041ff"/><stop offset=".798" stop-color="#0030ff"/><stop offset=".865" stop-color="#0023ff"/><stop offset=".933" stop-color="#0018ff"/><stop offset="1" stop-color="#0010ff"/></linearGradient>
<linearGradient id="g289" gradientUnits="userSpaceOnUse" x1="114" x2="882" y1="0" y2="0"><stop offset="0" stop-color="#ff0000"/><stop offset=".035" stop-color="#ff0000"/><stop offset=".057" stop-color="#ff4f00"/><stop offset=".111" stop-color="#ffff00"/><stop offset=".124" stop-color="#dcff00"/><stop offset=".191" stop-color="#38ff00"/><stop offset=".218" stop-color="#00ff00"/><stop offset=".258" stop-color="#00ff48"/><stop offset=".326" stop-color="#00ffac"/><stop offset=".393" stop-color="#00fffa"/><stop offset=".398" stop-color="#00ffff"/><stop offset=".46" stop-color="#00c8ff"/><stop offset=".527" stop-color="#0099ff"/><stop offset=".595" stop-color="#0074ff"/><stop offset=".662" stop-color="#0058ff"/><stop offset=".729" stop-color="#0041ff"/><stop offset=".796" stop-color="#0030ff"/><stop offset=".864" stop-color="#0023ff"/><stop offset=".931" stop-color="#0018ff"/><stop offset=".998" stop-color="#0010ff"/></linearGradient>
<linearGradient id="g290" gradientUnits="userSpaceOnUse" x1="114" x2="882" y1="0" y2="0"><stop offset="0" stop-color="#ff0000"/><stop offset=".038" stop-color="#ff0000"/><stop offset=".059" stop-color="#ff4f00"/><stop offset=".114" stop-color="#ffff00"/><stop offset=".126" stop-color="#dcff00"/><stop offset=".193" stop-color="#38ff00"/><stop offset=".22" stop-color="#00ff00"/><stop offset=".26" stop-color="#00ff48"/><stop offset=".327" stop-color="#00ffac"/><stop offset=".394" stop-color="#00fffa"/><stop offset=".399" stop-color="#00ffff"/><stop offset=".461" stop-color="#00c8ff"/><stop offset=".528" stop-color="#0099ff"/><stop offset=".595" stop-color="#0074ff"/><stop offset=".662" stop-color="#0058ff"/><stop offset=".729" stop-color="#0041ff"/><stop offset=".795" stop-color="#0030ff"/><stop offset=".862" stop-color="#0023ff"/><stop offset=".929" stop-color="#0018ff"/><stop offset=".996" stop-color="#0010ff"/><stop offset="1" stop-color="#000fff"/></linearGradient>
<linearGradient id="g291" gradientUnits="userSpaceOnUse" x1="114" x2="882" y1="0" y2="0"><stop offset="0" stop-color="#ff0000"/><stop offset=".041" stop-color="#ff0000"/><stop offset=".062" stop-color="#ff4f00"/><stop offset=".117" stop-color="#ffff00"/><stop offset=".129" stop-color="#dcff00"/><stop offset=".195" stop-color="#38ff00"/><stop offset=".222" stop-color="#00ff00"/><stop offset=".262" stop-color="#00ff48"/><stop offset=".328" stop-color="#00ffac"/><stop offset=".395" stop-color="#00fffa"/><stop offset=".4" stop-color="#00ffff"/><stop offset=".462" stop-color="#00c8ff"/><stop offset=".528" stop-color="#0099ff"/><stop offset=".595" stop-color="#0074ff"/><stop offset=".661" stop-color="#0058ff"/><stop offset=".728" stop-color="#0041ff"/><stop offset=".794" stop-color="#0030ff"/><stop offset=".861" stop-color="#0023ff"/><stop offset=".928" stop-color="#0018ff"/><stop offset=".994" stop-color="#0010ff"/><stop offset="1" stop-color="#000fff"/></linearGradient>
<linearGradient id="g292" gradientUnits="userSpaceOnUse" x1="114" x2="882" y1="0" y2="0"><stop offset="0" stop-color="#ff0000"/><stop offset=".044" stop-color="#ff0000"/><stop offset=".065" stop-color="#ff4f00"/><stop offset=".119" stop-color="#ffff00"/><stop offset=".131" stop-color="#dcff00"/><stop offset=".197" stop-color="#38ff00"/><stop offset=".224" stop-color="#00ff00"/><stop offset=".264" stop-color="#00ff48"/><stop offset=".33" stop-color="#00ffac"/><stop offset=".396" stop-color="#00fffa"/><stop offset=".401" stop-color="#00ffff"/><stop offset=".462" stop-color="#00c8ff"/><stop offset=".529" stop-color="#0099ff"/><stop offset=".595" stop-color="#0074ff"/><stop offset=".661" stop-color="#0058ff"/><stop offset=".727" stop-color="#0041ff"/><stop offset=".793" stop-color="#0030ff"/><stop offset=".86" stop-color="#0023ff"/><stop offset=".926" stop-color="#0018ff"/><stop offset=".992" stop-color="#0010ff"/><stop offset="1" stop-color="#000fff"/></linearGradient>
<linearGradient id="g293" gradientUnits="userSpaceOnUse" x1="114" x2="882" y1="0" y2="0"><stop offset="0" stop-color="#ff0000"/><stop offset=".047" stop-color="#ff0000"/><stop offset=".068" stop-color="#ff4f00"/><stop offset=".121" stop-color="#ffff00"/><stop offset=".134" stop-color="#dcff00"/><stop offset=".199" stop-color="#38ff00"/><stop offset=".226" stop-color="#00ff00"/><stop offset=".265" stop-color="#00ff48"/><stop offset=".331" stop-color="#00ffac"/><stop offset=".397" stop-color="#00fffa"/><stop offset=".402" stop-color="#00ffff"/><stop offset=".463" stop-color="#00c8ff"/><stop offset=".529" stop-color="#0099ff"/><stop offset=".595" stop-color="#0074ff"/><stop offset=".661" stop-color="#0058ff"/><stop offset=".727" stop-color="#0041ff"/><stop offset=".792" stop-color="#0030ff"/><stop offset=".858" stop-color="#0023ff"/><stop offset=".924" stop-color="#0018ff"/><stop offset=".99" stop-color="#0010ff"/><stop offset="1" stop-color="#000fff"/></linearGradient>
<linearGradient id="g294" gradientUnits="userSpaceOnUse" x1="114" x2="882" y1="0" y2="0"><stop offset="0" stop-color="#ff0000"/><stop offset=".05" stop-color="#ff0000"/><stop offset=".07" stop-color="#ff4f00"/><stop offset=".124" stop-color="#ffff00"/><stop offset=".136" stop-color="#dcff00"/><stop offset=".202" stop-color="#38ff00"/><stop offset=".228" stop-color="#00ff00"/><stop offset=".267" stop-color="#00ff48"/><stop offset=".333" stop-color="#00ffac"/><stop offset=".398" stop-color="#00fffa"/><stop offset=".403" stop-color="#00ffff"/><stop offset=".464" stop-color="#00c8ff"/><stop offset=".529" stop-color="#0099ff"/><stop offset=".595" stop-color="#0074ff"/><stop offset=".66" stop-color="#0058ff"/><stop offset=".726" stop-color="#0041ff"/><stop offset=".791" stop-color="#0030ff"/><stop offset=".857" stop-color="#0023ff"/><stop offset=".923" stop-color="#0018ff"/><stop offset=".988" stop-color="#0010ff"/><stop offset="1" stop-color="#000fff"/></linearGradient>
<linearGradient id="g295" gradientUnits="userSpaceOnUse" x1="114" x2="882" y1="0" y2="0"><stop offset="0" stop-color="#ff0000"/><stop offset=".052" stop-color="#ff0000"/><stop offset=".073" stop-color="#ff4f00"/><stop offset=".126" stop-color="#ffff00"/><stop offset=".138" stop-color="#dcff00"/><stop offset=".204" stop-color="#38ff00"/><stop offset=".23" stop-color="#00ff00"/><stop offset=".269" stop-color="#00ff48"/><stop offset=".334" stop-color="#00ffac"/><stop offset=".399" stop-color="#00fffa"/><stop offset=".404" stop-color="#00ffff"/><stop offset=".464" stop-color="#00c8ff"/><stop offset=".53" stop-color="#0099ff"/><stop offset=".595" stop-color="#0074ff"/><stop offset=".66" stop-color="#0058ff"/><stop offset=".725" stop-color="#0041ff"/><stop offset=".79" stop-color="#0030ff"/><stop offset=".856" stop-color="#0023ff"/><stop offset=".921" stop-color="#0018ff"/><stop offset=".986" stop-color="#0010ff"/><stop offset="1" stop-color="#000eff"/></linearGradient>
<linearGradient id="g296" gradientUnits="userSpaceOnUse" x1="114" x2="882" y1="0" y2="0"><stop offset="0" stop-color="#ff0000"/><stop offset=".055" stop-color="#ff0000"/><stop offset=".076" stop-color="#ff4f00"/><stop offset=".129" stop-color="#ffff00"/><stop offset=".141" stop-color="#dcff00"/><stop offset=".206" stop-color="#38ff00"/><stop offset=".232" stop-color="#00ff00"/><stop offset=".27" stop-color="#00ff48"/><stop offset=".335" stop-color="#00ffac"/><stop offset=".4" stop-color="#00fffa"/><stop offset=".405" stop-color="#00ffff"/><stop offset=".465" stop-color="#00c8ff"/><stop offset=".53" stop-color="#0099ff"/><stop offset=".595" stop-color="#0074ff"/><stop offset=".66" stop-color="#0058ff"/><stop offset=".725" stop-color="#0041ff"/><stop offset=".789" stop-color="#0030ff"/><stop offset=".854" stop-color="#0023ff"/><stop offset=".919" stop-color="#0018ff"/><stop offset=".984" stop-color="#0010ff"/><stop offset="1" stop-color="#000eff"/></linearGradient>
<linearGradient id="g297" gradientUnits="userSpaceOnUse" x1="114" x2="882" y1="0" y2="0"><stop offset="0" stop-color="#ff0000"/><stop offset=".058" stop-color="#ff0000"/><stop offset=".078" stop-color="#ff4f00"/><stop offset=".131" stop-color="#ffff00"/><stop offset=".143" stop-color="#dcff00"/><stop offset=".208" stop-color="#38ff00"/><stop offset=".234" stop-color="#00ff00"/><stop offset=".272" stop-color="#00ff48"/><stop offset=".337" stop-color="#00ffac"/><stop offset=".401" stop-color="#00fffa"/><stop offset=".406" stop-color="#00ffff"/><stop offset=".466" stop-color="#00c8ff"/><stop offset=".53" stop-color="#0099ff"/><stop offset=".595" stop-color="#0074ff"/><stop offset=".659" stop-color="#0058ff"/><stop offset=".724" stop-color="#0041ff"/><stop offset=".789" stop-color="#0030ff"/><stop offset=".853" stop-color="#0023ff"/><stop offset=".918" stop-color="#0018ff"/><stop offset=".982" stop-color="#0010ff"/><stop offset="1" stop-color="#000eff"/></linearGradient>
<linearGradient id="g298" gradientUnits="userSpaceOnUse" x1="114" x2="882" y1="0" y2="0"><stop offset="0" stop-color="#ff0000"/><stop offset=".061" stop-color="#ff0000"/><stop offset=".081" stop-color="#ff4f00"/><stop offset=".133" stop-color="#ffff00"/><stop offset=".145" stop-color="#dcff00"/><stop offset=".21" stop-color="#38ff00"/><stop offset=".236" stop-color="#00ff00"/><stop offset=".274" stop-color="#00ff48"/><stop offset=".338" stop-color="#00ffac"/><stop offset=".402" stop-color="#00fffa"/><stop offset=".407" stop-color="#00ffff"/><stop offset=".466" stop-color="#00c8ff"/><stop offset=".531" stop-color="#0099ff"/><stop offset=".595" stop-color="#0074ff"/><stop offset=".659" stop-color="#0058ff"/><stop offset=".723" stop-color="#0041ff"/><stop offset=".788" stop-color="#0030ff"/><stop offset=".852" stop-color="#0023ff"/><stop offset=".916" stop-color="#0018ff"/><stop offset=".98" stop-color="#0010ff"/><stop offset="1" stop-color="#000eff"/></linearGradient>
<linearGradient id="g299" gradientUnits="userSpaceOnUse" x1="114" x2="882" y1="0" y2="0"><stop offset="0" stop-color="#ff0000"/><stop offset=".063" stop-color="#ff0000"/><stop offset=".084" stop-color="#ff4f00"/><stop offset=".136" stop-color="#ffff00"/><stop offset=".148" stop-color="#dcff00"/><stop offset=".211" stop-color="#38ff00"/><stop offset=".237" stop-color="#00ff00"/><stop offset=".275" stop-color="#00ff48"/><stop offset=".339" stop-color="#00ffac"/><stop offset=".403" stop-color="#00fffa"/><stop offset=".408" stop-color="#00ffff"/><stop offset=".467" stop-color="#00c8ff"/><stop offset=".531" stop-color="#0099ff"/><stop offset=".595" stop-color="#0074ff"/><stop offset=".659" stop-color="#0058ff"/><stop offset=".723" stop-color="#0041ff"/><stop offset=".787" stop-color="#0030ff"/><stop offset=".851" stop-color="#0023ff"/><stop offset=".914" stop-color="#0018ff"/><stop offset=".978" stop-color="#0010ff"/><stop offset="1" stop-color="#000eff"/></linearGradient>
<linearGradient id="g300" gradientUnits="userSpaceOnUse" x1="114" x2="882" y1="0" y2="0"><stop offset="0" stop-color="#ff0000"/><stop offset=".066" stop-color="#ff0000"/><stop offset=".086" stop-color="#ff4f00"/><stop offset=".138" stop-color="#ffff00"/><stop offset=".15" stop-color="#dcff00"/><stop offset=".213" stop-color="#38ff00"/><stop offset=".239" stop-color="#00ff00"/><stop offset=".277" stop-color="#00ff48"/><stop offset=".341" stop-color="#00ffac"/><stop offset=".404" stop-color="#00fffa"/><stop offset=".409" stop-color="#00ffff"/><stop offset=".468" stop-color="#00c8ff"/><stop offset=".531" stop-color="#0099ff"/><stop offset=".595" stop-color="#0074ff"/><stop offset=".659" stop-color="#0058ff"/><stop offset=".722" stop-color="#0041ff"/><stop offset=".786" stop-color="#0030ff"/><stop offset=".849" stop-color="#0023ff"/><stop offset=".913" stop-color="#0018ff"/><stop offset=".977" stop-color="#0010ff"/><stop offset="1" stop-color="#000dff"/></linearGradient>
<linearGradient id="g301" gradientUnits="userSpaceOnUse" x1="114" x2="882" y1="0" y2="0"><stop offset="0" stop-color="#ff0000"/><stop offset=".069" stop-color="#ff0000"/><stop offset=".089" stop-color="#ff4f00"/><stop offset=".14" stop-color="#ffff00"/><stop offset=".152" stop-color="#dcff00"/><stop offset=".215" stop-color="#38ff00"/><stop offset=".241" stop-color="#00ff00"/><stop offset=".279" stop-color="#00ff48"/><stop offset=".342" stop-color="#00ffac"/><stop offset=".405" stop-color="#00fffa"/><stop offset=".41" stop-color="#00ffff"/><stop offset=".468" stop-color="#00c8ff"/><stop offset=".532" stop-color="#0099ff"/><stop offset=".595" stop-color="#0074ff"/><stop offset=".658" stop-color="#0058ff"/><stop offset=".722" stop-color="#0041ff"/><stop offset=".785" stop-color="#0030ff"/><stop offset=".848" stop-color="#0023ff"/><stop offset=".911" stop-color="#0018ff"/><stop offset=".975" stop-color="#0010ff"/><stop offset="1" stop-color="#000dff"/></linearGradient>
<linearGradient id="g302" gradientUnits="userSpaceOnUse" x1="114" x2="882" y1="0" y2="0"><stop offset="0" stop-color="#ff0000"/><stop offset=".071" stop-color="#ff0000"/><stop offset=".091" stop-color="#ff4f00"/><stop offset=".143" stop-color="#ffff00"/><stop offset=".154" stop-color="#dcff00"/><stop offset=".217" stop-color="#38ff00"/><stop offset=".243" stop-color="#00ff00"/><stop offset=".28" stop-color="#00ff48"/><stop offset=".343" stop-color="#00ffac"/><stop offset=".406" stop-color="#00fffa"/><stop offset=".411" stop-color="#00ffff"/><stop offset=".469" stop-color="#00c8ff"/><stop offset=".532" stop-color="#0099ff"/><stop offset=".595" stop-color="#0074ff"/><stop offset=".658" stop-color="#0058ff"/><stop offset=".721" stop-color="#0041ff"/><stop offset=".784" stop-color="#0030ff"/><stop offset=".847" stop-color="#0023ff"/><stop offset=".91" stop-color="#0018ff"/><stop offset=".973" stop-color="#0010ff"/><stop offset="1" stop-color="#000dff"/></linearGradient>
<linearGradient id="g303" gradientUnits="userSpaceOnUse" x1="114" x2="882" y1="0" y2="0"><stop offset="0" stop-color="#ff0000"/><stop offset=".074" stop-color="#ff0000"/><stop offset=".094" stop-color="#ff4f00"/><stop offset=".145" stop-color="#ffff00"/><stop offset=".156" stop-color="#dcff00"/><stop offset=".219" stop-color="#38ff00"/><stop offset=".244" stop-color="#00ff00"/><stop offset=".282" stop-color="#00ff48"/><stop offset=".344" stop-color="#00ffac"/><stop offset=".407" stop-color="#00fffa"/><stop offset=".412" stop-color="#00ffff"/><stop offset=".47" stop-color="#00c8ff"/><stop offset=".532" stop-color="#0099ff"/><stop offset=".595" stop-color="#0074ff"/><stop offset=".658" stop-color="#0058ff"/><stop offset=".72" stop-color="#0041ff"/><stop offset=".783" stop-color="#0030ff"/><stop offset=".846" stop-color="#0023ff"/><stop offset=".908" stop-color="#0018ff"/><stop offset=".971" stop-color="#0010ff"/><stop offset="1" stop-color="#000dff"/></linearGradient>
<linearGradient id="g304" gradientUnits="userSpaceOnUse" x1="114" x2="882" y1="0" y2="0"><stop offset="0" stop-color="#ff0000"/><stop offset=".076" stop-color="#ff0000"/><stop offset=".096" stop-color="#ff4f00"/><stop offset=".147" stop-color="#ffff00"/><stop offset=".159" stop-color="#dcff00"/><stop offset=".221" stop-color="#38ff00"/><stop offset=".246" stop-color="#00ff00"/><stop offset=".283" stop-color="#00ff48"/><stop offset=".346" stop-color="#00ffac"/><stop offset=".408" stop-color="#00fffa"/><stop offset=".413" stop-color="#00ffff"/><stop offset=".47" stop-color="#00c8ff"/><stop offset=".533" stop-color="#0099ff"/><stop offset=".595" stop-color="#0074ff"/><stop offset=".657" stop-color="#0058ff"/><stop offset=".72" stop-color="#0041ff"/><stop offset=".782" stop-color="#0030ff"/><stop offset=".844" stop-color="#0023ff"/><stop offset=".907" stop-color="#0018ff"/><stop offset=".969" stop-color="#0010ff"/><stop offset="1" stop-color="#000dff"/></linearGradient>
<linearGradient id="g305" gradientUnits="userSpaceOnUse" x1="114" x2="882" y1="0" y2="0"><stop offset="0" stop-color="#ff0000"/><stop offset=".079" stop-color="#ff0000"/><stop offset=".099" stop-color="#ff4f00"/><stop offset=".149" stop-color="#ffff00"/><stop offset=".161" stop-color="#dcff00"/><stop offset=".223" stop-color="#38ff00"/><stop offset=".248" stop-color="#00ff00"/><stop offset=".285" stop-color="#00ff48"/><stop offset=".347" stop-color="#00ffac"/><stop offset=".409" stop-color="#00fffa"/><stop offset=".414" stop-color="#00ffff"/><stop offset=".471" stop-color="#00c8ff"/><stop offset=".533" stop-color="#0099ff"/><stop offset=".595" stop-color="#0074ff"/><stop offset=".657" stop-color="#0058ff"/><stop offset=".719" stop-color="#0041ff"/><stop offset=".781" stop-color="#0030ff"/><stop offset=".843" stop-color="#0023ff"/><stop offset=".905" stop-color="#0018ff"/><stop offset=".967" stop-color="#0010ff"/><stop offset="1" stop-color="#000cff"/></linearGradient>
<linearGradient id="g306" gradientUnits="userSpaceOnUse" x1="114" x2="882" y1="0" y2="0"><stop offset="0" stop-color="#ff0000"/><stop offset=".081" stop-color="#ff0000"/><stop offset=".101" stop-color="#ff4f00"/><stop offset=".151" stop-color="#ffff00"/><stop offset=".163" stop-color="#dcff00"/><stop offset=".225" stop-color="#38ff00"/><stop offset=".25" stop-color="#00ff00"/><stop offset=".286" stop-color="#00ff48"/><stop offset=".348" stop-color="#00ffac"/><stop offset=".41" stop-color="#00fffa"/><stop offset=".415" stop-color="#00ffff"/><stop offset=".472" stop-color="#00c8ff"/><stop offset=".533" stop-color="#0099ff"/><stop offset=".595" stop-color="#0074ff"/><stop offset=".657" stop-color="#0058ff"/><stop offset=".719" stop-color="#0041ff"/><stop offset=".78" stop-color="#0030ff"/><stop offset=".842" stop-color="#0023ff"/><stop offset=".904" stop-color="#0018ff"/><stop offset=".966" stop-color="#0010ff"/><stop offset="1" stop-color="#000cff"/></linearGradient>
<linearGradient id="g307" gradientUnits="userSpaceOnUse" x1="114" x2="882" y1="0" y2="0"><stop offset="0" stop-color="#ff0000"/><stop offset=".084" stop-color="#ff0000"/><stop offset=".103" stop-color="#ff4f00"/><stop offset=".154" stop-color="#ffff00"/><stop offset=".165" stop-color="#dcff00"/><stop offset=".226" stop-color="#38ff00"/><stop offset=".251" stop-color="#00ff00"/><stop offset=".288" stop-color="#00ff48"/><stop offset=".349" stop-color="#00ffac"/><stop offset=".411" stop-color="#00fffa"/><stop offset=".416" stop-color="#00ffff"/><stop offset=".472" stop-color="#00c8ff"/><stop offset=".534" stop-color="#0099ff"/><stop offset=".595" stop-color="#0074ff"/><stop offset=".657" stop-color="#0058ff"/><stop offset=".718" stop-color="#0041ff"/><stop offset=".779" stop-color="#0030ff"/><stop offset=".841" stop-color="#0023ff"/><stop offset=".902" stop-color="#0018ff"/><stop offset=".964" stop-color="#0010ff"/><stop offset="1" stop-color="#000cff"/></linearGradient>
<linearGradient id="g308" gradientUnits="userSpaceOnUse" x1="114" x2="882" y1="0" y2="0"><stop offset="0" stop-color="#ff0000"/><stop offset=".086" stop-color="#ff0000"/><stop offset=".106" stop-color="#ff4f00"/><stop offset=".156" stop-color="#ffff00"/><stop offset=".167" stop-color="#dcff00"/><stop offset=".228" stop-color="#38ff00"/><stop offset=".253" stop-color="#00ff00"/><stop offset=".289" stop-color="#00ff48"/><stop offset=".35" stop-color="#00ffac"/><stop offset=".412" stop-color="#00fffa"/><stop offset=".417" stop-color="#00ffff"/><stop offset=".473" stop-color="#00c8ff"/><stop offset=".534" stop-color="#0099ff"/><stop offset=".595" stop-color="#0074ff"/><stop offset=".656" stop-color="#0058ff"/><stop offset=".717" stop-color="#0041ff"/><stop offset=".779" stop-color="#0030ff"/><stop offset=".84" stop-color="#0023ff"/><stop offset=".901" stop-color="#0018ff"/><stop offset=".962" stop-color="#0010ff"/><stop offset="1" stop-color="#000cff"/></linearGradient>
<linearGradient id="g309" gradientUnits="userSpaceOnUse" x1="114" x2="882" y1="0" y2="0"><stop offset="0" stop-color="#ff0000"/><stop offset=".089" stop-color="#ff0000"/><stop offset=".108" stop-color="#ff4f00"/><stop offset=".158" stop-color="#ffff00"/><stop offset=".169" stop-color="#dcff00"/><stop offset=".23" stop-color="#38ff00"/><stop offset=".255" stop-color="#00ff00"/><stop offset=".291" stop-color="#00ff48"/><stop offset=".352" stop-color="#00ffac"/><stop offset=".413" stop-color="#00fffa"/><stop offset=".417" stop-color="#00ffff"/><stop offset=".473" stop-color="#00c8ff"/><stop offset=".534" stop-color="#0099ff"/><stop offset=".595" stop-color="#0074ff"/><stop offset=".656" stop-color="#0058ff"/><stop offset=".717" stop-color="#0041ff"/><stop offset=".778" stop-color="#0030ff"/><stop offset=".839" stop-color="#0023ff"/><stop offset=".9" stop-color="#0018ff"/><stop offset=".96" stop-color="#0010ff"/><stop offset="1" stop-color="#000cff"/></linearGradient>
<linearGradient id="g310" gradientUnits="userSpaceOnUse" x1="114" x2="882" y1="0" y2="0"><stop offset="0" stop-color="#ff0000"/><stop offset=".091" stop-color="#ff0000"/><stop offset=".111" stop-color="#ff4f00"/><stop offset=".16" stop-color="#ffff00"/><stop offset=".171" stop-color="#dcff00"/><stop offset=".232" stop-color="#38ff00"/><stop offset=".256" stop-color="#00ff00"/><stop offset=".292" stop-color="#00ff48"/><stop offset=".353" stop-color="#00ffac"/><stop offset=".413" stop-color="#00fffa"/><stop offset=".418" stop-color="#00ffff"/><stop offset=".474" stop-color="#00c8ff"/><stop offset=".535" stop-color="#0099ff"/><stop offset=".595" stop-color="#0074ff"/><stop offset=".656" stop-color="#0058ff"/><stop offset=".716" stop-color="#0041ff"/><stop offset=".777" stop-color="#0030ff"/><stop offset=".838" stop-color="#0023ff"/><stop offset=".898" stop-color="#0018ff"/><stop offset=".959" stop-color="#0010ff"/><stop offset="1" stop-color="#000bff"/></linearGradient>
<linearGradient id="g311" gradientUnits="userSpaceOnUse" x1="114" x2="882" y1="0" y2="0"><stop offset="0" stop-color="#ff0000"/><stop offset=".094" stop-color="#ff0000"/><stop offset=".113" stop-color="#ff4f00"/><stop offset=".162" stop-color="#ffff00"/><stop offset=".173" stop-color="#dcff00"/><stop offset=".233" stop-color="#38ff00"/><stop offset=".258" stop-color="#00ff00"/><stop offset=".294" stop-color="#00ff48"/><stop offset=".354" stop-color="#00ffac"/><stop offset=".414" stop-color="#00fffa"/><stop offset=".419" stop-color="#00ffff"/><stop offset=".475" stop-color="#00c8ff"/><stop offset=".535" stop-color="#0099ff"/><stop offset=".595" stop-color="#0074ff"/><stop offset=".656" stop-color="#0058ff"/><stop offset=".716" stop-color="#0041ff"/><stop offset=".776" stop-color="#0030ff"/><stop offset=".836" stop-color="#0023ff"/><stop offset=".897" stop-color="#0018ff"/><stop offset=".957" stop-color="#0010ff"/><stop offset="1" stop-color="#000bff"/></linearGradient>
<linearGradient id="g312" gradientUnits="userSpaceOnUse" x1="114" x2="882" y1="0" y2="0"><stop offset="0" stop-color="#ff0000"/><stop offset=".096" stop-color="#ff0000"/><stop offset=".115" stop-color="#ff4f00"/><stop offset=".164" stop-color="#ffff00"/><stop offset=".175" stop-color="#dcff00"/><stop offset=".235" stop-color="#38ff00"/><stop offset=".259" stop-color="#00ff00"/><stop offset=".295" stop-color="#00ff48"/><stop offset=".355" stop-color="#00ffac"/><stop offset=".415" stop-color="#00fffa"/><stop offset=".42" stop-color="#00ffff"/><stop offset=".475" stop-color="#00c8ff"/><stop offset=".535" stop-color="#0099ff"/><stop offset=".595" stop-color="#0074ff"/><stop offset=".655" stop-color="#0058ff"/><stop offset=".715" stop-color="#0041ff"/><stop offset=".775" stop-color="#0030ff"/><stop offset=".835" stop-color="#0023ff"/><stop offset=".895" stop-color="#0018ff"/><stop offset=".955" stop-color="#0010ff"/><stop offset="1" stop-color="#000bff"/></linearGradient>
<linearGradient id="g313" gradientUnits="userSpaceOnUse" x1="114" x2="882" y1="0" y2="0"><stop offset="0" stop-color="#ff0000"/><stop offset=".098" stop-color="#ff0000"/><stop offset=".117" stop-color="#ff4f00"/><stop offset=".166" stop-color="#ffff00"/><stop offset=".177" stop-color="#dcff00"/><stop offset=".237" stop-color="#38ff00"/><stop offset=".261" stop-color="#00ff00"/><stop offset=".297" stop-color="#00ff48"/><stop offset=".356" stop-color="#00ffac"/><stop offset=".416" stop-color="#00fffa"/><stop offset=".421" stop-color="#00ffff"/><stop offset=".476" stop-color="#00c8ff"/><stop offset=".536" stop-color="#0099ff"/><stop offset=".595" stop-color="#0074ff"/><stop offset=".655" stop-color="#0058ff"/><stop offset=".715" stop-color="#0041ff"/><stop offset=".774" stop-color="#0030ff"/><stop offset=".834" stop-color="#0023ff"/><stop offset=".894" stop-color="#0018ff"/><stop offset=".954" stop-color="#0010ff"/><stop offset="1" stop-color="#000bff"/></linearGradient>
<linearGradient id="g314" gradientUnits="userSpaceOnUse" x1="114" x2="882" y1="0" y2="0"><stop offset="0" stop-color="#ff0000"/><stop offset=".101" stop-color="#ff0000"/><stop offset=".12" stop-color="#ff4f00"/><stop offset=".168" stop-color="#ffff00"/><stop offset=".179" stop-color="#dcff00"/><stop offset=".239" stop-color="#38ff00"/><stop offset=".263" stop-color="#00ff00"/><stop offset=".298" stop-color="#00ff48"/><stop offset=".357" stop-color="#00ffac"/><stop offset=".417" stop-color="#00fffa"/><stop offset=".422" stop-color="#00ffff"/><stop offset=".476" stop-color="#00c8ff"/><stop offset=".536" stop-color="#0099ff"/><stop offset=".595" stop-color="#0074ff"/><stop offset=".655" stop-color="#0058ff"/><stop offset=".714" stop-color="#0041ff"/><stop offset=".774" stop-color="#0030ff"/><stop offset=".833" stop-color="#0023ff"/><stop offset=".893" stop-color="#0018ff"/><stop offset=".952" stop-color="#0010ff"/><stop offset="1" stop-color="#000bff"/></linearGradient>
<linearGradient id="g315" gradientUnits="userSpaceOnUse" x1="114" x2="882" y1="0" y2="0"><stop offset="0" stop-color="#ff0000"/><stop offset=".103" stop-color="#ff0000"/><stop offset=".122" stop-color="#ff4f00"/><stop offset=".17" stop-color="#ffff00"/><stop offset=".181" stop-color="#dcff00"/><stop offset=".24" stop-color="#38ff00"/><stop offset=".264" stop-color="#00ff00"/><stop offset=".299" stop-color="#00ff48"/><stop offset=".359" stop-color="#00ffac"/><stop offset=".418" stop-color="#00fffa"/><stop offset=".422" stop-color="#00ffff"/><stop offset=".477" stop-color="#00c8ff"/><stop offset=".536" stop-color="#0099ff"/><stop offset=".595" stop-color="#0074ff"/><stop offset=".654" stop-color="#0058ff"/><stop offset=".714" stop-color="#0041ff"/><stop offset=".773" stop-color="#0030ff"/><stop offset=".832" stop-color="#0023ff"/><stop offset=".891" stop-color="#0018ff"/><stop offset=".95" stop-color="#0010ff"/><stop offset="1" stop-color="#000aff"/></linearGradient>
<linearGradient id="g316" gradientUnits="userSpaceOnUse" x1="114" x2="882" y1="0" y2="0"><stop offset="0" stop-color="#ff0000"/><stop offset=".105" stop-color="#ff0000"/><stop offset=".124" stop-color="#ff4f00"/><stop offset=".172" stop-color="#ffff00"/><stop offset=".183" stop-color="#dcff00"/><stop offset=".242" stop-color="#38ff00"/><stop offset=".266" stop-color="#00ff00"/><stop offset=".301" stop-color="#00ff48"/><stop offset=".36" stop-color="#00ffac"/><stop offset=".419" stop-color="#00fffa"/><stop offset=".423" stop-color="#00ffff"/><stop offset=".477" stop-color="#00c8ff"/><stop offset=".536" stop-color="#0099ff"/><stop offset=".595" stop-color="#0074ff"/><stop offset=".654" stop-color="#0058ff"/><stop offset=".713" stop-color="#0041ff"/><stop offset=".772" stop-color="#0030ff"/><stop offset=".831" stop-color="#0023ff"/><stop offset=".89" stop-color="#0018ff"/><stop offset=".949" stop-color="#0010ff"/><stop offset="1" stop-color="#000aff"/></linearGradient>
<linearGradient id="g317" gradientUnits="userSpaceOnUse" x1="114" x2="882" y1="0" y2="0"><stop offset="0" stop-color="#ff0000"/><stop offset=".108" stop-color="#ff0000"/><stop offset=".126" stop-color="#ff4f00"/><stop offset=".174" stop-color="#ffff00"/><stop offset=".185" stop-color="#dcff00"/><stop offset=".243" stop-color="#38ff00"/><stop offset=".267" stop-color="#00ff00"/><stop offset=".302" stop-color="#00ff48"/><stop offset=".361" stop-color="#00ffac"/><stop offset=".419" stop-color="#00fffa"/><stop offset=".424" stop-color="#00ffff"/><stop offset=".478" stop-color="#00c8ff"/><stop offset=".537" stop-color="#0099ff"/><stop offset=".595" stop-color="#0074ff"/><stop offset=".654" stop-color="#0058ff"/><stop offset=".713" stop-color="#0041ff"/><stop offset=".771" stop-color="#0030ff"/><stop offset=".83" stop-color="#0023ff"/><stop offset=".889" stop-color="#0018ff"/><stop offset=".947" stop-color="#0010ff"/><stop offset="1" stop-color="#000aff"/></linearGradient>
<linearGradient id="g318" gradientUnits="userSpaceOnUse" x1="114" x2="882" y1="0" y2="0"><stop offset="0" stop-color="#ff0000"/><stop offset=".11" stop-color="#ff0000"/><stop offset=".128" stop-color="#ff4f00"/><stop offset=".176" stop-color="#ffff00"/><stop offset=".187" stop-color="#dcff00"/><stop offset=".245" stop-color="#38ff00"/><stop offset=".269" stop-color="#00ff00"/><stop offset=".303" stop-color="#00ff48"/><stop offset=".362" stop-color="#00ffac"/><stop offset=".42" stop-color="#00fffa"/><stop offset=".425" stop-color="#00ffff"/><stop offset=".479" stop-color="#00c8ff"/><stop offset=".537" stop-color="#0099ff"/><stop offset=".595" stop-color="#0074ff"/><stop offset=".654" stop-color="#0058ff"/><stop offset=".712" stop-color="#0041ff"/><stop offset=".77" stop-color="#0030ff"/><stop offset=".829" stop-color="#0023ff"/><stop offset=".887" stop-color="#0018ff"/><stop offset=".946" stop-color="#0010ff"/><stop offset="1" stop-color="#000aff"/></linearGradient>
<linearGradient id="g319" gradientUnits="userSpaceOnUse" x1="114" x2="882" y1="0" y2="0"><stop offset="0" stop-color="#ff0000"/><stop offset=".112" stop-color="#ff0000"/><stop offset=".131" stop-color="#ff4f00"/><stop offset=".178" stop-color="#ffff00"/><stop offset=".189" stop-color="#dcff00"/><stop offset=".247" stop-color="#38ff00"/><stop offset=".27" stop-color="#00ff00"/><stop offset=".305" stop-color="#00ff48"/><stop offset=".363" stop-color="#00ffac"/><stop offset=".421" stop-color="#00fffa"/><stop offset=".426" stop-color="#00ffff"/><stop offset=".479" stop-color="#00c8ff"/><stop offset=".537" stop-color="#0099ff"/><stop offset=".595" stop-color="#0074ff"/><stop offset=".653" stop-color="#0058ff"/><stop offset=".712" stop-color="#0041ff"/><stop offset=".77" stop-color="#0030ff"/><stop offset=".828" stop-color="#0023ff"/><stop offset=".886" stop-color="#0018ff"/><stop offset=".944" stop-color="#0010ff"/><stop offset="1" stop-color="#000aff"/></linearGradient>
<linearGradient id="g320" gradientUnits="userSpaceOnUse" x1="114" x2="882" y1="0" y2="0"><stop offset="0" stop-color="#ff0000"/><stop offset=".114" stop-color="#ff0000"/><stop offset=".133" stop-color="#ff4f00"/><stop offset=".18" stop-color="#ffff00"/><stop offset=".19" stop-color="#dcff00"/><stop offset=".248" stop-color="#38ff00"/><stop offset=".272" stop-color="#00ff00"/><stop offset=".306" stop-color="#00ff48"/><stop offset=".364" stop-color="#00ffac"/><stop offset=".422" stop-color="#00fffa"/><stop offset=".426" stop-color="#00ffff"/><stop offset=".48" stop-color="#00c8ff"/><stop offset=".538" stop-color="#0099ff"/><stop offset=".595" stop-color="#0074ff"/><stop offset=".653" stop-color="#0058ff"/><stop offset=".711" stop-color="#0041ff"/><stop offset=".769" stop-color="#0030ff"/><stop offset=".827" stop-color="#0023ff"/><stop offset=".885" stop-color="#0018ff"/><stop offset=".942" stop-color="#0010ff"/><stop offset="1" stop-color="#000aff"/></linearGradient>
<linearGradient id="g321" gradientUnits="userSpaceOnUse" x1="114" x2="882" y1="0" y2="0"><stop offset="0" stop-color="#ff0000"/><stop offset=".116" stop-color="#ff0000"/><stop offset=".135" stop-color="#ff4f00"/><stop offset=".182" stop-color="#ffff00"/><stop offset=".192" stop-color="#dcff00"/><stop offset=".25" stop-color="#38ff00"/><stop offset=".273" stop-color="#00ff00"/><stop offset=".307" stop-color="#00ff48"/><stop offset=".365" stop-color="#00ffac"/><stop offset=".423" stop-color="#00fffa"/><stop offset=".427" stop-color="#00ffff"/><stop offset=".48" stop-color="#00c8ff"/><stop offset=".538" stop-color="#0099ff"/><stop offset=".595" stop-color="#0074ff"/><stop offset=".653" stop-color="#0058ff"/><stop offset=".711" stop-color="#0041ff"/><stop offset=".768" stop-color="#0030ff"/><stop offset=".826" stop-color="#0023ff"/><stop offset=".883" stop-color="#0018ff"/><stop offset=".941" stop-color="#0010ff"/><stop offset=".999" stop-color="#000aff"/></linearGradient>
<linearGradient id="g322" gradientUnits="userSpaceOnUse" x1="114" x2="882" y1="0" y2="0"><stop offset="0" stop-color="#ff0000"/><stop offset=".119" stop-color="#ff0000"/><stop offset=".137" stop-color="#ff4f00"/><stop offset=".184" stop-color="#ffff00"/><stop offset=".194" stop-color="#dcff00"/><stop offset=".251" stop-color="#38ff00"/><stop offset=".275" stop-color="#00ff00"/><stop offset=".309" stop-color="#00ff48"/><stop offset=".366" stop-color="#00ffac"/><stop offset=".423" stop-color="#00fffa"/><stop offset=".428" stop-color="#00ffff"/><stop offset=".481" stop-color="#00c8ff"/><stop offset=".538" stop-color="#0099ff"/><stop offset=".595" stop-color="#0074ff"/><stop offset=".653" stop-color="#0058ff"/><stop offset=".71" stop-color="#0041ff"/><stop offset=".767" stop-color="#0030ff"/><stop offset=".825" stop-color="#0023ff"/><stop offset=".882" stop-color="#0018ff"/><stop offset=".939" stop-color="#0010ff"/><stop offset=".997" stop-color="#000aff"/><stop offset="1" stop-color="#0009ff"/></linearGradient>
<linearGradient id="g323" gradientUnits="userSpaceOnUse" x1="114" x2="882" y1="0" y2="0"><stop offset="0" stop-color="#ff0000"/><stop offset=".121" stop-color="#ff0000"/><stop offset=".139" stop-color="#ff4f00"/><stop offset=".185" stop-color="#ffff00"/><stop offset=".196" stop-color="#dcff00"/><stop offset=".253" stop-color="#38ff00"/><stop offset=".276" stop-color="#00ff00"/><stop offset=".31" stop-color="#00ff48"/><stop offset=".367" stop-color="#00ffac"/><stop offset=".424" stop-color="#00fffa"/><stop offset=".429" stop-color="#00ffff"/><stop offset=".481" stop-color="#00c8ff"/><stop offset=".538" stop-color="#0099ff"/><stop offset=".595" stop-color="#0074ff"/><stop offset=".653" stop-color="#0058ff"/><stop offset=".71" stop-color="#0041ff"/><stop offset=".767" stop-color="#0030ff"/><stop offset=".824" stop-color="#0023ff"/><stop offset=".881" stop-color="#0018ff"/><stop offset=".938" stop-color="#0010ff"/><stop offset=".995" stop-color="#000aff"/><stop offset="1" stop-color="#0009ff"/></linearGradient>
<linearGradient id="g324" gradientUnits="userSpaceOnUse" x1="114" x2="882" y1="0" y2="0"><stop offset="0" stop-color="#ff0000"/><stop offset=".123" stop-color="#ff0000"/><stop offset=".141" stop-color="#ff4f00"/><stop offset=".187" stop-color="#ffff00"/><stop offset=".198" stop-color="#dcff00"/><stop offset=".255" stop-color="#38ff00"/><stop offset=".278" stop-color="#00ff00"/><stop offset=".311" stop-color="#00ff48"/><stop offset=".368" stop-color="#00ffac"/><stop offset=".425" stop-color="#00fffa"/><stop offset=".43" stop-color="#00ffff"/><stop offset=".482" stop-color="#00c8ff"/><stop offset=".539" stop-color="#0099ff"/><stop offset=".595" stop-color="#0074ff"/><stop offset=".652" stop-color="#0058ff"/><stop offset=".709" stop-color="#0041ff"/><stop offset=".766" stop-color="#0030ff"/><stop offset=".823" stop-color="#0023ff"/><stop offset=".88" stop-color="#0018ff"/><stop offset=".936" stop-color="#0010ff"/><stop offset=".993" stop-color="#000aff"/><stop offset="1" stop-color="#0009ff"/></linearGradient>
<linearGradient id="g325" gradientUnits="userSpaceOnUse" x1="114" x2="882" y1="0" y2="0"><stop offset="0" stop-color="#ff0000"/><stop offset=".125" stop-color="#ff0000"/><stop offset=".143" stop-color="#ff4f00"/><stop offset=".189" stop-color="#ffff00"/><stop offset=".2" stop-color="#dcff00"/><stop offset=".256" stop-color="#38ff00"/><stop offset=".279" stop-color="#00ff00"/><stop offset=".313" stop-color="#00ff48"/><stop offset=".369" stop-color="#00ffac"/><stop offset=".426" stop-color="#00fffa"/><stop offset=".43" stop-color="#00ffff"/><stop offset=".482" stop-color="#00c8ff"/><stop offset=".539" stop-color="#0099ff"/><stop offset=".595" stop-color="#0074ff"/><stop offset=".652" stop-color="#0058ff"/><stop offset=".709" stop-color="#0041ff"/><stop offset=".765" stop-color="#0030ff"/><stop offset=".822" stop-color="#0023ff"/><stop offset=".878" stop-color="#0018ff"/><stop offset=".935" stop-color="#0010ff"/><stop offset=".991" stop-color="#000aff"/><stop offset="1" stop-color="#0009ff"/></linearGradient>
<linearGradient id="g326" gradientUnits="userSpaceOnUse" x1="114" x2="882" y1="0" y2="0"><stop offset="0" stop-color="#ff0000"/><stop offset=".127" stop-color="#ff0000"/><stop offset=".145" stop-color="#ff4f00"/><stop offset=".191" stop-color="#ffff00"/><stop offset=".201" stop-color="#dcff00"/><stop offset=".258" stop-color="#38ff00"/><stop offset=".28" stop-color="#00ff00"/><stop offset=".314" stop-color="#00ff48"/><stop offset=".37" stop-color="#00ffac"/><stop offset=".427" stop-color="#00fffa"/><stop offset=".431" stop-color="#00ffff"/><stop offset=".483" stop-color="#00c8ff"/><stop offset=".539" stop-color="#0099ff"/><stop offset=".596" stop-color="#0074ff"/><stop offset=".652" stop-color="#0058ff"/><stop offset=".708" stop-color="#0041ff"/><stop offset=".764" stop-color="#0030ff"/><stop offset=".821" stop-color="#0023ff"/><stop offset=".877" stop-color="#0018ff"/><stop offset=".933" stop-color="#0010ff"/><stop offset=".99" stop-color="#000aff"/><stop offset="1" stop-color="#0009ff"/></linearGradient>
<linearGradient id="g327" gradientUnits="userSpaceOnUse" x1="114" x2="882" y1="0" y2="0"><stop offset="0" stop-color="#ff0000"/><stop offset=".129" stop-color="#ff0000"/><stop offset=".147" stop-color="#ff4f00"/><stop offset=".193" stop-color="#ffff00"/><stop offset=".203" stop-color="#dcff00"/><stop offset=".259" stop-color="#38ff00"/><stop offset=".282" stop-color="#00ff00"/><stop offset=".315" stop-color="#00ff48"/><stop offset=".371" stop-color="#00ffac"/><stop offset=".427" stop-color="#00fffa"/><stop offset=".432" stop-color="#00ffff"/><stop offset=".483" stop-color="#00c8ff"/><stop offset=".539" stop-color="#0099ff"/><stop offset=".596" stop-color="#0074ff"/><stop offset=".652" stop-color="#0058ff"/><stop offset=".708" stop-color="#0041ff"/><stop offset=".764" stop-color="#0030ff"/><stop offset=".82" stop-color="#0023ff"/><stop offset=".876" stop-color="#0018ff"/><stop offset=".932" stop-color="#0010ff"/><stop offset=".988" stop-color="#000aff"/><stop offset="1" stop-color="#0008ff"/></linearGradient>
<linearGradient id="g328" gradientUnits="userSpaceOnUse" x1="114" x2="882" y1="0" y2="0"><stop offset="0" stop-color="#ff0000"/><stop offset=".131" stop-color="#ff0000"/><stop offset=".149" stop-color="#ff4f00"/><stop offset=".195" stop-color="#ffff00"/><stop offset=".205" stop-color="#dcff00"/><stop offset=".261" stop-color="#38ff00"/><stop offset=".283" stop-color="#00ff00"/><stop offset=".316" stop-color="#00ff48"/><stop offset=".372" stop-color="#00ffac"/><stop offset=".428" stop-color="#00fffa"/><stop offset=".433" stop-color="#00ffff"/><stop offset=".484" stop-color="#00c8ff"/><stop offset=".54" stop-color="#0099ff"/><stop offset=".596" stop-color="#0074ff"/><stop offset=".651" stop-color="#0058ff"/><stop offset=".707" stop-color="#0041ff"/><stop offset=".763" stop-color="#0030ff"/><stop offset=".819" stop-color="#0023ff"/><stop offset=".875" stop-color="#0018ff"/><stop offset=".931" stop-color="#0010ff"/><stop offset=".986" stop-color="#000aff"/><stop offset="1" stop-color="#0008ff"/></linearGradient>
<linearGradient id="g329" gradientUnits="userSpaceOnUse" x1="114" x2="882" y1="0" y2="0"><stop offset="0" stop-color="#ff0000"/><stop offset=".133" stop-color="#ff0000"/><stop offset=".151" stop-color="#ff4f00"/><stop offset=".196" stop-color="#ffff00"/><stop offset=".206" stop-color="#dcff00"/><stop offset=".262" stop-color="#38ff00"/><stop offset=".285" stop-color="#00ff00"/><stop offset=".318" stop-color="#00ff48"/><stop offset=".373" stop-color="#00ffac"/><stop offset=".429" stop-color="#00fffa"/><stop offset=".433" stop-color="#00ffff"/><stop offset=".484" stop-color="#00c8ff"/><stop offset=".54" stop-color="#0099ff"/><stop offset=".596" stop-color="#0074ff"/><stop offset=".651" stop-color="#0058ff"/><stop offset=".707" stop-color="#0041ff"/><stop offset=".762" stop-color="#0030ff"/><stop offset=".818" stop-color="#0023ff"/><stop offset=".873" stop-color="#0018ff"/><stop offset=".929" stop-color="#0010ff"/><stop offset=".985" stop-color="#000aff"/><stop offset="1" stop-color="#0008ff"/></linearGradient>
<clipPath id="cp"><rect x="115.9" y="23.7" width="764.8" height="655.6"/></clipPath>
<linearGradient id="cb" gradientUnits="userSpaceOnUse" x1="0" x2="0" y1="675.1" y2="22.7"><stop offset="0" stop-color="#0000ff"/><stop offset=".25" stop-color="#00ffff"/><stop offset=".5" stop-color="#00ff00"/><stop offset=".75" stop-color="#ffff00"/><stop offset="1" stop-color="#ff0000"/></linearGradient>
<clipPath id="cp2"><rect x="0" y="0" width="879.6" height="804"/></clipPath>
</defs>
<g clip-path="url(#cp)" shape-rendering="crispEdges">
<rect x="114" y="22" width="768" height="2" fill="url(#g0)"/>
<rect x="114" y="24" width="768" height="2" fill="url(#g1)"/>
<rect x="114" y="26" width="768" height="2" fill="url(#g2)"/>
<rect x="114" y="28" width="768" height="2" fill="url(#g3)"/>
<rect x="114" y="30" width="768" height="2" fill="url(#g4)"/>
<rect x="114" y="32" width="768" height="2" fill="url(#g5)"/>
<rect x="114" y="34" width="768" height="2" fill="url(#g6)"/>
<rect x="114" y="36" width="768" height="2" fill="url(#g7)"/>
<rect x="114" y="38" width="768" height="2" fill="url(#g8)"/>
<rect x="114" y="40" width="768" height="2" fill="url(#g9)"/>
<rect x="114" y="42" width="768" height="2" fill="url(#g10)"/>
<rect x="114" y="44" width="768" height="2" fill="url(#g11)"/>
<rect x="114" y="46" width="768" height="2" fill="url(#g12)"/>
<rect x="114" y="48" width="768" height="2" fill="url(#g13)"/>
<rect x="114" y="50" width="768" height="2" fill="url(#g14)"/>
<rect x="114" y="52" width="768" height="2" fill="url(#g15)"/>
<rect x="114" y="54" width="768" height="2" fill="url(#g16)"/>
<rect x="114" y="56" width="768" height="2" fill="url(#g17)"/>
<rect x="114" y="58" width="768" height="2" fill="url(#g18)"/>
<rect x="114" y="60" width="768" height="2" fill="url(#g19)"/>
<rect x="114" y="62" width="768" height="2" fill="url(#g20)"/>
<rect x="114" y="64" width="768" height="2" fill="url(#g21)"/>
<rect x="114" y="66" width="768" height="2" fill="url(#g22)"/>
<rect x="114" y="68" width="768" height="2" fill="url(#g23)"/>
<rect x="114" y="70" width="768" height="2" fill="url(#g24)"/>
<rect x="114" y="72" width="768" height="2" fill="url(#g25)"/>
<rect x="114" y="74" width="768" height="2" fill="url(#g26)"/>
<rect x="114" y="76" width="768" height="2" fill="url(#g27)"/>
<rect x="114" y="78" width="768" height="2" fill="url(#g28)"/>
<rect x="114" y="80" width="768" height="2" fill="url(#g29)"/>
<rect x="114" y="82" width="768" height="2" fill="url(#g30)"/>
<rect x="114" y="84" width="768" height="2" fill="url(#g31)"/>
<rect x="114" y="86" width="768" height="2" fill="url(#g32)"/>
<rect x="114" y="88" width="768" height="2" fill="url(#g33)"/>
<rect x="114" y="90" width="768" height="2" fill="url(#g34)"/>
<rect x="114" y="92" width="768" height="2" fill="url(#g35)"/>
<rect x="114" y="94" width="768" height="2" fill="url(#g36)"/>
<rect x="114" y="96" width="768" height="2" fill="url(#g37)"/>
<rect x="114" y="98" width="768" height="2" fill="url(#g38)"/>
<rect x="114" y="100" width="768" height="2" fill="url(#g39)"/>
<rect x="114" y="102" width="768" height="2" fill="url(#g40)"/>
<rect x="114" y="104" width="768" height="2" fill="url(#g41)"/>
<rect x="114" y="106" width="768" height="2" fill="url(#g42)"/>
<rect x="114" y="108" width="768" height="2" fill="url(#g43)"/>
<rect x="114" y="110" width="768" height="2" fill="url(#g44)"/>
<rect x="114" y="112" width="768" height="2" fill="url(#g45)"/>
<rect x="114" y="114" width="768" height="2" fill="url(#g46)"/>
<rect x="114" y="116" width="768" height="2" fill="url(#g47)"/>
<rect x="114" y="118" width="768" height="2" fill="url(#g48)"/>
<rect x="114" y="120" width="768" height="2" fill="url(#g49)"/>
<rect x="114" y="122" width="768" height="2" fill="url(#g50)"/>
<rect x="114" y="124" width="768" height="2" fill="url(#g51)"/>
<rect x="114" y="126" width="768" height="2" fill="url(#g52)"/>
<rect x="114" y="128" width="768" height="2" fill="url(#g53)"/>
<rect x="114" y="130" width="768" height="2" fill="url(#g54)"/>
<rect x="114" y="132" width="768" height="2" fill="url(#g55)"/>
<rect x="114" y="134" width="768" height="2" fill="url(#g56)"/>
<rect x="114" y="136" width="768" height="2" fill="url(#g57)"/>
<rect x="114" y="138" width="768" height="2" fill="url(#g58)"/>
<rect x="114" y="140" width="768" height="2" fill="url(#g59)"/>
<rect x="114" y="142" width="768" height="2" fill="url(#g60)"/>
<rect x="114" y="144" width="768" height="2" fill="url(#g61)"/>
<rect x="114" y="146" width="768" height="2" fill="url(#g62)"/>
<rect x="114" y="148" width="768" height="2" fill="url(#g63)"/>
<rect x="114" y="150" width="768" height="2" fill="url(#g64)"/>
<rect x="114" y="152" width="768" height="2" fill="url(#g65)"/>
<rect x="114" y="154" width="768" height="2" fill="url(#g66)"/>
<rect x="114" y="156" width="768" height="2" fill="url(#g67)"/>
<rect x="114" y="158" width="768" height="2" fill="url(#g68)"/>
<rect x="114" y="160" width="768" height="2" fill="url(#g69)"/>
<rect x="114" y="162" width="768" height="2" fill="url(#g70)"/>
<rect x="114" y="164" width="768" height="2" fill="url(#g71)"/>
<rect x="114" y="166" width="768" height="2" fill="url(#g72)"/>
<rect x="114" y="168" width="768" height="2" fill="url(#g73)"/>
<rect x="114" y="170" width="768" height="2" fill="url(#g74)"/>
<rect x="114" y="172" width="768" height="2" fill="url(#g75)"/>
<rect x="114" y="174" width="768" height="2" fill="url(#g76)"/>
<rect x="114" y="176" width="768" height="2" fill="url(#g77)"/>
<rect x="114" y="178" width="768" height="2" fill="url(#g78)"/>
<rect x="114" y="180" width="768" height="2" fill="url(#g79)"/>
<rect x="114" y="182" width="768" height="2" fill="url(#g80)"/>
<rect x="114" y="184" width="768" height="2" fill="url(#g81)"/>
<rect x="114" y="186" width="768" height="2" fill="url(#g82)"/>
<rect x="114" y="188" width="768" height="2" fill="url(#g83)"/>
<rect x="114" y="190" width="768" height="2" fill="url(#g84)"/>
<rect x="114" y="192" width="768" height="2" fill="url(#g85)"/>
<rect x="114" y="194" width="768" height="2" fill="url(#g86)"/>
<rect x="114" y="196" width="768" height="2" fill="url(#g87)"/>
<rect x="114" y="198" width="768" height="2" fill="url(#g88)"/>
<rect x="114" y="200" width="768" height="2" fill="url(#g89)"/>
<rect x="114" y="202" width="768" height="2" fill="url(#g90)"/>
<rect x="114" y="204" width="768" height="2" fill="url(#g91)"/>
<rect x="114" y="206" width="768" height="2" fill="url(#g92)"/>
<rect x="114" y="208" width="768" height="2" fill="url(#g93)"/>
<rect x="114" y="210" width="768" height="2" fill="url(#g94)"/>
<rect x="114" y="212" width="768" height="2" fill="url(#g95)"/>
<rect x="114" y="214" width="768" height="2" fill="url(#g96)"/>
<rect x="114" y="216" width="768" height="2" fill="url(#g97)"/>
<rect x="114" y="218" width="768" height="2" fill="url(#g98)"/>
<rect x="114" y="220" width="768" height="2" fill="url(#g99)"/>
<rect x="114" y="222" width="768" height="2" fill="url(#g100)"/>
<rect x="114" y="224" width="768" height="2" fill="url(#g101)"/>
<rect x="114" y="226" width="768" height="2" fill="url(#g102)"/>
<rect x="114" y="228" width="768" height="2" fill="url(#g103)"/>
<rect x="114" y="230" width="768" height="2" fill="url(#g104)"/>
<rect x="114" y="232" width="768" height="2" fill="url(#g105)"/>
<rect x="114" y="234" width="768" height="2" fill="url(#g106)"/>
<rect x="114" y="236" width="768" height="2" fill="url(#g107)"/>
<rect x="114" y="238" width="768" height="2" fill="url(#g108)"/>
<rect x="114" y="240" width="768" height="2" fill="url(#g109)"/>
<rect x="114" y="242" width="768" height="2" fill="url(#g110)"/>
<rect x="114" y="244" width="768" height="2" fill="url(#g111)"/>
<rect x="114" y="246" width="768" height="2" fill="url(#g112)"/>
<rect x="114" y="248" width="768" height="2" fill="url(#g113)"/>
<rect x="114" y="250" width="768" height="2" fill="url(#g114)"/>
<rect x="114" y="252" width="768" height="2" fill="url(#g115)"/>
<rect x="114" y="254" width="768" height="2" fill="url(#g116)"/>
<rect x="114" y="256" width="768" height="2" fill="url(#g117)"/>
<rect x="114" y="258" width="768" height="2" fill="url(#g118)"/>
<rect x="114" y="260" width="768" height="2" fill="url(#g119)"/>
<rect x="114" y="262" width="768" height="2" fill="url(#g120)"/>
<rect x="114" y="264" width="768" height="2" fill="url(#g121)"/>
<rect x="114" y="266" width="768" height="2" fill="url(#g122)"/>
<rect x="114" y="268" width="768" height="2" fill="url(#g123)"/>
<rect x="114" y="270" width="768" height="2" fill="url(#g124)"/>
<rect x="114" y="272" width="768" height="2" fill="url(#g125)"/>
<rect x="114" y="274" width="768" height="2" fill="url(#g126)"/>
<rect x="114" y="276" width="768" height="2" fill="url(#g127)"/>
<rect x="114" y="278" width="768" height="2" fill="url(#g128)"/>
<rect x="114" y="280" width="768" height="2" fill="url(#g129)"/>
<rect x="114" y="282" width="768" height="2" fill="url(#g130)"/>
<rect x="114" y="284" width="768" height="2" fill="url(#g131)"/>
<rect x="114" y="286" width="768" height="2" fill="url(#g132)"/>
<rect x="114" y="288" width="768" height="2" fill="url(#g133)"/>
<rect x="114" y="290" width="768" height="2" fill="url(#g134)"/>
<rect x="114" y="292" width="768" height="2" fill="url(#g135)"/>
<rect x="114" y="294" width="768" height="2" fill="url(#g136)"/>
<rect x="114" y="296" width="768" height="2" fill="url(#g137)"/>
<rect x="114" y="298" width="768" height="2" fill="url(#g138)"/>
<rect x="114" y="300" width="768" height="2" fill="url(#g139)"/>
<rect x="114" y="302" width="768" height="2" fill="url(#g140)"/>
<rect x="114" y="304" width="768" height="2" fill="url(#g141)"/>
<rect x="114" y="306" width="768" height="2" fill="url(#g142)"/>
<rect x="114" y="308" width="768" height="2" fill="url(#g143)"/>
<rect x="114" y="310" width="768" height="2" fill="url(#g144)"/>
<rect x="114" y="312" width="768" height="2" fill="url(#g145)"/>
<rect x="114" y="314" width="768" height="2" fill="url(#g146)"/>
<rect x="114" y="316" width="768" height="2" fill="url(#g147)"/>
<rect x="114" y="318" width="768" height="2" fill="url(#g148)"/>
<rect x="114" y="320" width="768" height="2" fill="url(#g149)"/>
<rect x="114" y="322" width="768" height="2" fill="url(#g150)"/>
<rect x="114" y="324" width="768" height="2" fill="url(#g151)"/>
<rect x="114" y="326" width="768" height="2" fill="url(#g152)"/>
<rect x="114" y="328" width="768" height="2" fill="url(#g153)"/>
<rect x="114" y="330" width="768" height="2" fill="url(#g154)"/>
<rect x="114" y="332" width="768" height="2" fill="url(#g155)"/>
<rect x="114" y="334" width="768" height="2" fill="url(#g156)"/>
<rect x="114" y="336" width="768" height="2" fill="url(#g157)"/>
<rect x="114" y="338" width="768" height="2" fill="url(#g158)"/>
<rect x="114" y="340" width="768" height="2" fill="url(#g159)"/>
<rect x="114" y="342" width="768" height="2" fill="url(#g160)"/>
<rect x="114" y="344" width="768" height="2" fill="url(#g161)"/>
<rect x="114" y="346" width="768" height="2" fill="url(#g162)"/>
<rect x="114" y="348" width="768" height="2" fill="url(#g163)"/>
<rect x="114" y="350" width="768" height="2" fill="url(#g164)"/>
<rect x="114" y="352" width="768" height="2" fill="url(#g165)"/>
<rect x="114" y="354" width="768" height="2" fill="url(#g166)"/>
<rect x="114" y="356" width="768" height="2" fill="url(#g167)"/>
<rect x="114" y="358" width="768" height="2" fill="url(#g168)"/>
<rect x="114" y="360" width="768" height="2" fill="url(#g169)"/>
<rect x="114" y="362" width="768" height="2" fill="url(#g170)"/>
<rect x="114" y="364" width="768" height="2" fill="url(#g171)"/>
<rect x="114" y="366" width="768" height="2" fill="url(#g172)"/>
<rect x="114" y="368" width="768" height="2" fill="url(#g173)"/>
<rect x="114" y="370" width="768" height="2" fill="url(#g174)"/>
<rect x="114" y="372" width="768" height="2" fill="url(#g175)"/>
<rect x="114" y="374" width="768" height="2" fill="url(#g176)"/>
<rect x="114" y="376" width="768" height="2" fill="url(#g177)"/>
<rect x="114" y="378" width="768" height="2" fill="url(#g178)"/>
<rect x="114" y="380" width="768" height="2" fill="url(#g179)"/>
<rect x="114" y="382" width="768" height="2" fill="url(#g180)"/>
<rect x="114" y="384" width="768" height="2" fill="url(#g181)"/>
<rect x="114" y="386" width="768" height="2" fill="url(#g182)"/>
<rect x="114" y="388" width="768" height="2" fill="url(#g183)"/>
<rect x="114" y="390" width="768" height="2" fill="url(#g184)"/>
<rect x="114" y="392" width="768" height="2" fill="url(#g185)"/>
<rect x="114" y="394" width="768" height="2" fill="url(#g186)"/>
<rect x="114" y="396" width="768" height="2" fill="url(#g187)"/>
<rect x="114" y="398" width="768" height="2" fill="url(#g188)"/>
<rect x="114" y="400" width="768" height="2" fill="url(#g189)"/>
<rect x="114" y="402" width="768" height="2" fill="url(#g190)"/>
<rect x="114" y="404" width="768" height="2" fill="url(#g191)"/>
<rect x="114" y="406" width="768" height="2" fill="url(#g192)"/>
<rect x="114" y="408" width="768" height="2" fill="url(#g193)"/>
<rect x="114" y="410" width="768" height="2" fill="url(#g194)"/>
<rect x="114" y="412" width="768" height="2" fill="url(#g195)"/>
<rect x="114" y="414" width="768" height="2" fill="url(#g196)"/>
<rect x="114" y="416" width="768" height="2" fill="url(#g197)"/>
<rect x="114" y="418" width="768" height="2" fill="url(#g198)"/>
<rect x="114" y="420" width="768" height="2" fill="url(#g199)"/>
<rect x="114" y="422" width="768" height="2" fill="url(#g200)"/>
<rect x="114" y="424" width="768" height="2" fill="url(#g201)"/>
<rect x="114" y="426" width="768" height="2" fill="url(#g202)"/>
<rect x="114" y="428" width="768" height="2" fill="url(#g203)"/>
<rect x="114" y="430" width="768" height="2" fill="url(#g204)"/>
<rect x="114" y="432" width="768" height="2" fill="url(#g205)"/>
<rect x="114" y="434" width="768" height="2" fill="url(#g206)"/>
<rect x="114" y="436" width="768" height="2" fill="url(#g207)"/>
<rect x="114" y="438" width="768" height="2" fill="url(#g208)"/>
<rect x="114" y="440" width="768" height="2" fill="url(#g209)"/>
<rect x="114" y="442" width="768" height="2" fill="url(#g210)"/>
<rect x="114" y="444" width="768" height="2" fill="url(#g211)"/>
<rect x="114" y="446" width="768" height="2" fill="url(#g212)"/>
<rect x="114" y="448" width="768" height="2" fill="url(#g213)"/>
<rect x="114" y="450" width="768" height="2" fill="url(#g214)"/>
<rect x="114" y="452" width="768" height="2" fill="url(#g215)"/>
<rect x="114" y="454" width="768" height="2" fill="url(#g216)"/>
<rect x="114" y="456" width="768" height="2" fill="url(#g217)"/>
<rect x="114" y="458" width="768" height="2" fill="url(#g218)"/>
<rect x="114" y="460" width="768" height="2" fill="url(#g219)"/>
<rect x="114" y="462" width="768" height="2" fill="url(#g220)"/>
<rect x="114" y="464" width="768" height="2" fill="url(#g221)"/>
<rect x="114" y="466" width="768" height="2" fill="url(#g222)"/>
<rect x="114" y="468" width="768" height="2" fill="url(#g223)"/>
<rect x="114" y="470" width="768" height="2" fill="url(#g224)"/>
<rect x="114" y="472" width="768" height="2" fill="url(#g225)"/>
<rect x="114" y="474" width="768" height="2" fill="url(#g226)"/>
<rect x="114" y="476" width="768" height="2" fill="url(#g227)"/>
<rect x="114" y="478" width="768" height="2" fill="url(#g228)"/>
<rect x="114" y="480" width="768" height="2" fill="url(#g229)"/>
<rect x="114" y="482" width="768" height="2" fill="url(#g230)"/>
<rect x="114" y="484" width="768" height="2" fill="url(#g231)"/>
<rect x="114" y="486" width="768" height="2" fill="url(#g232)"/>
<rect x="114" y="488" width="768" height="2" fill="url(#g233)"/>
<rect x="114" y="490" width="768" height="2" fill="url(#g234)"/>
<rect x="114" y="492" width="768" height="2" fill="url(#g235)"/>
<rect x="114" y="494" width="768" height="2" fill="url(#g236)"/>
<rect x="114" y="496" width="768" height="2" fill="url(#g237)"/>
<rect x="114" y="498" width="768" height="2" fill="url(#g238)"/>
<rect x="114" y="500" width="768" height="2" fill="url(#g239)"/>
<rect x="114" y="502" width="768" height="2" fill="url(#g240)"/>
<rect x="114" y="504" width="768" height="2" fill="url(#g241)"/>
<rect x="114" y="506" width="768" height="2" fill="url(#g242)"/>
<rect x="114" y="508" width="768" height="2" fill="url(#g243)"/>
<rect x="114" y="510" width="768" height="2" fill="url(#g244)"/>
<rect x="114" y="512" width="768" height="2" fill="url(#g245)"/>
<rect x="114" y="514" width="768" height="2" fill="url(#g246)"/>
<rect x="114" y="516" width="768" height="2" fill="url(#g247)"/>
<rect x="114" y="518" width="768" height="2" fill="url(#g248)"/>
<rect x="114" y="520" width="768" height="2" fill="url(#g249)"/>
<rect x="114" y="522" width="768" height="2" fill="url(#g250)"/>
<rect x="114" y="524" width="768" height="2" fill="url(#g251)"/>
<rect x="114" y="526" width="768" height="2" fill="url(#g252)"/>
<rect x="114" y="528" width="768" height="2" fill="url(#g253)"/>
<rect x="114" y="530" width="768" height="2" fill="url(#g254)"/>
<rect x="114" y="532" width="768" height="2" fill="url(#g255)"/>
<rect x="114" y="534" width="768" height="2" fill="url(#g256)"/>
<rect x="114" y="536" width="768" height="2" fill="url(#g257)"/>
<rect x="114" y="538" width="768" height="2" fill="url(#g258)"/>
<rect x="114" y="540" width="768" height="2" fill="url(#g259)"/>
<rect x="114" y="542" width="768" height="2" fill="url(#g260)"/>
<rect x="114" y="544" width="768" height="2" fill="url(#g261)"/>
<rect x="114" y="546" width="768" height="2" fill="url(#g262)"/>
<rect x="114" y="548" width="768" height="2" fill="url(#g263)"/>
<rect x="114" y="550" width="768" height="2" fill="url(#g264)"/>
<rect x="114" y="552" width="768" height="2" fill="url(#g265)"/>
<rect x="114" y="554" width="768" height="2" fill="url(#g266)"/>
<rect x="114" y="556" width="768" height="2" fill="url(#g267)"/>
<rect x="114" y="558" width="768" height="2" fill="url(#g268)"/>
<rect x="114" y="560" width="768" height="2" fill="url(#g269)"/>
<rect x="114" y="562" width="768" height="2" fill="url(#g270)"/>
<rect x="114" y="564" width="768" height="2" fill="url(#g271)"/>
<rect x="114" y="566" width="768" height="2" fill="url(#g272)"/>
<rect x="114" y="568" width="768" height="2" fill="url(#g273)"/>
<rect x="114" y="570" width="768" height="2" fill="url(#g274)"/>
<rect x="114" y="572" width="768" height="2" fill="url(#g275)"/>
<rect x="114" y="574" width="768" height="2" fill="url(#g276)"/>
<rect x="114" y="576" width="768" height="2" fill="url(#g277)"/>
<rect x="114" y="578" width="768" height="2" fill="url(#g278)"/>
<rect x="114" y="580" width="768" height="2" fill="url(#g279)"/>
<rect x="114" y="582" width="768" height="2" fill="url(#g280)"/>
<rect x="114" y="584" width="768" height="2" fill="url(#g281)"/>
<rect x="114" y="586" width="768" height="2" fill="url(#g282)"/>
<rect x="114" y="588" width="768" height="2" fill="url(#g283)"/>
<rect x="114" y="590" width="768" height="2" fill="url(#g284)"/>
<rect x="114" y="592" width="768" height="2" fill="url(#g285)"/>
<rect x="114" y="594" width="768" height="2" fill="url(#g286)"/>
<rect x="114" y="596" width="768" height="2" fill="url(#g287)"/>
<rect x="114" y="598" width="768" height="2" fill="url(#g288)"/>
<rect x="114" y="600" width="768" height="2" fill="url(#g289)"/>
<rect x="114" y="602" width="768" height="2" fill="url(#g290)"/>
<rect x="114" y="604" width="768" height="2" fill="url(#g291)"/>
<rect x="114" y="606" width="768" height="2" fill="url(#g292)"/>
<rect x="114" y="608" width="768" height="2" fill="url(#g293)"/>
<rect x="114" y="610" width="768" height="2" fill="url(#g294)"/>
<rect x="114" y="612" width="768" height="2" fill="url(#g295)"/>
<rect x="114" y="614" width="768" height="2" fill="url(#g296)"/>
<rect x="114" y="616" width="768" height="2" fill="url(#g297)"/>
<rect x="114" y="618" width="768" height="2" fill="url(#g298)"/>
<rect x="114" y="620" width="768" height="2" fill="url(#g299)"/>
<rect x="114" y="622" width="768" height="2" fill="url(#g300)"/>
<rect x="114" y="624" width="768" height="2" fill="url(#g301)"/>
<rect x="114" y="626" width="768" height="2" fill="url(#g302)"/>
<rect x="114" y="628" width="768" height="2" fill="url(#g303)"/>
<rect x="114" y="630" width="768" height="2" fill="url(#g304)"/>
<rect x="114" y="632" width="768" height="2" fill="url(#g305)"/>
<rect x="114" y="634" width="768" height="2" fill="url(#g306)"/>
<rect x="114" y="636" width="768" height="2" fill="url(#g307)"/>
<rect x="114" y="638" width="768" height="2" fill="url(#g308)"/>
<rect x="114" y="640" width="768" height="2" fill="url(#g309)"/>
<rect x="114" y="642" width="768" height="2" fill="url(#g310)"/>
<rect x="114" y="644" width="768" height="2" fill="url(#g311)"/>
<rect x="114" y="646" width="768" height="2" fill="url(#g312)"/>
<rect x="114" y="648" width="768" height="2" fill="url(#g313)"/>
<rect x="114" y="650" width="768" height="2" fill="url(#g314)"/>
<rect x="114" y="652" width="768" height="2" fill="url(#g315)"/>
<rect x="114" y="654" width="768" height="2" fill="url(#g316)"/>
<rect x="114" y="656" width="768" height="2" fill="url(#g317)"/>
<rect x="114" y="658" width="768" height="2" fill="url(#g318)"/>
<rect x="114" y="660" width="768" height="2" fill="url(#g319)"/>
<rect x="114" y="662" width="768" height="2" fill="url(#g320)"/>
<rect x="114" y="664" width="768" height="2" fill="url(#g321)"/>
<rect x="114" y="666" width="768" height="2" fill="url(#g322)"/>
<rect x="114" y="668" width="768" height="2" fill="url(#g323)"/>
<rect x="114" y="670" width="768" height="2" fill="url(#g324)"/>
<rect x="114" y="672" width="768" height="2" fill="url(#g325)"/>
<rect x="114" y="674" width="768" height="2" fill="url(#g326)"/>
<rect x="114" y="676" width="768" height="2" fill="url(#g327)"/>
<rect x="114" y="678" width="768" height="2" fill="url(#g328)"/>
<rect x="114" y="680" width="768" height="2" fill="url(#g329)"/>
</g>
<g clip-path="url(#cp)">
<path d="M118.8,223.7L120.0,223.8L121.1,223.8L122.3,223.8L123.4,223.8L124.5,223.8L125.7,223.8L126.8,223.8M143.3,223.9L144.4,223.9L145.5,223.9L146.6,224.0L147.6,224.0L148.7,224.0L149.8,224.0L150.8,224.0L151.9,224.0M169.1,224.2L170.1,224.2L171.1,224.2L172.1,224.2L173.1,224.2L174.1,224.2L175.1,224.2L176.1,224.2L177.1,224.2M193.7,224.4L195.2,224.4L196.6,224.4L198.0,224.4L199.4,224.5L200.8,224.5L202.2,224.5M218.7,224.7L220.0,224.7L221.4,224.7L222.7,224.7L224.0,224.7L225.3,224.8L226.6,224.8L227.5,224.8M244.1,225.0L245.3,225.0L246.6,225.0L247.8,225.1L249.0,225.1L250.3,225.1L251.5,225.1L252.7,225.1M269.2,225.4L270.4,225.4L271.5,225.4L272.7,225.4L273.8,225.5L274.9,225.5L276.0,225.5L277.2,225.5L277.5,225.5M294.2,225.8L295.6,225.9L297.0,225.9L298.4,225.9L299.8,225.9L301.2,226.0L302.5,226.0L302.9,226.0M319.1,226.4L320.4,226.4L321.6,226.4L322.9,226.4L324.2,226.5L325.4,226.5L326.7,226.5L327.9,226.6M344.4,227.0L345.8,227.1L347.2,227.1L348.7,227.1L350.1,227.2L351.5,227.2L352.9,227.3L353.2,227.3M369.5,227.8L371.0,227.9L372.5,227.9L374.1,228.0L375.6,228.0L377.1,228.1L378.3,228.1M394.4,228.8L395.7,228.9L397.1,229.0L398.4,229.0L399.7,229.1L401.0,229.2L402.3,229.2L403.2,229.3M419.6,230.2L421.1,230.3L422.7,230.4L424.2,230.5L425.7,230.6L427.2,230.7L428.5,230.8M444.7,232.1L446.2,232.2L447.6,232.4L449.1,232.5L450.5,232.6L451.9,232.8L453.2,232.9L453.4,232.9M469.8,234.9L471.3,235.1L472.7,235.3L474.1,235.5L475.5,235.7L476.8,235.9L478.2,236.2L478.6,236.2M495.0,239.5L496.5,239.9L498.0,240.2L499.4,240.6L500.8,241.0L502.2,241.4L503.5,241.8L503.6,241.8M520.6,248.5L522.0,249.3L523.3,250.0L524.6,250.7L525.8,251.5L527.0,252.3L528.2,253.1L528.3,253.2M543.7,269.5L544.4,270.6L545.1,271.8L545.8,273.1L546.5,274.4L547.2,275.7L547.8,277.0L548.0,277.3M553.6,292.3L553.9,293.7L554.3,295.1L554.7,296.5L555.1,297.9L555.5,299.4L555.8,300.9M559.3,319.2L559.5,320.6L559.7,322.0L559.9,323.4L560.1,324.8L560.3,326.3L560.5,327.7L560.6,328.0M562.4,344.2L562.6,345.6L562.7,347.1L562.8,348.5L563.0,349.9L563.1,351.4L563.2,352.9L563.2,353.1M564.5,369.3L564.6,370.6L564.7,371.9L564.8,373.3L564.8,374.6L564.9,376.0L565.0,377.4L565.1,378.2M566.0,394.4L566.0,395.7L566.1,397.0L566.2,398.4L566.2,399.7L566.3,401.1L566.3,402.4L566.4,403.1M567.1,419.6L567.1,420.9L567.2,422.1L567.2,423.4L567.3,424.7L567.3,426.0L567.3,427.3L567.4,428.3M567.9,444.6L568.0,446.0L568.0,447.4L568.0,448.8L568.1,450.3L568.1,451.7L568.2,453.2M568.6,469.5L568.6,470.7L568.7,472.0L568.7,473.3L568.7,474.5L568.7,475.8L568.8,477.1L568.8,478.4M569.2,494.8L569.2,496.1L569.2,497.5L569.2,498.9L569.3,500.3L569.3,501.7L569.3,503.1M569.6,519.9L569.6,521.1L569.7,522.2L569.7,523.3L569.7,524.5L569.7,525.6L569.7,526.8L569.8,527.9L569.8,528.3M570.0,545.0L570.0,546.2L570.0,547.4L570.1,548.7L570.1,549.9L570.1,551.2L570.1,552.4L570.1,553.2M570.3,569.9L570.4,571.3L570.4,572.6L570.4,573.9L570.4,575.2L570.4,576.6L570.4,577.9L570.5,578.8M570.6,594.9L570.7,596.3L570.7,597.7L570.7,599.2L570.7,600.6L570.7,602.0L570.7,603.5M570.9,620.2L570.9,621.2L570.9,622.2L570.9,623.2L570.9,624.2L570.9,625.2L571.0,626.2L571.0,627.2L571.0,628.3M571.1,645.0L571.1,646.0L571.1,647.1L571.1,648.2L571.2,649.3L571.2,650.3L571.2,651.4L571.2,652.5L571.2,653.6M571.3,670.2L571.3,671.3L571.3,672.5L571.3,673.6L571.4,674.7L571.4,675.9L571.4,677.0L571.4,678.2" fill="none" stroke="#ffff00" stroke-width="6.8" stroke-linecap="round" stroke-linejoin="round"/>
<path d="M582.4,24.0L582.5,25.5L582.6,27.0L582.6,28.5L582.7,29.9L582.7,31.4L582.8,32.7M583.6,49.1L583.7,50.6L583.7,52.1L583.8,53.5L583.9,55.0L584.0,56.4L584.1,57.8L584.1,58.0M585.1,74.5L585.2,76.0L585.3,77.6L585.5,79.1L585.6,80.6L585.7,82.0L585.8,83.4M587.3,99.5L587.4,101.0L587.6,102.5L587.8,104.0L587.9,105.5L588.1,106.9L588.3,108.3L588.3,108.4M590.6,124.8L590.9,126.3L591.1,127.7L591.4,129.1L591.6,130.5L591.9,131.9L592.2,133.3L592.2,133.6M596.2,149.8L596.7,151.3L597.2,152.7L597.7,154.2L598.2,155.6L598.7,156.9L599.2,158.3M608.6,175.6L609.6,176.8L610.5,178.0L611.5,179.1L612.5,180.2L613.6,181.3L614.6,182.3M631.4,193.6L632.7,194.2L634.0,194.8L635.3,195.3L636.7,195.9L638.1,196.4L639.5,196.9L639.7,197.0M656.3,201.8L657.6,202.1L659.0,202.4L660.4,202.7L661.8,202.9L663.2,203.2L664.7,203.5L665.0,203.6M681.6,206.2L682.9,206.4L684.3,206.5L685.7,206.7L687.1,206.9L688.5,207.0L689.9,207.2L690.4,207.3M706.7,208.9L708.1,209.0L709.6,209.1L711.0,209.2L712.5,209.4L713.9,209.5L715.4,209.6L715.5,209.6M731.6,210.7L733.0,210.8L734.4,210.9L735.8,211.0L737.2,211.0L738.6,211.1L740.0,211.2L740.5,211.2M756.8,212.1L758.2,212.1L759.6,212.2L761.1,212.2L762.5,212.3L764.0,212.4L765.4,212.4L765.6,212.4M781.7,213.1L783.1,213.1L784.5,213.2L786.0,213.2L787.4,213.3L788.8,213.3L790.3,213.4L790.5,213.4M806.9,213.9L808.3,213.9L809.6,213.9L811.0,214.0L812.4,214.0L813.8,214.0L815.1,214.1L815.6,214.1M832.0,214.5L833.2,214.5L834.5,214.6L835.7,214.6L837.0,214.6L838.2,214.6L839.5,214.7L840.5,214.7M856.9,215.0L858.3,215.0L859.7,215.1L861.1,215.1L862.4,215.1L863.8,215.1L865.2,215.2L865.8,215.2" fill="none" stroke="#ffff00" stroke-width="6.8" stroke-linecap="round" stroke-linejoin="round"/>
<line x1="115.85" y1="220.4" x2="874.6" y2="220.4" stroke="#ff8000" stroke-width="4.6" stroke-linecap="round" stroke-dasharray="17.4 22.6"/>
<line x1="115.85" y1="460.8" x2="874.6" y2="460.8" stroke="#ff8000" stroke-width="4.6" stroke-linecap="round" stroke-dasharray="17.4 22.6"/>
<line x1="574.7" y1="35.7" x2="574.7" y2="679.3" stroke="#fff" stroke-width="4.6"/>
</g>
<polygon points="268.5,332.5 272.9,346.0 287.0,346.0 275.6,354.3 280.0,367.8 268.5,359.5 257.0,367.8 261.4,354.3 250.0,346.0 264.1,346.0" fill="#800080" stroke="#800080" stroke-width="1.8" stroke-linejoin="round"/>
<polygon points="268.5,441.8 272.9,455.3 287.0,455.3 275.6,463.6 280.0,477.1 268.5,468.7 257.0,477.1 261.4,463.6 250.0,455.3 264.1,455.3" fill="#0000ff" stroke="#0000ff" stroke-width="1.8" stroke-linejoin="round"/>
<polygon points="268.5,551.1 272.9,564.5 287.0,564.5 275.6,572.9 280.0,586.3 268.5,578.0 257.0,586.3 261.4,572.9 250.0,564.5 264.1,564.5" fill="#ff0000" stroke="#ff0000" stroke-width="1.8" stroke-linejoin="round"/>
<g fill="#ffff00" stroke="none"><rect x="738.3" y="231" width="3.6" height="29.6"/><polygon points="740.1,214.3 745.6,233 734.7,233"/><rect x="574" y="283.6" width="38" height="3.4"/><polygon points="557.2,285.3 575.5,280 575.5,290.6"/></g>
<text class="t" y="201.8" font-size="44" font-weight="bold" fill="#ff8000"><tspan font-style="italic" x="404.5">f</tspan><tspan font-style="italic" font-size="35" letter-spacing=".8" x="415.5" dy="10">PE</tspan><tspan x="459.8" dy="-10">=0</tspan></text>
<text class="t" y="442.6" font-size="44" font-weight="bold" fill="#ff8000"><tspan font-style="italic" x="407.8">f</tspan><tspan font-style="italic" font-size="35" letter-spacing=".8" x="418.8" dy="10">PE</tspan><tspan x="463.1" dy="-10">=1</tspan></text>
<g stroke="#000" fill="none">
<path d="M146.4,24.7v4.4M146.4,678.3v-4.4M177.0,24.7v4.4M177.0,678.3v-4.4M207.6,24.7v4.4M207.6,678.3v-4.4M238.2,24.7v4.4M238.2,678.3v-4.4M268.8,24.7v10.7M268.8,678.3v-10.7M299.4,24.7v4.4M299.4,678.3v-4.4M330.0,24.7v4.4M330.0,678.3v-4.4M360.6,24.7v4.4M360.6,678.3v-4.4M391.2,24.7v4.4M391.2,678.3v-4.4M421.8,24.7v10.7M421.8,678.3v-10.7M452.3,24.7v4.4M452.3,678.3v-4.4M482.9,24.7v4.4M482.9,678.3v-4.4M513.5,24.7v4.4M513.5,678.3v-4.4M544.1,24.7v4.4M544.1,678.3v-4.4M574.7,24.7v10.7M574.7,678.3v-10.7M605.3,24.7v4.4M605.3,678.3v-4.4M635.9,24.7v4.4M635.9,678.3v-4.4M666.5,24.7v4.4M666.5,678.3v-4.4M697.1,24.7v4.4M697.1,678.3v-4.4M727.7,24.7v10.7M727.7,678.3v-10.7M758.2,24.7v4.4M758.2,678.3v-4.4M788.8,24.7v4.4M788.8,678.3v-4.4M819.4,24.7v4.4M819.4,678.3v-4.4M850.0,24.7v4.4M850.0,678.3v-4.4M116.9,624.7h4.4M879.6,624.7h-4.4M116.9,570.1h10.7M879.6,570.1h-10.7M116.9,515.4h4.4M879.6,515.4h-4.4M116.9,460.8h10.7M879.6,460.8h-10.7M116.9,406.2h4.4M879.6,406.2h-4.4M116.9,351.5h10.7M879.6,351.5h-10.7M116.9,296.9h4.4M879.6,296.9h-4.4M116.9,242.3h10.7M879.6,242.3h-10.7M116.9,187.6h4.4M879.6,187.6h-4.4M116.9,133.0h10.7M879.6,133.0h-10.7M116.9,78.4h4.4M879.6,78.4h-4.4" stroke-width="2.6" stroke-linecap="round"/>
<rect x="115.9" y="23.7" width="764.8" height="655.6" stroke-width="3" stroke-linejoin="round"/>
</g>
<g clip-path="url(#cp2)"><text class="t" x="614.3" y="296.5" font-size="47.5" font-weight="bold" fill="#ffff00">n<tspan font-size="33" dy="9.8">Z</tspan><tspan dy="-9.8">(</tspan><tspan font-weight="normal" font-size="43">π</tspan>)/n<tspan font-size="33" dy="9.8">Z</tspan><tspan dy="-9.8">(0)=1</tspan></text></g>
<g class="a" font-size="50" fill="#000">
<text x="101.9" y="693.3" text-anchor="end">-2</text><text x="101.9" y="584.1" text-anchor="end">-1</text><text x="101.9" y="474.8" text-anchor="end">0</text><text x="101.9" y="365.5" text-anchor="end">1</text><text x="101.9" y="256.3" text-anchor="end">2</text><text x="101.9" y="147.0" text-anchor="end">3</text><text x="101.9" y="37.7" text-anchor="end">4</text><text x="115.9" y="731.7" text-anchor="middle">-15</text><text x="268.8" y="731.7" text-anchor="middle">-10</text><text x="421.8" y="731.7" text-anchor="middle">-5</text><text x="574.7" y="731.7" text-anchor="middle">0</text><text x="727.7" y="731.7" text-anchor="middle">5</text><text x="880.6" y="731.7" text-anchor="middle">10</text>
</g>
<text class="t" transform="translate(0.5,423.6) scale(1.07,0.95)" font-size="76" font-style="italic" fill="#000">α</text>
<rect x="5.6" y="378.6" width="47.4" height="2.7" fill="#000"/>
<text class="t" transform="translate(43.5,440.4) scale(1.24,0.98)" font-size="44" font-style="italic" fill="#000">θ</text>
<text class="t" transform="translate(468.6,781.2) scale(1.07,1)" font-size="57.5" fill="#000">v</text>
<rect x="468.4" y="746.8" width="30.6" height="2.3" fill="#000"/>
<text class="t" transform="translate(500.3,796.2) scale(1.26,1)" font-size="36" font-style="italic" fill="#000">θ</text>
<text class="t" x="524.5" y="796.4" font-size="36" font-style="italic" fill="#000">,</text>
<text class="t" x="534.5" y="796.4" font-size="36" font-style="italic" fill="#000">z</text>
<text class="t" x="557" y="781.2" font-size="60" fill="#000">(km/s)</text>
<rect x="895.3" y="22.7" width="30.9" height="652.4" fill="url(#cb)"/>
<path d="M895.3,26.8H926.2M895.3,30.7H926.2M895.3,34.7H926.2M895.3,55.2H926.2M895.3,59.2H926.2M895.3,63.1H926.2M895.3,67.1H926.2M895.3,71.0H926.2M895.3,75.0H926.2M895.3,79.0H926.2M895.3,100.3H926.2M895.3,104.3H926.2M895.3,108.2H926.2M895.3,112.2H926.2M895.3,132.7H926.2M895.3,136.7H926.2M895.3,140.6H926.2M895.3,144.6H926.2M895.3,148.5H926.2M895.3,152.5H926.2M895.3,156.5H926.2M895.3,177.8H926.2M895.3,181.8H926.2M895.3,185.7H926.2M895.3,189.7H926.2M895.3,210.2H926.2M895.3,214.2H926.2M895.3,218.1H926.2M895.3,222.1H926.2M895.3,226.0H926.2M895.3,230.0H926.2M895.3,234.0H926.2M895.3,255.3H926.2M895.3,259.3H926.2M895.3,263.2H926.2M895.3,267.2H926.2M895.3,287.7H926.2M895.3,291.7H926.2M895.3,295.6H926.2M895.3,299.6H926.2M895.3,303.5H926.2M895.3,307.5H926.2M895.3,311.5H926.2M895.3,332.8H926.2M895.3,336.8H926.2M895.3,340.7H926.2M895.3,344.7H926.2M895.3,365.2H926.2M895.3,369.2H926.2M895.3,373.1H926.2M895.3,377.1H926.2M895.3,381.0H926.2M895.3,385.0H926.2M895.3,389.0H926.2M895.3,410.3H926.2M895.3,414.3H926.2M895.3,418.2H926.2M895.3,422.2H926.2M895.3,442.7H926.2M895.3,446.7H926.2M895.3,450.6H926.2M895.3,454.6H926.2M895.3,458.5H926.2M895.3,462.5H926.2M895.3,466.5H926.2M895.3,487.8H926.2M895.3,491.8H926.2M895.3,495.7H926.2M895.3,499.7H926.2M895.3,520.2H926.2M895.3,524.2H926.2M895.3,528.1H926.2M895.3,532.1H926.2M895.3,536.0H926.2M895.3,540.0H926.2M895.3,544.0H926.2M895.3,565.3H926.2M895.3,569.3H926.2M895.3,573.2H926.2M895.3,577.2H926.2M895.3,597.7H926.2M895.3,601.7H926.2M895.3,605.6H926.2M895.3,609.6H926.2M895.3,613.5H926.2M895.3,617.5H926.2M895.3,621.5H926.2M895.3,642.8H926.2M895.3,646.8H926.2M895.3,650.7H926.2M895.3,654.7H926.2" stroke="#fff" stroke-opacity=".3" stroke-width=".9" fill="none"/>
<g class="a" font-size="24.6" fill="#000">
<text x="929.3" y="36.1">8.00</text><text x="929.3" y="93.6">7.30</text><text x="929.3" y="167.6">6.40</text><text x="929.3" y="241.5">5.50</text><text x="929.3" y="315.4">4.60</text><text x="929.3" y="389.4">3.70</text><text x="929.3" y="463.3">2.80</text><text x="929.3" y="537.2">1.90</text><text x="929.3" y="611.2">1.00</text><text x="929.3" y="685.1">0.10</text>
</g>
</svg>
</body></html>
